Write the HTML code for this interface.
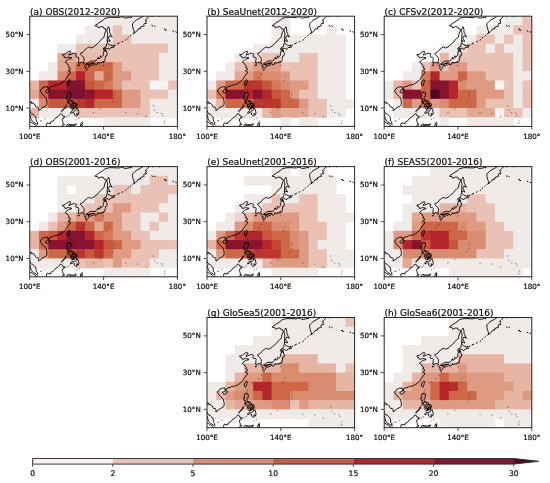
<!DOCTYPE html>
<html><head><meta charset="utf-8"><title>Figure</title>
<style>html,body{margin:0;padding:0;background:#fff}body{width:550px;height:483px;overflow:hidden}svg{display:block}</style>
</head><body>
<svg width="550" height="483" viewBox="0 0 550 483" font-family="'DejaVu Sans', 'Liberation Sans', sans-serif" fill="#111"><style>text{stroke:#111;stroke-width:0.22px}</style>
<rect width="550" height="483" fill="#fff"/>
<g transform="translate(29.8,16.2)">
<svg x="0" y="0" width="147.6" height="110.2" overflow="hidden">
<rect x="64.58" y="0.00" width="9.82" height="9.78" fill="#f0eae9"/>
<rect x="73.80" y="0.00" width="9.82" height="9.78" fill="#f0eae9"/>
<rect x="83.02" y="0.00" width="9.82" height="9.78" fill="#f0eae9"/>
<rect x="92.25" y="0.00" width="9.82" height="9.78" fill="#f0eae9"/>
<rect x="101.47" y="0.00" width="9.82" height="9.78" fill="#f0eae9"/>
<rect x="110.70" y="0.00" width="9.82" height="9.78" fill="#f0eae9"/>
<rect x="119.92" y="0.00" width="9.82" height="9.78" fill="#f0eae9"/>
<rect x="129.15" y="0.00" width="9.82" height="9.78" fill="#f0eae9"/>
<rect x="138.38" y="0.00" width="9.82" height="9.78" fill="#f0eae9"/>
<rect x="55.35" y="9.18" width="9.82" height="9.78" fill="#f0eae9"/>
<rect x="64.58" y="9.18" width="9.82" height="9.78" fill="#f0eae9"/>
<rect x="73.80" y="9.18" width="9.82" height="9.78" fill="#f0eae9"/>
<rect x="83.02" y="9.18" width="9.82" height="9.78" fill="#eac2b5"/>
<rect x="92.25" y="9.18" width="9.82" height="9.78" fill="#f0eae9"/>
<rect x="101.47" y="9.18" width="9.82" height="9.78" fill="#f0eae9"/>
<rect x="110.70" y="9.18" width="9.82" height="9.78" fill="#f0eae9"/>
<rect x="119.92" y="9.18" width="9.82" height="9.78" fill="#f0eae9"/>
<rect x="129.15" y="9.18" width="9.82" height="9.78" fill="#f0eae9"/>
<rect x="138.38" y="9.18" width="9.82" height="9.78" fill="#f0eae9"/>
<rect x="46.12" y="18.37" width="9.82" height="9.78" fill="#f0eae9"/>
<rect x="55.35" y="18.37" width="9.82" height="9.78" fill="#f0eae9"/>
<rect x="64.58" y="18.37" width="9.82" height="9.78" fill="#f0eae9"/>
<rect x="73.80" y="18.37" width="9.82" height="9.78" fill="#f0eae9"/>
<rect x="83.02" y="18.37" width="9.82" height="9.78" fill="#eac2b5"/>
<rect x="92.25" y="18.37" width="9.82" height="9.78" fill="#eac2b5"/>
<rect x="101.47" y="18.37" width="9.82" height="9.78" fill="#f0eae9"/>
<rect x="110.70" y="18.37" width="9.82" height="9.78" fill="#f0eae9"/>
<rect x="119.92" y="18.37" width="9.82" height="9.78" fill="#f0eae9"/>
<rect x="129.15" y="18.37" width="9.82" height="9.78" fill="#f0eae9"/>
<rect x="138.38" y="18.37" width="9.82" height="9.78" fill="#f0eae9"/>
<rect x="27.67" y="27.55" width="9.82" height="9.78" fill="#f0eae9"/>
<rect x="36.90" y="27.55" width="9.82" height="9.78" fill="#f0eae9"/>
<rect x="46.12" y="27.55" width="9.82" height="9.78" fill="#eac2b5"/>
<rect x="55.35" y="27.55" width="9.82" height="9.78" fill="#eac2b5"/>
<rect x="64.58" y="27.55" width="9.82" height="9.78" fill="#eac2b5"/>
<rect x="73.80" y="27.55" width="9.82" height="9.78" fill="#eac2b5"/>
<rect x="83.02" y="27.55" width="9.82" height="9.78" fill="#eac2b5"/>
<rect x="92.25" y="27.55" width="9.82" height="9.78" fill="#eac2b5"/>
<rect x="101.47" y="27.55" width="9.82" height="9.78" fill="#eac2b5"/>
<rect x="110.70" y="27.55" width="9.82" height="9.78" fill="#eac2b5"/>
<rect x="119.92" y="27.55" width="9.82" height="9.78" fill="#eac2b5"/>
<rect x="129.15" y="27.55" width="9.82" height="9.78" fill="#eac2b5"/>
<rect x="138.38" y="27.55" width="9.82" height="9.78" fill="#f0eae9"/>
<rect x="27.67" y="36.73" width="9.82" height="9.78" fill="#e3a893"/>
<rect x="36.90" y="36.73" width="9.82" height="9.78" fill="#e3a893"/>
<rect x="46.12" y="36.73" width="9.82" height="9.78" fill="#e9bdae"/>
<rect x="55.35" y="36.73" width="9.82" height="9.78" fill="#e9bdae"/>
<rect x="64.58" y="36.73" width="9.82" height="9.78" fill="#e9bdae"/>
<rect x="73.80" y="36.73" width="9.82" height="9.78" fill="#eac2b5"/>
<rect x="83.02" y="36.73" width="9.82" height="9.78" fill="#eac2b5"/>
<rect x="92.25" y="36.73" width="9.82" height="9.78" fill="#eac2b5"/>
<rect x="101.47" y="36.73" width="9.82" height="9.78" fill="#eac2b5"/>
<rect x="110.70" y="36.73" width="9.82" height="9.78" fill="#eac2b5"/>
<rect x="119.92" y="36.73" width="9.82" height="9.78" fill="#eac2b5"/>
<rect x="129.15" y="36.73" width="9.82" height="9.78" fill="#f0eae9"/>
<rect x="138.38" y="36.73" width="9.82" height="9.78" fill="#f0eae9"/>
<rect x="18.45" y="45.92" width="9.82" height="9.78" fill="#f0eae9"/>
<rect x="27.67" y="45.92" width="9.82" height="9.78" fill="#e3a893"/>
<rect x="36.90" y="45.92" width="9.82" height="9.78" fill="#de9a82"/>
<rect x="46.12" y="45.92" width="9.82" height="9.78" fill="#cd6745"/>
<rect x="55.35" y="45.92" width="9.82" height="9.78" fill="#cd6745"/>
<rect x="64.58" y="45.92" width="9.82" height="9.78" fill="#cd6745"/>
<rect x="73.80" y="45.92" width="9.82" height="9.78" fill="#cd6745"/>
<rect x="83.02" y="45.92" width="9.82" height="9.78" fill="#de9a82"/>
<rect x="92.25" y="45.92" width="9.82" height="9.78" fill="#eac2b5"/>
<rect x="101.47" y="45.92" width="9.82" height="9.78" fill="#eac2b5"/>
<rect x="110.70" y="45.92" width="9.82" height="9.78" fill="#eac2b5"/>
<rect x="119.92" y="45.92" width="9.82" height="9.78" fill="#eac2b5"/>
<rect x="129.15" y="45.92" width="9.82" height="9.78" fill="#f0eae9"/>
<rect x="138.38" y="45.92" width="9.82" height="9.78" fill="#f0eae9"/>
<rect x="9.22" y="55.10" width="9.82" height="9.78" fill="#f0eae9"/>
<rect x="18.45" y="55.10" width="9.82" height="9.78" fill="#f0eae9"/>
<rect x="27.67" y="55.10" width="9.82" height="9.78" fill="#da8c70"/>
<rect x="36.90" y="55.10" width="9.82" height="9.78" fill="#cd6745"/>
<rect x="46.12" y="55.10" width="9.82" height="9.78" fill="#b5252b"/>
<rect x="55.35" y="55.10" width="9.82" height="9.78" fill="#cd6745"/>
<rect x="64.58" y="55.10" width="9.82" height="9.78" fill="#e3a893"/>
<rect x="73.80" y="55.10" width="9.82" height="9.78" fill="#cd6745"/>
<rect x="83.02" y="55.10" width="9.82" height="9.78" fill="#de9a82"/>
<rect x="92.25" y="55.10" width="9.82" height="9.78" fill="#de9a82"/>
<rect x="101.47" y="55.10" width="9.82" height="9.78" fill="#eac2b5"/>
<rect x="110.70" y="55.10" width="9.82" height="9.78" fill="#eac2b5"/>
<rect x="119.92" y="55.10" width="9.82" height="9.78" fill="#eac2b5"/>
<rect x="129.15" y="55.10" width="9.82" height="9.78" fill="#f0eae9"/>
<rect x="138.38" y="55.10" width="9.82" height="9.78" fill="#f0eae9"/>
<rect x="0.00" y="64.28" width="9.82" height="9.78" fill="#e6b5a4"/>
<rect x="9.22" y="64.28" width="9.82" height="9.78" fill="#cd6745"/>
<rect x="18.45" y="64.28" width="9.82" height="9.78" fill="#b5252b"/>
<rect x="27.67" y="64.28" width="9.82" height="9.78" fill="#b5252b"/>
<rect x="36.90" y="64.28" width="9.82" height="9.78" fill="#881331"/>
<rect x="46.12" y="64.28" width="9.82" height="9.78" fill="#881331"/>
<rect x="55.35" y="64.28" width="9.82" height="9.78" fill="#c8563a"/>
<rect x="64.58" y="64.28" width="9.82" height="9.78" fill="#cd6745"/>
<rect x="73.80" y="64.28" width="9.82" height="9.78" fill="#d47a5a"/>
<rect x="83.02" y="64.28" width="9.82" height="9.78" fill="#de9a82"/>
<rect x="92.25" y="64.28" width="9.82" height="9.78" fill="#eac2b5"/>
<rect x="101.47" y="64.28" width="9.82" height="9.78" fill="#eac2b5"/>
<rect x="110.70" y="64.28" width="9.82" height="9.78" fill="#eac2b5"/>
<rect x="119.92" y="64.28" width="9.82" height="9.78" fill="#f8f4f4"/>
<rect x="129.15" y="64.28" width="9.82" height="9.78" fill="#f8f4f4"/>
<rect x="138.38" y="64.28" width="9.82" height="9.78" fill="#eac2b5"/>
<rect x="0.00" y="73.47" width="9.82" height="9.78" fill="#e3a893"/>
<rect x="9.22" y="73.47" width="9.82" height="9.78" fill="#cd6745"/>
<rect x="18.45" y="73.47" width="9.82" height="9.78" fill="#881331"/>
<rect x="27.67" y="73.47" width="9.82" height="9.78" fill="#881331"/>
<rect x="36.90" y="73.47" width="9.82" height="9.78" fill="#7a1230"/>
<rect x="46.12" y="73.47" width="9.82" height="9.78" fill="#7a1230"/>
<rect x="55.35" y="73.47" width="9.82" height="9.78" fill="#881331"/>
<rect x="64.58" y="73.47" width="9.82" height="9.78" fill="#b5252b"/>
<rect x="73.80" y="73.47" width="9.82" height="9.78" fill="#b5252b"/>
<rect x="83.02" y="73.47" width="9.82" height="9.78" fill="#cd6745"/>
<rect x="92.25" y="73.47" width="9.82" height="9.78" fill="#de9a82"/>
<rect x="101.47" y="73.47" width="9.82" height="9.78" fill="#de9a82"/>
<rect x="110.70" y="73.47" width="9.82" height="9.78" fill="#eac2b5"/>
<rect x="119.92" y="73.47" width="9.82" height="9.78" fill="#eac2b5"/>
<rect x="129.15" y="73.47" width="9.82" height="9.78" fill="#eac2b5"/>
<rect x="138.38" y="73.47" width="9.82" height="9.78" fill="#f0eae9"/>
<rect x="0.00" y="82.65" width="9.82" height="9.78" fill="#f0eae9"/>
<rect x="9.22" y="82.65" width="9.82" height="9.78" fill="#da8c70"/>
<rect x="18.45" y="82.65" width="9.82" height="9.78" fill="#c8563a"/>
<rect x="27.67" y="82.65" width="9.82" height="9.78" fill="#c8563a"/>
<rect x="36.90" y="82.65" width="9.82" height="9.78" fill="#c8563a"/>
<rect x="46.12" y="82.65" width="9.82" height="9.78" fill="#bc362e"/>
<rect x="55.35" y="82.65" width="9.82" height="9.78" fill="#b5252b"/>
<rect x="64.58" y="82.65" width="9.82" height="9.78" fill="#cd6745"/>
<rect x="73.80" y="82.65" width="9.82" height="9.78" fill="#cd6745"/>
<rect x="83.02" y="82.65" width="9.82" height="9.78" fill="#cd6745"/>
<rect x="92.25" y="82.65" width="9.82" height="9.78" fill="#de9a82"/>
<rect x="101.47" y="82.65" width="9.82" height="9.78" fill="#de9a82"/>
<rect x="110.70" y="82.65" width="9.82" height="9.78" fill="#eac2b5"/>
<rect x="119.92" y="82.65" width="9.82" height="9.78" fill="#f0eae9"/>
<rect x="129.15" y="82.65" width="9.82" height="9.78" fill="#f0eae9"/>
<rect x="138.38" y="82.65" width="9.82" height="9.78" fill="#f0eae9"/>
<rect x="0.00" y="91.83" width="9.82" height="9.78" fill="#e6b5a4"/>
<rect x="9.22" y="91.83" width="9.82" height="9.78" fill="#f0eae9"/>
<rect x="18.45" y="91.83" width="9.82" height="9.78" fill="#f0eae9"/>
<rect x="27.67" y="91.83" width="9.82" height="9.78" fill="#f0eae9"/>
<rect x="36.90" y="91.83" width="9.82" height="9.78" fill="#f0eae9"/>
<rect x="46.12" y="91.83" width="9.82" height="9.78" fill="#eac2b5"/>
<rect x="55.35" y="91.83" width="9.82" height="9.78" fill="#eac2b5"/>
<rect x="64.58" y="91.83" width="9.82" height="9.78" fill="#eac2b5"/>
<rect x="73.80" y="91.83" width="9.82" height="9.78" fill="#eac2b5"/>
<rect x="83.02" y="91.83" width="9.82" height="9.78" fill="#eac2b5"/>
<rect x="92.25" y="91.83" width="9.82" height="9.78" fill="#eac2b5"/>
<rect x="101.47" y="91.83" width="9.82" height="9.78" fill="#eac2b5"/>
<rect x="110.70" y="91.83" width="9.82" height="9.78" fill="#eac2b5"/>
<rect x="119.92" y="91.83" width="9.82" height="9.78" fill="#f0eae9"/>
<rect x="129.15" y="91.83" width="9.82" height="9.78" fill="#f0eae9"/>
<rect x="138.38" y="91.83" width="9.82" height="9.78" fill="#f0eae9"/>
<rect x="73.80" y="101.02" width="9.82" height="9.78" fill="#f0eae9"/>
<rect x="83.02" y="101.02" width="9.82" height="9.78" fill="#f0eae9"/>
<rect x="92.25" y="101.02" width="9.82" height="9.78" fill="#f0eae9"/>
<rect x="101.47" y="101.02" width="9.82" height="9.78" fill="#f0eae9"/>
<rect x="110.70" y="101.02" width="9.82" height="9.78" fill="#f0eae9"/>
<path d="M7.0 110.2 L6.3 109.3 L5.4 108.7 L4.1 107.6 L2.6 107.1 L1.8 106.2 L0.7 106.0 L0.0 105.1M0.0 98.4 L0.6 99.9 L0.7 101.2 L1.1 102.5 L1.7 103.6 L2.4 104.9 L3.5 105.8 L4.8 106.5 L6.3 107.4 L6.6 107.8 L7.6 107.6 L7.7 106.0 L6.5 104.9 L6.3 103.6 L6.3 102.3 L5.7 100.6 L4.6 99.4 L3.9 98.8 L3.0 97.7 L1.8 97.5 L0.9 96.8 L0.4 95.0 L0.0 94.0M0.0 87.8 L0.0 85.8 L0.9 85.4 L1.8 85.8 L1.7 87.1 L3.1 86.9 L4.2 87.8 L5.4 88.7 L5.7 90.2 L6.6 90.9 L8.1 91.1 L9.0 91.8 L8.9 94.4 L9.8 93.9 L11.4 92.9 L12.5 91.3 L13.5 90.9 L14.8 90.5 L16.4 89.4 L17.0 88.3 L17.2 86.5 L17.0 84.9 L16.4 82.1 L15.3 80.6 L14.0 79.5 L12.4 77.7 L11.8 76.6 L10.5 75.5 L10.9 73.7 L12.2 72.7 L12.5 71.8 L14.2 71.1 L15.5 70.5 L16.8 70.7 L17.7 70.3 L18.3 72.7 L19.0 72.9 L19.4 72.4 L19.2 71.3 L20.3 70.7 L22.1 70.2 L24.0 69.8 L25.1 68.5 L26.2 69.2 L27.7 68.5 L29.5 68.1 L31.2 67.0 L32.8 66.1 L33.6 65.0 L34.9 64.3 L36.0 63.2 L36.3 61.9 L37.3 60.6 L38.4 59.0 L39.7 57.9 L40.4 56.6 L40.4 55.3 L39.1 54.5 L38.4 54.7 L39.5 53.8 L40.4 53.4 L40.4 52.2 L38.7 51.4 L39.5 50.5 L38.4 49.0 L37.5 47.4 L35.4 46.1 L35.8 45.2 L37.3 44.1 L38.4 43.2 L39.9 42.6 L41.5 42.4 L41.7 41.5 L39.7 41.3 L38.4 40.8 L36.5 41.7 L35.1 41.7 L34.9 40.4 L32.8 39.3 L32.7 38.4 L33.9 38.4 L35.4 37.8 L36.7 36.7 L38.6 35.4 L40.2 35.1 L41.0 35.8 L39.7 37.5 L39.1 38.9 L40.2 38.6 L42.4 37.5 L44.6 36.9 L45.8 37.5 L46.7 37.8 L46.1 39.3 L45.8 40.2 L46.9 41.0 L48.2 41.0 L49.3 41.9 L48.9 43.0 L48.9 44.3 L48.7 45.9 L48.5 46.8 L49.8 47.0 L51.1 46.3 L52.8 46.1 L53.9 45.5 L54.4 44.1 L54.2 42.2 L53.3 40.8 L52.2 39.3 L50.7 38.0 L50.7 37.1 L52.2 36.5 L53.9 35.4 L54.8 34.2 L55.4 33.1 L56.6 32.5 L57.6 31.6 L58.9 31.0 L59.6 30.7 L61.1 31.8 L62.7 31.2 L64.8 30.1 L66.1 28.7 L67.9 27.2 L69.6 25.7 L70.8 23.9 L72.3 22.4 L74.2 21.1 L74.5 19.3 L74.9 17.4 L75.6 15.6 L76.4 14.3 L76.0 12.7 L74.4 12.5 L73.4 10.7 L71.4 10.5 L69.6 11.2 L68.6 11.8 L67.7 9.9 L65.1 9.6 L66.1 8.8 L68.6 7.0 L71.0 5.5 L73.8 3.7 L75.1 2.2 L77.9 1.5 L79.7 1.1 L83.9 1.1 L86.7 1.3 L89.5 1.3 L90.8 0.6 L93.2 0.7 L94.6 1.8 L96.5 1.8 L98.3 1.5 L100.2 0.9 L101.8 1.3 L101.3 0.0M113.1 0.0 L110.3 1.8 L107.0 3.5 L104.8 5.3 L102.8 7.3 L102.6 9.2 L103.0 11.0 L103.5 12.9 L104.2 14.7 L104.6 16.7 L106.1 15.6 L107.6 14.3 L108.1 12.9 L110.7 12.5 L110.5 11.0 L113.8 9.9 L114.6 9.6 L113.8 8.6 L114.6 7.2 L116.8 7.0 L115.9 6.1 L116.6 4.6 L115.3 4.0 L116.8 2.8 L117.7 1.8 L119.2 0.2 L119.6 0.0M121.8 0.0 L122.3 0.4 L123.2 0.0M128.8 0.0 L129.7 0.2 L130.1 0.0M77.5 25.7 L77.3 23.9 L77.7 22.0 L77.5 20.2 L77.9 18.4 L77.7 16.5 L76.9 14.7 L77.3 12.9 L78.0 11.9 L78.8 10.5 L79.3 11.9 L79.9 13.8 L79.7 15.6 L80.6 17.4 L81.4 19.5 L82.5 20.8 L80.8 19.8 L79.2 20.0 L78.6 22.0 L79.3 23.5 L80.3 24.2 L80.3 25.5 L79.0 24.6 L78.2 24.6ZM74.2 34.2 L73.4 32.7 L74.4 31.2 L76.2 30.7 L76.8 28.8 L77.1 27.0 L77.5 26.6 L79.2 28.1 L80.8 29.0 L82.7 29.6 L83.6 28.8 L83.2 29.9 L84.5 30.7 L83.0 31.2 L81.2 31.4 L79.9 32.5 L79.7 33.1 L78.4 32.5 L77.1 32.0 L75.6 32.5 L74.5 32.3 L74.7 33.1 L76.0 33.4 L75.1 34.0ZM76.4 34.2 L76.6 35.8 L77.5 37.5 L76.8 39.7 L75.6 40.0 L75.5 42.2 L74.9 43.5 L75.3 44.6 L74.4 45.5 L73.6 46.1 L73.6 45.0 L73.1 45.5 L72.1 45.7 L71.6 46.7 L71.0 45.9 L70.5 46.7 L68.8 46.7 L68.1 45.9 L68.1 47.2 L67.0 47.9 L66.1 48.9 L64.8 47.9 L64.9 47.2 L64.6 46.7 L62.7 46.7 L60.9 47.2 L59.4 47.9 L57.2 47.9 L57.0 47.2 L57.9 46.8 L59.6 45.5 L61.1 44.8 L63.1 44.8 L65.1 44.8 L66.2 44.6 L66.6 43.7 L67.7 42.6 L67.9 41.5 L68.8 41.3 L68.3 42.4 L69.0 42.6 L70.5 41.9 L71.6 40.8 L72.7 40.0 L73.4 38.8 L73.8 37.5 L73.4 36.9 L73.8 35.8 L74.4 34.7 L75.1 35.1 L75.8 34.7 L75.5 34.0ZM60.1 47.8 L60.9 47.8 L62.0 47.2 L63.5 47.2 L64.0 48.1 L63.1 49.0 L62.0 48.7 L60.9 50.0 L60.0 49.6 L59.8 48.7ZM57.0 47.9 L58.5 48.5 L58.9 49.2 L58.9 50.3 L57.9 52.2 L57.2 52.9 L56.6 53.3 L55.7 52.7 L55.7 51.4 L56.5 50.3 L55.7 50.1 L55.0 50.1 L54.8 49.2 L55.4 48.7 L56.1 48.3ZM39.7 63.7 L40.6 64.3 L40.2 65.2 L39.9 66.3 L39.5 67.8 L38.6 69.8 L37.5 68.7 L37.1 67.6 L37.3 66.5 L38.2 65.0 L38.9 64.1ZM16.1 74.8 L17.0 73.7 L18.4 73.3 L19.7 73.3 L20.3 74.0 L19.4 75.7 L18.4 76.4 L17.5 76.8 L16.1 76.2 L15.9 75.3ZM38.0 76.2 L38.7 76.0 L40.4 76.6 L41.0 76.2 L41.3 78.4 L41.0 80.3 L39.9 81.0 L39.9 82.7 L40.0 83.9 L41.1 84.1 L42.3 84.3 L43.0 84.9 L44.1 84.9 L44.5 86.3 L44.5 87.1 L43.2 86.5 L42.4 85.8 L41.7 85.8 L41.5 84.7 L40.2 84.7 L39.3 85.2 L38.2 84.7 L38.0 83.8 L38.6 83.4 L38.0 83.0 L37.1 83.0 L36.7 81.2 L36.5 80.3 L37.5 80.6 L37.5 79.7 L37.6 78.1ZM37.5 85.6 L38.9 85.6 L39.7 86.9 L39.1 87.8 L38.4 86.9ZM31.7 94.8 L33.2 93.3 L35.1 91.3 L36.0 89.4 L36.3 90.9 L34.7 92.8 L33.0 94.2ZM44.8 87.2 L46.7 87.2 L47.2 88.9 L47.4 89.8 L46.1 89.4 L45.8 88.5ZM45.0 89.3 L46.1 89.6 L46.5 91.3 L45.8 91.6 L45.0 90.2ZM40.6 88.3 L42.6 88.9 L42.1 90.2 L40.6 90.9 L40.4 89.3ZM41.3 91.8 L42.8 90.2 L43.4 90.7 L42.8 92.9 L42.3 93.5 L41.3 92.4ZM43.2 92.8 L43.7 91.3 L44.3 89.6 L44.1 91.3ZM43.9 92.4 L44.8 91.6 L45.4 92.2 L44.6 92.6ZM42.8 87.2 L44.1 87.8 L43.5 88.3ZM46.9 92.2 L48.3 93.1 L48.7 95.1 L49.1 96.8 L48.3 98.6 L47.4 97.5 L47.2 97.0 L46.9 97.9 L47.4 99.4 L46.7 99.9 L45.4 99.2 L44.3 98.3 L44.6 96.8 L43.7 96.1 L43.2 96.6 L42.1 96.4 L40.8 97.5 L40.8 96.2 L41.5 95.3 L43.0 94.4 L43.9 95.3 L44.8 94.6 L45.8 94.4 L46.3 93.7ZM16.8 110.2 L16.6 108.4 L17.3 106.7 L19.0 107.1 L20.7 107.4 L21.0 105.8 L23.1 104.7 L24.5 103.6 L25.6 101.9 L27.3 101.0 L28.8 99.9 L29.7 98.8 L30.8 97.3 L31.7 97.9 L32.7 98.6 L32.7 99.5 L34.3 100.1 L35.4 100.6 L33.8 101.2 L34.1 102.1 L32.7 102.5 L32.3 103.8 L32.8 105.1 L33.2 106.2 L33.0 107.1 L34.9 108.4 L33.0 108.7 L32.3 110.2M36.7 110.2 L37.1 108.7 L38.6 107.8 L40.6 108.4 L42.4 108.5 L44.8 108.4 L46.1 107.3 L46.5 107.6 L45.2 109.5 L43.4 109.6 L40.6 109.3 L38.7 109.5 L37.5 110.2M50.7 110.2 L50.7 108.4 L51.7 106.3 L53.0 107.4 L51.7 108.5 L53.0 109.5 L52.0 109.6 L51.5 110.2M48.3 49.0 L49.6 48.7 L49.6 49.0 L48.5 49.2ZM53.9 47.6 L54.4 46.5 L54.2 47.2ZM70.5 39.9 L71.0 40.2 L71.2 40.8 L70.7 40.6Z" fill="none" stroke="#000" stroke-width="0.9" stroke-linejoin="round" stroke-linecap="round"/><path d="M51.5 61.7l0.7 -0.9M54.2 58.2l0.7 -0.6M44.6 65.4l0.7 -0.2M46.7 64.7l0.5 -0.0M56.3 54.4l0.6 -0.0M57.2 54.0l0.0 -0.6M82.5 85.6l0.5 -0.4M84.3 82.5l0.5 -0.4M84.5 79.5l0.5 -0.4M84.3 77.0l0.5 -0.4M63.7 96.6l0.2 -0.6M70.3 92.8l0.5 -0.2M95.6 96.6l0.5 -0.0M107.4 97.5l0.5 -0.0M116.2 100.5l0.5 -0.0M124.5 93.7l0.6 0.4M127.3 96.4l0.5 -0.0M131.4 97.2l0.6 -0.0M132.7 99.2l0.5 -0.2M134.5 107.4l0.2 -0.7M134.7 104.7l0.5 -0.4M123.4 89.4l0.5 0.0M77.9 60.6l0.5 -0.4M76.2 64.7l0.5 -0.2M73.4 49.4l0.5 -0.2M72.7 46.5l0.5 -0.2M7.4 108.4l0.9 -0.0M8.3 109.8l0.6 0.4M14.9 103.0l0.5 -0.2M11.4 104.5l0.5 -0.0M10.5 104.9l0.5 -0.0M40.4 72.7l0.5 -0.4M39.7 74.8l0.5 0.0M48.0 92.2l0.2 -0.6M36.9 88.2l0.6 -0.4M36.7 88.3l0.4 0.6M38.7 99.2l0.6 0.0M36.9 100.6l0.6 0.2M46.9 103.6l0.5 -0.4M49.4 102.5l0.5 -0.4M52.4 106.0l0.2 -0.6M31.9 95.5l0.5 0.4M40.6 87.2l0.4 0.6M41.5 87.4l0.5 0.0" fill="none" stroke="#222" stroke-width="0.75" stroke-linecap="round" opacity="0.75"/><path d="M84.5 29.4l1.1 -0.7M87.8 27.6l1.7 -0.9M92.1 25.7l0.9 -0.6M95.9 23.9l0.6 -0.4M98.0 21.7l0.5 -0.4M100.6 19.7l0.5 -0.4M103.0 17.8l0.7 -0.7M104.1 16.9l0.5 -0.2M122.1 9.2l0.9 0.7M124.7 9.7l0.6 0.4M134.5 13.0l0.9 -0.0M135.8 14.0l0.6 -0.0M143.0 14.7l0.7 0.4M145.8 15.6l0.7 0.4" fill="none" stroke="#000" stroke-width="1" stroke-linecap="round"/>
</svg>
<rect x="0" y="0" width="147.6" height="110.2" fill="none" stroke="#262626" stroke-width="1"/>
<path d="M0 91.83h-3.4" stroke="#262626" stroke-width="0.8"/>
<text x="-6.3" y="94.33" font-size="7.1" text-anchor="end">10°N</text>
<path d="M0 55.10h-3.4" stroke="#262626" stroke-width="0.8"/>
<text x="-6.3" y="57.60" font-size="7.1" text-anchor="end">30°N</text>
<path d="M0 18.37h-3.4" stroke="#262626" stroke-width="0.8"/>
<text x="-6.3" y="20.87" font-size="7.1" text-anchor="end">50°N</text>
<path d="M0.00 110.2v3.4" stroke="#262626" stroke-width="0.8"/>
<text x="0.00" y="122.80" font-size="7.1" text-anchor="middle">100°E</text>
<path d="M73.80 110.2v3.4" stroke="#262626" stroke-width="0.8"/>
<text x="73.80" y="122.80" font-size="7.1" text-anchor="middle">140°E</text>
<path d="M147.60 110.2v3.4" stroke="#262626" stroke-width="0.8"/>
<text x="147.60" y="122.80" font-size="7.1" text-anchor="middle">180°</text>
<text x="0.2" y="-1.7" font-size="9.0">(a) OBS(2012-2020)</text>
</g>
<g transform="translate(207.0,16.2)">
<svg x="0" y="0" width="147.6" height="110.2" overflow="hidden">
<rect x="64.58" y="0.00" width="9.82" height="9.78" fill="#f0eae9"/>
<rect x="73.80" y="0.00" width="9.82" height="9.78" fill="#f0eae9"/>
<rect x="64.58" y="9.18" width="9.82" height="9.78" fill="#f0eae9"/>
<rect x="73.80" y="9.18" width="9.82" height="9.78" fill="#f0eae9"/>
<rect x="119.92" y="9.18" width="9.82" height="9.78" fill="#f0eae9"/>
<rect x="64.58" y="18.37" width="9.82" height="9.78" fill="#f0eae9"/>
<rect x="73.80" y="18.37" width="9.82" height="9.78" fill="#f0eae9"/>
<rect x="83.02" y="18.37" width="9.82" height="9.78" fill="#f0eae9"/>
<rect x="92.25" y="18.37" width="9.82" height="9.78" fill="#f0eae9"/>
<rect x="101.47" y="18.37" width="9.82" height="9.78" fill="#f0eae9"/>
<rect x="110.70" y="18.37" width="9.82" height="9.78" fill="#f0eae9"/>
<rect x="119.92" y="18.37" width="9.82" height="9.78" fill="#f0eae9"/>
<rect x="129.15" y="18.37" width="9.82" height="9.78" fill="#f0eae9"/>
<rect x="46.12" y="27.55" width="9.82" height="9.78" fill="#f0eae9"/>
<rect x="55.35" y="27.55" width="9.82" height="9.78" fill="#f0eae9"/>
<rect x="64.58" y="27.55" width="9.82" height="9.78" fill="#f0eae9"/>
<rect x="73.80" y="27.55" width="9.82" height="9.78" fill="#f0eae9"/>
<rect x="83.02" y="27.55" width="9.82" height="9.78" fill="#f0eae9"/>
<rect x="92.25" y="27.55" width="9.82" height="9.78" fill="#f0eae9"/>
<rect x="101.47" y="27.55" width="9.82" height="9.78" fill="#f0eae9"/>
<rect x="110.70" y="27.55" width="9.82" height="9.78" fill="#f0eae9"/>
<rect x="119.92" y="27.55" width="9.82" height="9.78" fill="#f0eae9"/>
<rect x="129.15" y="27.55" width="9.82" height="9.78" fill="#f0eae9"/>
<rect x="27.67" y="36.73" width="9.82" height="9.78" fill="#f0eae9"/>
<rect x="36.90" y="36.73" width="9.82" height="9.78" fill="#f0eae9"/>
<rect x="46.12" y="36.73" width="9.82" height="9.78" fill="#edd6cf"/>
<rect x="55.35" y="36.73" width="9.82" height="9.78" fill="#eac2b5"/>
<rect x="64.58" y="36.73" width="9.82" height="9.78" fill="#eac2b5"/>
<rect x="73.80" y="36.73" width="9.82" height="9.78" fill="#f0eae9"/>
<rect x="83.02" y="36.73" width="9.82" height="9.78" fill="#f0eae9"/>
<rect x="92.25" y="36.73" width="9.82" height="9.78" fill="#eac2b5"/>
<rect x="101.47" y="36.73" width="9.82" height="9.78" fill="#eac2b5"/>
<rect x="110.70" y="36.73" width="9.82" height="9.78" fill="#f0eae9"/>
<rect x="119.92" y="36.73" width="9.82" height="9.78" fill="#f0eae9"/>
<rect x="129.15" y="36.73" width="9.82" height="9.78" fill="#f0eae9"/>
<rect x="18.45" y="45.92" width="9.82" height="9.78" fill="#f0eae9"/>
<rect x="27.67" y="45.92" width="9.82" height="9.78" fill="#eac2b5"/>
<rect x="36.90" y="45.92" width="9.82" height="9.78" fill="#e6b5a4"/>
<rect x="46.12" y="45.92" width="9.82" height="9.78" fill="#de9a82"/>
<rect x="55.35" y="45.92" width="9.82" height="9.78" fill="#de9a82"/>
<rect x="64.58" y="45.92" width="9.82" height="9.78" fill="#de9a82"/>
<rect x="73.80" y="45.92" width="9.82" height="9.78" fill="#eac2b5"/>
<rect x="83.02" y="45.92" width="9.82" height="9.78" fill="#eac2b5"/>
<rect x="92.25" y="45.92" width="9.82" height="9.78" fill="#eac2b5"/>
<rect x="101.47" y="45.92" width="9.82" height="9.78" fill="#eac2b5"/>
<rect x="110.70" y="45.92" width="9.82" height="9.78" fill="#f0eae9"/>
<rect x="119.92" y="45.92" width="9.82" height="9.78" fill="#f0eae9"/>
<rect x="129.15" y="45.92" width="9.82" height="9.78" fill="#f0eae9"/>
<rect x="9.22" y="55.10" width="9.82" height="9.78" fill="#f0eae9"/>
<rect x="18.45" y="55.10" width="9.82" height="9.78" fill="#f0eae9"/>
<rect x="27.67" y="55.10" width="9.82" height="9.78" fill="#e3a893"/>
<rect x="36.90" y="55.10" width="9.82" height="9.78" fill="#de9a82"/>
<rect x="46.12" y="55.10" width="9.82" height="9.78" fill="#d47a5a"/>
<rect x="55.35" y="55.10" width="9.82" height="9.78" fill="#da8c70"/>
<rect x="64.58" y="55.10" width="9.82" height="9.78" fill="#da8c70"/>
<rect x="73.80" y="55.10" width="9.82" height="9.78" fill="#de9a82"/>
<rect x="83.02" y="55.10" width="9.82" height="9.78" fill="#eac2b5"/>
<rect x="92.25" y="55.10" width="9.82" height="9.78" fill="#eac2b5"/>
<rect x="101.47" y="55.10" width="9.82" height="9.78" fill="#eac2b5"/>
<rect x="110.70" y="55.10" width="9.82" height="9.78" fill="#f0eae9"/>
<rect x="119.92" y="55.10" width="9.82" height="9.78" fill="#f0eae9"/>
<rect x="129.15" y="55.10" width="9.82" height="9.78" fill="#f0eae9"/>
<rect x="0.00" y="64.28" width="9.82" height="9.78" fill="#f0eae9"/>
<rect x="9.22" y="64.28" width="9.82" height="9.78" fill="#de9a82"/>
<rect x="18.45" y="64.28" width="9.82" height="9.78" fill="#cd6745"/>
<rect x="27.67" y="64.28" width="9.82" height="9.78" fill="#cd6745"/>
<rect x="36.90" y="64.28" width="9.82" height="9.78" fill="#bc362e"/>
<rect x="46.12" y="64.28" width="9.82" height="9.78" fill="#bc362e"/>
<rect x="55.35" y="64.28" width="9.82" height="9.78" fill="#c8563a"/>
<rect x="64.58" y="64.28" width="9.82" height="9.78" fill="#d47a5a"/>
<rect x="73.80" y="64.28" width="9.82" height="9.78" fill="#da8c70"/>
<rect x="83.02" y="64.28" width="9.82" height="9.78" fill="#de9a82"/>
<rect x="92.25" y="64.28" width="9.82" height="9.78" fill="#de9a82"/>
<rect x="101.47" y="64.28" width="9.82" height="9.78" fill="#eac2b5"/>
<rect x="110.70" y="64.28" width="9.82" height="9.78" fill="#f0eae9"/>
<rect x="119.92" y="64.28" width="9.82" height="9.78" fill="#f0eae9"/>
<rect x="129.15" y="64.28" width="9.82" height="9.78" fill="#f0eae9"/>
<rect x="0.00" y="73.47" width="9.82" height="9.78" fill="#eac2b5"/>
<rect x="9.22" y="73.47" width="9.82" height="9.78" fill="#d47a5a"/>
<rect x="18.45" y="73.47" width="9.82" height="9.78" fill="#881331"/>
<rect x="27.67" y="73.47" width="9.82" height="9.78" fill="#881331"/>
<rect x="36.90" y="73.47" width="9.82" height="9.78" fill="#b5252b"/>
<rect x="46.12" y="73.47" width="9.82" height="9.78" fill="#881331"/>
<rect x="55.35" y="73.47" width="9.82" height="9.78" fill="#b5252b"/>
<rect x="64.58" y="73.47" width="9.82" height="9.78" fill="#c8563a"/>
<rect x="73.80" y="73.47" width="9.82" height="9.78" fill="#cd6745"/>
<rect x="83.02" y="73.47" width="9.82" height="9.78" fill="#de9a82"/>
<rect x="92.25" y="73.47" width="9.82" height="9.78" fill="#eac2b5"/>
<rect x="101.47" y="73.47" width="9.82" height="9.78" fill="#eac2b5"/>
<rect x="110.70" y="73.47" width="9.82" height="9.78" fill="#f0eae9"/>
<rect x="119.92" y="73.47" width="9.82" height="9.78" fill="#f0eae9"/>
<rect x="129.15" y="73.47" width="9.82" height="9.78" fill="#f0eae9"/>
<rect x="0.00" y="82.65" width="9.82" height="9.78" fill="#f0eae9"/>
<rect x="9.22" y="82.65" width="9.82" height="9.78" fill="#e6b5a4"/>
<rect x="18.45" y="82.65" width="9.82" height="9.78" fill="#cd6745"/>
<rect x="27.67" y="82.65" width="9.82" height="9.78" fill="#cd6745"/>
<rect x="36.90" y="82.65" width="9.82" height="9.78" fill="#cd6745"/>
<rect x="46.12" y="82.65" width="9.82" height="9.78" fill="#bc362e"/>
<rect x="55.35" y="82.65" width="9.82" height="9.78" fill="#bc362e"/>
<rect x="64.58" y="82.65" width="9.82" height="9.78" fill="#bc362e"/>
<rect x="73.80" y="82.65" width="9.82" height="9.78" fill="#cd6745"/>
<rect x="83.02" y="82.65" width="9.82" height="9.78" fill="#cd6745"/>
<rect x="92.25" y="82.65" width="9.82" height="9.78" fill="#de9a82"/>
<rect x="101.47" y="82.65" width="9.82" height="9.78" fill="#eac2b5"/>
<rect x="110.70" y="82.65" width="9.82" height="9.78" fill="#eac2b5"/>
<rect x="119.92" y="82.65" width="9.82" height="9.78" fill="#f0eae9"/>
<rect x="129.15" y="82.65" width="9.82" height="9.78" fill="#f0eae9"/>
<rect x="138.38" y="82.65" width="9.82" height="9.78" fill="#f0eae9"/>
<rect x="0.00" y="91.83" width="9.82" height="9.78" fill="#f0eae9"/>
<rect x="9.22" y="91.83" width="9.82" height="9.78" fill="#f0eae9"/>
<rect x="18.45" y="91.83" width="9.82" height="9.78" fill="#f0eae9"/>
<rect x="27.67" y="91.83" width="9.82" height="9.78" fill="#f0eae9"/>
<rect x="36.90" y="91.83" width="9.82" height="9.78" fill="#f0eae9"/>
<rect x="46.12" y="91.83" width="9.82" height="9.78" fill="#f0eae9"/>
<rect x="55.35" y="91.83" width="9.82" height="9.78" fill="#e6b5a4"/>
<rect x="64.58" y="91.83" width="9.82" height="9.78" fill="#de9a82"/>
<rect x="73.80" y="91.83" width="9.82" height="9.78" fill="#e3a893"/>
<rect x="83.02" y="91.83" width="9.82" height="9.78" fill="#e3a893"/>
<rect x="92.25" y="91.83" width="9.82" height="9.78" fill="#e3a893"/>
<rect x="101.47" y="91.83" width="9.82" height="9.78" fill="#eac2b5"/>
<rect x="110.70" y="91.83" width="9.82" height="9.78" fill="#eac2b5"/>
<rect x="119.92" y="91.83" width="9.82" height="9.78" fill="#f0eae9"/>
<rect x="129.15" y="91.83" width="9.82" height="9.78" fill="#f0eae9"/>
<rect x="73.80" y="101.02" width="9.82" height="9.78" fill="#f0eae9"/>
<rect x="92.25" y="101.02" width="9.82" height="9.78" fill="#f0eae9"/>
<rect x="101.47" y="101.02" width="9.82" height="9.78" fill="#f0eae9"/>
<path d="M7.0 110.2 L6.3 109.3 L5.4 108.7 L4.1 107.6 L2.6 107.1 L1.8 106.2 L0.7 106.0 L0.0 105.1M0.0 98.4 L0.6 99.9 L0.7 101.2 L1.1 102.5 L1.7 103.6 L2.4 104.9 L3.5 105.8 L4.8 106.5 L6.3 107.4 L6.6 107.8 L7.6 107.6 L7.7 106.0 L6.5 104.9 L6.3 103.6 L6.3 102.3 L5.7 100.6 L4.6 99.4 L3.9 98.8 L3.0 97.7 L1.8 97.5 L0.9 96.8 L0.4 95.0 L0.0 94.0M0.0 87.8 L0.0 85.8 L0.9 85.4 L1.8 85.8 L1.7 87.1 L3.1 86.9 L4.2 87.8 L5.4 88.7 L5.7 90.2 L6.6 90.9 L8.1 91.1 L9.0 91.8 L8.9 94.4 L9.8 93.9 L11.4 92.9 L12.5 91.3 L13.5 90.9 L14.8 90.5 L16.4 89.4 L17.0 88.3 L17.2 86.5 L17.0 84.9 L16.4 82.1 L15.3 80.6 L14.0 79.5 L12.4 77.7 L11.8 76.6 L10.5 75.5 L10.9 73.7 L12.2 72.7 L12.5 71.8 L14.2 71.1 L15.5 70.5 L16.8 70.7 L17.7 70.3 L18.3 72.7 L19.0 72.9 L19.4 72.4 L19.2 71.3 L20.3 70.7 L22.1 70.2 L24.0 69.8 L25.1 68.5 L26.2 69.2 L27.7 68.5 L29.5 68.1 L31.2 67.0 L32.8 66.1 L33.6 65.0 L34.9 64.3 L36.0 63.2 L36.3 61.9 L37.3 60.6 L38.4 59.0 L39.7 57.9 L40.4 56.6 L40.4 55.3 L39.1 54.5 L38.4 54.7 L39.5 53.8 L40.4 53.4 L40.4 52.2 L38.7 51.4 L39.5 50.5 L38.4 49.0 L37.5 47.4 L35.4 46.1 L35.8 45.2 L37.3 44.1 L38.4 43.2 L39.9 42.6 L41.5 42.4 L41.7 41.5 L39.7 41.3 L38.4 40.8 L36.5 41.7 L35.1 41.7 L34.9 40.4 L32.8 39.3 L32.7 38.4 L33.9 38.4 L35.4 37.8 L36.7 36.7 L38.6 35.4 L40.2 35.1 L41.0 35.8 L39.7 37.5 L39.1 38.9 L40.2 38.6 L42.4 37.5 L44.6 36.9 L45.8 37.5 L46.7 37.8 L46.1 39.3 L45.8 40.2 L46.9 41.0 L48.2 41.0 L49.3 41.9 L48.9 43.0 L48.9 44.3 L48.7 45.9 L48.5 46.8 L49.8 47.0 L51.1 46.3 L52.8 46.1 L53.9 45.5 L54.4 44.1 L54.2 42.2 L53.3 40.8 L52.2 39.3 L50.7 38.0 L50.7 37.1 L52.2 36.5 L53.9 35.4 L54.8 34.2 L55.4 33.1 L56.6 32.5 L57.6 31.6 L58.9 31.0 L59.6 30.7 L61.1 31.8 L62.7 31.2 L64.8 30.1 L66.1 28.7 L67.9 27.2 L69.6 25.7 L70.8 23.9 L72.3 22.4 L74.2 21.1 L74.5 19.3 L74.9 17.4 L75.6 15.6 L76.4 14.3 L76.0 12.7 L74.4 12.5 L73.4 10.7 L71.4 10.5 L69.6 11.2 L68.6 11.8 L67.7 9.9 L65.1 9.6 L66.1 8.8 L68.6 7.0 L71.0 5.5 L73.8 3.7 L75.1 2.2 L77.9 1.5 L79.7 1.1 L83.9 1.1 L86.7 1.3 L89.5 1.3 L90.8 0.6 L93.2 0.7 L94.6 1.8 L96.5 1.8 L98.3 1.5 L100.2 0.9 L101.8 1.3 L101.3 0.0M113.1 0.0 L110.3 1.8 L107.0 3.5 L104.8 5.3 L102.8 7.3 L102.6 9.2 L103.0 11.0 L103.5 12.9 L104.2 14.7 L104.6 16.7 L106.1 15.6 L107.6 14.3 L108.1 12.9 L110.7 12.5 L110.5 11.0 L113.8 9.9 L114.6 9.6 L113.8 8.6 L114.6 7.2 L116.8 7.0 L115.9 6.1 L116.6 4.6 L115.3 4.0 L116.8 2.8 L117.7 1.8 L119.2 0.2 L119.6 0.0M121.8 0.0 L122.3 0.4 L123.2 0.0M128.8 0.0 L129.7 0.2 L130.1 0.0M77.5 25.7 L77.3 23.9 L77.7 22.0 L77.5 20.2 L77.9 18.4 L77.7 16.5 L76.9 14.7 L77.3 12.9 L78.0 11.9 L78.8 10.5 L79.3 11.9 L79.9 13.8 L79.7 15.6 L80.6 17.4 L81.4 19.5 L82.5 20.8 L80.8 19.8 L79.2 20.0 L78.6 22.0 L79.3 23.5 L80.3 24.2 L80.3 25.5 L79.0 24.6 L78.2 24.6ZM74.2 34.2 L73.4 32.7 L74.4 31.2 L76.2 30.7 L76.8 28.8 L77.1 27.0 L77.5 26.6 L79.2 28.1 L80.8 29.0 L82.7 29.6 L83.6 28.8 L83.2 29.9 L84.5 30.7 L83.0 31.2 L81.2 31.4 L79.9 32.5 L79.7 33.1 L78.4 32.5 L77.1 32.0 L75.6 32.5 L74.5 32.3 L74.7 33.1 L76.0 33.4 L75.1 34.0ZM76.4 34.2 L76.6 35.8 L77.5 37.5 L76.8 39.7 L75.6 40.0 L75.5 42.2 L74.9 43.5 L75.3 44.6 L74.4 45.5 L73.6 46.1 L73.6 45.0 L73.1 45.5 L72.1 45.7 L71.6 46.7 L71.0 45.9 L70.5 46.7 L68.8 46.7 L68.1 45.9 L68.1 47.2 L67.0 47.9 L66.1 48.9 L64.8 47.9 L64.9 47.2 L64.6 46.7 L62.7 46.7 L60.9 47.2 L59.4 47.9 L57.2 47.9 L57.0 47.2 L57.9 46.8 L59.6 45.5 L61.1 44.8 L63.1 44.8 L65.1 44.8 L66.2 44.6 L66.6 43.7 L67.7 42.6 L67.9 41.5 L68.8 41.3 L68.3 42.4 L69.0 42.6 L70.5 41.9 L71.6 40.8 L72.7 40.0 L73.4 38.8 L73.8 37.5 L73.4 36.9 L73.8 35.8 L74.4 34.7 L75.1 35.1 L75.8 34.7 L75.5 34.0ZM60.1 47.8 L60.9 47.8 L62.0 47.2 L63.5 47.2 L64.0 48.1 L63.1 49.0 L62.0 48.7 L60.9 50.0 L60.0 49.6 L59.8 48.7ZM57.0 47.9 L58.5 48.5 L58.9 49.2 L58.9 50.3 L57.9 52.2 L57.2 52.9 L56.6 53.3 L55.7 52.7 L55.7 51.4 L56.5 50.3 L55.7 50.1 L55.0 50.1 L54.8 49.2 L55.4 48.7 L56.1 48.3ZM39.7 63.7 L40.6 64.3 L40.2 65.2 L39.9 66.3 L39.5 67.8 L38.6 69.8 L37.5 68.7 L37.1 67.6 L37.3 66.5 L38.2 65.0 L38.9 64.1ZM16.1 74.8 L17.0 73.7 L18.4 73.3 L19.7 73.3 L20.3 74.0 L19.4 75.7 L18.4 76.4 L17.5 76.8 L16.1 76.2 L15.9 75.3ZM38.0 76.2 L38.7 76.0 L40.4 76.6 L41.0 76.2 L41.3 78.4 L41.0 80.3 L39.9 81.0 L39.9 82.7 L40.0 83.9 L41.1 84.1 L42.3 84.3 L43.0 84.9 L44.1 84.9 L44.5 86.3 L44.5 87.1 L43.2 86.5 L42.4 85.8 L41.7 85.8 L41.5 84.7 L40.2 84.7 L39.3 85.2 L38.2 84.7 L38.0 83.8 L38.6 83.4 L38.0 83.0 L37.1 83.0 L36.7 81.2 L36.5 80.3 L37.5 80.6 L37.5 79.7 L37.6 78.1ZM37.5 85.6 L38.9 85.6 L39.7 86.9 L39.1 87.8 L38.4 86.9ZM31.7 94.8 L33.2 93.3 L35.1 91.3 L36.0 89.4 L36.3 90.9 L34.7 92.8 L33.0 94.2ZM44.8 87.2 L46.7 87.2 L47.2 88.9 L47.4 89.8 L46.1 89.4 L45.8 88.5ZM45.0 89.3 L46.1 89.6 L46.5 91.3 L45.8 91.6 L45.0 90.2ZM40.6 88.3 L42.6 88.9 L42.1 90.2 L40.6 90.9 L40.4 89.3ZM41.3 91.8 L42.8 90.2 L43.4 90.7 L42.8 92.9 L42.3 93.5 L41.3 92.4ZM43.2 92.8 L43.7 91.3 L44.3 89.6 L44.1 91.3ZM43.9 92.4 L44.8 91.6 L45.4 92.2 L44.6 92.6ZM42.8 87.2 L44.1 87.8 L43.5 88.3ZM46.9 92.2 L48.3 93.1 L48.7 95.1 L49.1 96.8 L48.3 98.6 L47.4 97.5 L47.2 97.0 L46.9 97.9 L47.4 99.4 L46.7 99.9 L45.4 99.2 L44.3 98.3 L44.6 96.8 L43.7 96.1 L43.2 96.6 L42.1 96.4 L40.8 97.5 L40.8 96.2 L41.5 95.3 L43.0 94.4 L43.9 95.3 L44.8 94.6 L45.8 94.4 L46.3 93.7ZM16.8 110.2 L16.6 108.4 L17.3 106.7 L19.0 107.1 L20.7 107.4 L21.0 105.8 L23.1 104.7 L24.5 103.6 L25.6 101.9 L27.3 101.0 L28.8 99.9 L29.7 98.8 L30.8 97.3 L31.7 97.9 L32.7 98.6 L32.7 99.5 L34.3 100.1 L35.4 100.6 L33.8 101.2 L34.1 102.1 L32.7 102.5 L32.3 103.8 L32.8 105.1 L33.2 106.2 L33.0 107.1 L34.9 108.4 L33.0 108.7 L32.3 110.2M36.7 110.2 L37.1 108.7 L38.6 107.8 L40.6 108.4 L42.4 108.5 L44.8 108.4 L46.1 107.3 L46.5 107.6 L45.2 109.5 L43.4 109.6 L40.6 109.3 L38.7 109.5 L37.5 110.2M50.7 110.2 L50.7 108.4 L51.7 106.3 L53.0 107.4 L51.7 108.5 L53.0 109.5 L52.0 109.6 L51.5 110.2M48.3 49.0 L49.6 48.7 L49.6 49.0 L48.5 49.2ZM53.9 47.6 L54.4 46.5 L54.2 47.2ZM70.5 39.9 L71.0 40.2 L71.2 40.8 L70.7 40.6Z" fill="none" stroke="#000" stroke-width="0.9" stroke-linejoin="round" stroke-linecap="round"/><path d="M51.5 61.7l0.7 -0.9M54.2 58.2l0.7 -0.6M44.6 65.4l0.7 -0.2M46.7 64.7l0.5 -0.0M56.3 54.4l0.6 -0.0M57.2 54.0l0.0 -0.6M82.5 85.6l0.5 -0.4M84.3 82.5l0.5 -0.4M84.5 79.5l0.5 -0.4M84.3 77.0l0.5 -0.4M63.7 96.6l0.2 -0.6M70.3 92.8l0.5 -0.2M95.6 96.6l0.5 -0.0M107.4 97.5l0.5 -0.0M116.2 100.5l0.5 -0.0M124.5 93.7l0.6 0.4M127.3 96.4l0.5 -0.0M131.4 97.2l0.6 -0.0M132.7 99.2l0.5 -0.2M134.5 107.4l0.2 -0.7M134.7 104.7l0.5 -0.4M123.4 89.4l0.5 0.0M77.9 60.6l0.5 -0.4M76.2 64.7l0.5 -0.2M73.4 49.4l0.5 -0.2M72.7 46.5l0.5 -0.2M7.4 108.4l0.9 -0.0M8.3 109.8l0.6 0.4M14.9 103.0l0.5 -0.2M11.4 104.5l0.5 -0.0M10.5 104.9l0.5 -0.0M40.4 72.7l0.5 -0.4M39.7 74.8l0.5 0.0M48.0 92.2l0.2 -0.6M36.9 88.2l0.6 -0.4M36.7 88.3l0.4 0.6M38.7 99.2l0.6 0.0M36.9 100.6l0.6 0.2M46.9 103.6l0.5 -0.4M49.4 102.5l0.5 -0.4M52.4 106.0l0.2 -0.6M31.9 95.5l0.5 0.4M40.6 87.2l0.4 0.6M41.5 87.4l0.5 0.0" fill="none" stroke="#222" stroke-width="0.75" stroke-linecap="round" opacity="0.75"/><path d="M84.5 29.4l1.1 -0.7M87.8 27.6l1.7 -0.9M92.1 25.7l0.9 -0.6M95.9 23.9l0.6 -0.4M98.0 21.7l0.5 -0.4M100.6 19.7l0.5 -0.4M103.0 17.8l0.7 -0.7M104.1 16.9l0.5 -0.2M122.1 9.2l0.9 0.7M124.7 9.7l0.6 0.4M134.5 13.0l0.9 -0.0M135.8 14.0l0.6 -0.0M143.0 14.7l0.7 0.4M145.8 15.6l0.7 0.4" fill="none" stroke="#000" stroke-width="1" stroke-linecap="round"/>
</svg>
<rect x="0" y="0" width="147.6" height="110.2" fill="none" stroke="#262626" stroke-width="1"/>
<path d="M0 91.83h-3.4" stroke="#262626" stroke-width="0.8"/>
<text x="-6.3" y="94.33" font-size="7.1" text-anchor="end">10°N</text>
<path d="M0 55.10h-3.4" stroke="#262626" stroke-width="0.8"/>
<text x="-6.3" y="57.60" font-size="7.1" text-anchor="end">30°N</text>
<path d="M0 18.37h-3.4" stroke="#262626" stroke-width="0.8"/>
<text x="-6.3" y="20.87" font-size="7.1" text-anchor="end">50°N</text>
<path d="M0.00 110.2v3.4" stroke="#262626" stroke-width="0.8"/>
<text x="0.00" y="122.80" font-size="7.1" text-anchor="middle">100°E</text>
<path d="M73.80 110.2v3.4" stroke="#262626" stroke-width="0.8"/>
<text x="73.80" y="122.80" font-size="7.1" text-anchor="middle">140°E</text>
<path d="M147.60 110.2v3.4" stroke="#262626" stroke-width="0.8"/>
<text x="147.60" y="122.80" font-size="7.1" text-anchor="middle">180°</text>
<text x="0.2" y="-1.7" font-size="9.0">(b) SeaUnet(2012-2020)</text>
</g>
<g transform="translate(384.2,16.2)">
<svg x="0" y="0" width="147.6" height="110.2" overflow="hidden">
<rect x="119.92" y="0.00" width="9.82" height="9.78" fill="#f0eae9"/>
<rect x="129.15" y="0.00" width="9.82" height="9.78" fill="#f0eae9"/>
<rect x="138.38" y="0.00" width="9.82" height="9.78" fill="#eac2b5"/>
<rect x="92.25" y="9.18" width="9.82" height="9.78" fill="#f0eae9"/>
<rect x="101.47" y="9.18" width="9.82" height="9.78" fill="#f0eae9"/>
<rect x="110.70" y="9.18" width="9.82" height="9.78" fill="#f0eae9"/>
<rect x="119.92" y="9.18" width="9.82" height="9.78" fill="#f0eae9"/>
<rect x="129.15" y="9.18" width="9.82" height="9.78" fill="#eac2b5"/>
<rect x="138.38" y="9.18" width="9.82" height="9.78" fill="#eac2b5"/>
<rect x="83.02" y="18.37" width="9.82" height="9.78" fill="#f0eae9"/>
<rect x="92.25" y="18.37" width="9.82" height="9.78" fill="#eac2b5"/>
<rect x="101.47" y="18.37" width="9.82" height="9.78" fill="#eac2b5"/>
<rect x="110.70" y="18.37" width="9.82" height="9.78" fill="#f0eae9"/>
<rect x="119.92" y="18.37" width="9.82" height="9.78" fill="#eac2b5"/>
<rect x="129.15" y="18.37" width="9.82" height="9.78" fill="#f0eae9"/>
<rect x="138.38" y="18.37" width="9.82" height="9.78" fill="#eac2b5"/>
<rect x="55.35" y="27.55" width="9.82" height="9.78" fill="#f0eae9"/>
<rect x="64.58" y="27.55" width="9.82" height="9.78" fill="#f0eae9"/>
<rect x="73.80" y="27.55" width="9.82" height="9.78" fill="#edd6cf"/>
<rect x="83.02" y="27.55" width="9.82" height="9.78" fill="#eac2b5"/>
<rect x="92.25" y="27.55" width="9.82" height="9.78" fill="#eac2b5"/>
<rect x="101.47" y="27.55" width="9.82" height="9.78" fill="#f0eae9"/>
<rect x="110.70" y="27.55" width="9.82" height="9.78" fill="#eac2b5"/>
<rect x="119.92" y="27.55" width="9.82" height="9.78" fill="#f0eae9"/>
<rect x="129.15" y="27.55" width="9.82" height="9.78" fill="#f0eae9"/>
<rect x="138.38" y="27.55" width="9.82" height="9.78" fill="#eac2b5"/>
<rect x="55.35" y="36.73" width="9.82" height="9.78" fill="#e6b5a4"/>
<rect x="64.58" y="36.73" width="9.82" height="9.78" fill="#f0eae9"/>
<rect x="73.80" y="36.73" width="9.82" height="9.78" fill="#eac2b5"/>
<rect x="83.02" y="36.73" width="9.82" height="9.78" fill="#eac2b5"/>
<rect x="92.25" y="36.73" width="9.82" height="9.78" fill="#eac2b5"/>
<rect x="101.47" y="36.73" width="9.82" height="9.78" fill="#eac2b5"/>
<rect x="110.70" y="36.73" width="9.82" height="9.78" fill="#eac2b5"/>
<rect x="119.92" y="36.73" width="9.82" height="9.78" fill="#eac2b5"/>
<rect x="129.15" y="36.73" width="9.82" height="9.78" fill="#f0eae9"/>
<rect x="138.38" y="36.73" width="9.82" height="9.78" fill="#eac2b5"/>
<rect x="27.67" y="45.92" width="9.82" height="9.78" fill="#f0eae9"/>
<rect x="36.90" y="45.92" width="9.82" height="9.78" fill="#eac2b5"/>
<rect x="46.12" y="45.92" width="9.82" height="9.78" fill="#de9a82"/>
<rect x="55.35" y="45.92" width="9.82" height="9.78" fill="#eac2b5"/>
<rect x="64.58" y="45.92" width="9.82" height="9.78" fill="#de9a82"/>
<rect x="73.80" y="45.92" width="9.82" height="9.78" fill="#de9a82"/>
<rect x="83.02" y="45.92" width="9.82" height="9.78" fill="#eac2b5"/>
<rect x="92.25" y="45.92" width="9.82" height="9.78" fill="#eac2b5"/>
<rect x="101.47" y="45.92" width="9.82" height="9.78" fill="#eac2b5"/>
<rect x="110.70" y="45.92" width="9.82" height="9.78" fill="#eac2b5"/>
<rect x="119.92" y="45.92" width="9.82" height="9.78" fill="#eac2b5"/>
<rect x="129.15" y="45.92" width="9.82" height="9.78" fill="#f0eae9"/>
<rect x="138.38" y="45.92" width="9.82" height="9.78" fill="#eac2b5"/>
<rect x="18.45" y="55.10" width="9.82" height="9.78" fill="#f0eae9"/>
<rect x="27.67" y="55.10" width="9.82" height="9.78" fill="#f0eae9"/>
<rect x="36.90" y="55.10" width="9.82" height="9.78" fill="#d47a5a"/>
<rect x="46.12" y="55.10" width="9.82" height="9.78" fill="#b5252b"/>
<rect x="55.35" y="55.10" width="9.82" height="9.78" fill="#de9a82"/>
<rect x="64.58" y="55.10" width="9.82" height="9.78" fill="#de9a82"/>
<rect x="73.80" y="55.10" width="9.82" height="9.78" fill="#cd6745"/>
<rect x="83.02" y="55.10" width="9.82" height="9.78" fill="#de9a82"/>
<rect x="92.25" y="55.10" width="9.82" height="9.78" fill="#de9a82"/>
<rect x="101.47" y="55.10" width="9.82" height="9.78" fill="#eac2b5"/>
<rect x="110.70" y="55.10" width="9.82" height="9.78" fill="#eac2b5"/>
<rect x="119.92" y="55.10" width="9.82" height="9.78" fill="#eac2b5"/>
<rect x="129.15" y="55.10" width="9.82" height="9.78" fill="#f0eae9"/>
<rect x="138.38" y="55.10" width="9.82" height="9.78" fill="#f0eae9"/>
<rect x="0.00" y="64.28" width="9.82" height="9.78" fill="#f0eae9"/>
<rect x="9.22" y="64.28" width="9.82" height="9.78" fill="#e6b5a4"/>
<rect x="18.45" y="64.28" width="9.82" height="9.78" fill="#de9a82"/>
<rect x="27.67" y="64.28" width="9.82" height="9.78" fill="#eac2b5"/>
<rect x="36.90" y="64.28" width="9.82" height="9.78" fill="#cd6745"/>
<rect x="46.12" y="64.28" width="9.82" height="9.78" fill="#881331"/>
<rect x="55.35" y="64.28" width="9.82" height="9.78" fill="#881331"/>
<rect x="64.58" y="64.28" width="9.82" height="9.78" fill="#b5252b"/>
<rect x="73.80" y="64.28" width="9.82" height="9.78" fill="#da8c70"/>
<rect x="83.02" y="64.28" width="9.82" height="9.78" fill="#de9a82"/>
<rect x="92.25" y="64.28" width="9.82" height="9.78" fill="#de9a82"/>
<rect x="101.47" y="64.28" width="9.82" height="9.78" fill="#de9a82"/>
<rect x="110.70" y="64.28" width="9.82" height="9.78" fill="#f8f4f4"/>
<rect x="119.92" y="64.28" width="9.82" height="9.78" fill="#eac2b5"/>
<rect x="129.15" y="64.28" width="9.82" height="9.78" fill="#f0eae9"/>
<rect x="138.38" y="64.28" width="9.82" height="9.78" fill="#eac2b5"/>
<rect x="0.00" y="73.47" width="9.82" height="9.78" fill="#f0eae9"/>
<rect x="9.22" y="73.47" width="9.82" height="9.78" fill="#e6b5a4"/>
<rect x="18.45" y="73.47" width="9.82" height="9.78" fill="#881331"/>
<rect x="27.67" y="73.47" width="9.82" height="9.78" fill="#881331"/>
<rect x="36.90" y="73.47" width="9.82" height="9.78" fill="#cd6745"/>
<rect x="46.12" y="73.47" width="9.82" height="9.78" fill="#4e0a24"/>
<rect x="55.35" y="73.47" width="9.82" height="9.78" fill="#881331"/>
<rect x="64.58" y="73.47" width="9.82" height="9.78" fill="#b5252b"/>
<rect x="73.80" y="73.47" width="9.82" height="9.78" fill="#cd6745"/>
<rect x="83.02" y="73.47" width="9.82" height="9.78" fill="#cd6745"/>
<rect x="92.25" y="73.47" width="9.82" height="9.78" fill="#de9a82"/>
<rect x="101.47" y="73.47" width="9.82" height="9.78" fill="#de9a82"/>
<rect x="110.70" y="73.47" width="9.82" height="9.78" fill="#de9a82"/>
<rect x="119.92" y="73.47" width="9.82" height="9.78" fill="#eac2b5"/>
<rect x="129.15" y="73.47" width="9.82" height="9.78" fill="#f0eae9"/>
<rect x="138.38" y="73.47" width="9.82" height="9.78" fill="#eac2b5"/>
<rect x="9.22" y="82.65" width="9.82" height="9.78" fill="#f0eae9"/>
<rect x="18.45" y="82.65" width="9.82" height="9.78" fill="#cd6745"/>
<rect x="27.67" y="82.65" width="9.82" height="9.78" fill="#de9a82"/>
<rect x="36.90" y="82.65" width="9.82" height="9.78" fill="#cd6745"/>
<rect x="46.12" y="82.65" width="9.82" height="9.78" fill="#de9a82"/>
<rect x="55.35" y="82.65" width="9.82" height="9.78" fill="#da8c70"/>
<rect x="64.58" y="82.65" width="9.82" height="9.78" fill="#cd6745"/>
<rect x="73.80" y="82.65" width="9.82" height="9.78" fill="#cd6745"/>
<rect x="83.02" y="82.65" width="9.82" height="9.78" fill="#cd6745"/>
<rect x="92.25" y="82.65" width="9.82" height="9.78" fill="#de9a82"/>
<rect x="101.47" y="82.65" width="9.82" height="9.78" fill="#eac2b5"/>
<rect x="110.70" y="82.65" width="9.82" height="9.78" fill="#eac2b5"/>
<rect x="119.92" y="82.65" width="9.82" height="9.78" fill="#eac2b5"/>
<rect x="129.15" y="82.65" width="9.82" height="9.78" fill="#f0eae9"/>
<rect x="138.38" y="82.65" width="9.82" height="9.78" fill="#eac2b5"/>
<rect x="9.22" y="91.83" width="9.82" height="9.78" fill="#f0eae9"/>
<rect x="18.45" y="91.83" width="9.82" height="9.78" fill="#f0eae9"/>
<rect x="27.67" y="91.83" width="9.82" height="9.78" fill="#f0eae9"/>
<rect x="36.90" y="91.83" width="9.82" height="9.78" fill="#f0eae9"/>
<rect x="46.12" y="91.83" width="9.82" height="9.78" fill="#f0eae9"/>
<rect x="55.35" y="91.83" width="9.82" height="9.78" fill="#eac2b5"/>
<rect x="64.58" y="91.83" width="9.82" height="9.78" fill="#eac2b5"/>
<rect x="73.80" y="91.83" width="9.82" height="9.78" fill="#eac2b5"/>
<rect x="83.02" y="91.83" width="9.82" height="9.78" fill="#e3a893"/>
<rect x="92.25" y="91.83" width="9.82" height="9.78" fill="#e3a893"/>
<rect x="101.47" y="91.83" width="9.82" height="9.78" fill="#e3a893"/>
<rect x="110.70" y="91.83" width="9.82" height="9.78" fill="#f8f4f4"/>
<rect x="119.92" y="91.83" width="9.82" height="9.78" fill="#eac2b5"/>
<rect x="129.15" y="91.83" width="9.82" height="9.78" fill="#eac2b5"/>
<rect x="138.38" y="91.83" width="9.82" height="9.78" fill="#f0eae9"/>
<rect x="55.35" y="101.02" width="9.82" height="9.78" fill="#f0eae9"/>
<rect x="83.02" y="101.02" width="9.82" height="9.78" fill="#f0eae9"/>
<rect x="92.25" y="101.02" width="9.82" height="9.78" fill="#f0eae9"/>
<rect x="101.47" y="101.02" width="9.82" height="9.78" fill="#f0eae9"/>
<rect x="110.70" y="101.02" width="9.82" height="9.78" fill="#f0eae9"/>
<rect x="119.92" y="101.02" width="9.82" height="9.78" fill="#f0eae9"/>
<path d="M7.0 110.2 L6.3 109.3 L5.4 108.7 L4.1 107.6 L2.6 107.1 L1.8 106.2 L0.7 106.0 L0.0 105.1M0.0 98.4 L0.6 99.9 L0.7 101.2 L1.1 102.5 L1.7 103.6 L2.4 104.9 L3.5 105.8 L4.8 106.5 L6.3 107.4 L6.6 107.8 L7.6 107.6 L7.7 106.0 L6.5 104.9 L6.3 103.6 L6.3 102.3 L5.7 100.6 L4.6 99.4 L3.9 98.8 L3.0 97.7 L1.8 97.5 L0.9 96.8 L0.4 95.0 L0.0 94.0M0.0 87.8 L0.0 85.8 L0.9 85.4 L1.8 85.8 L1.7 87.1 L3.1 86.9 L4.2 87.8 L5.4 88.7 L5.7 90.2 L6.6 90.9 L8.1 91.1 L9.0 91.8 L8.9 94.4 L9.8 93.9 L11.4 92.9 L12.5 91.3 L13.5 90.9 L14.8 90.5 L16.4 89.4 L17.0 88.3 L17.2 86.5 L17.0 84.9 L16.4 82.1 L15.3 80.6 L14.0 79.5 L12.4 77.7 L11.8 76.6 L10.5 75.5 L10.9 73.7 L12.2 72.7 L12.5 71.8 L14.2 71.1 L15.5 70.5 L16.8 70.7 L17.7 70.3 L18.3 72.7 L19.0 72.9 L19.4 72.4 L19.2 71.3 L20.3 70.7 L22.1 70.2 L24.0 69.8 L25.1 68.5 L26.2 69.2 L27.7 68.5 L29.5 68.1 L31.2 67.0 L32.8 66.1 L33.6 65.0 L34.9 64.3 L36.0 63.2 L36.3 61.9 L37.3 60.6 L38.4 59.0 L39.7 57.9 L40.4 56.6 L40.4 55.3 L39.1 54.5 L38.4 54.7 L39.5 53.8 L40.4 53.4 L40.4 52.2 L38.7 51.4 L39.5 50.5 L38.4 49.0 L37.5 47.4 L35.4 46.1 L35.8 45.2 L37.3 44.1 L38.4 43.2 L39.9 42.6 L41.5 42.4 L41.7 41.5 L39.7 41.3 L38.4 40.8 L36.5 41.7 L35.1 41.7 L34.9 40.4 L32.8 39.3 L32.7 38.4 L33.9 38.4 L35.4 37.8 L36.7 36.7 L38.6 35.4 L40.2 35.1 L41.0 35.8 L39.7 37.5 L39.1 38.9 L40.2 38.6 L42.4 37.5 L44.6 36.9 L45.8 37.5 L46.7 37.8 L46.1 39.3 L45.8 40.2 L46.9 41.0 L48.2 41.0 L49.3 41.9 L48.9 43.0 L48.9 44.3 L48.7 45.9 L48.5 46.8 L49.8 47.0 L51.1 46.3 L52.8 46.1 L53.9 45.5 L54.4 44.1 L54.2 42.2 L53.3 40.8 L52.2 39.3 L50.7 38.0 L50.7 37.1 L52.2 36.5 L53.9 35.4 L54.8 34.2 L55.4 33.1 L56.6 32.5 L57.6 31.6 L58.9 31.0 L59.6 30.7 L61.1 31.8 L62.7 31.2 L64.8 30.1 L66.1 28.7 L67.9 27.2 L69.6 25.7 L70.8 23.9 L72.3 22.4 L74.2 21.1 L74.5 19.3 L74.9 17.4 L75.6 15.6 L76.4 14.3 L76.0 12.7 L74.4 12.5 L73.4 10.7 L71.4 10.5 L69.6 11.2 L68.6 11.8 L67.7 9.9 L65.1 9.6 L66.1 8.8 L68.6 7.0 L71.0 5.5 L73.8 3.7 L75.1 2.2 L77.9 1.5 L79.7 1.1 L83.9 1.1 L86.7 1.3 L89.5 1.3 L90.8 0.6 L93.2 0.7 L94.6 1.8 L96.5 1.8 L98.3 1.5 L100.2 0.9 L101.8 1.3 L101.3 0.0M113.1 0.0 L110.3 1.8 L107.0 3.5 L104.8 5.3 L102.8 7.3 L102.6 9.2 L103.0 11.0 L103.5 12.9 L104.2 14.7 L104.6 16.7 L106.1 15.6 L107.6 14.3 L108.1 12.9 L110.7 12.5 L110.5 11.0 L113.8 9.9 L114.6 9.6 L113.8 8.6 L114.6 7.2 L116.8 7.0 L115.9 6.1 L116.6 4.6 L115.3 4.0 L116.8 2.8 L117.7 1.8 L119.2 0.2 L119.6 0.0M121.8 0.0 L122.3 0.4 L123.2 0.0M128.8 0.0 L129.7 0.2 L130.1 0.0M77.5 25.7 L77.3 23.9 L77.7 22.0 L77.5 20.2 L77.9 18.4 L77.7 16.5 L76.9 14.7 L77.3 12.9 L78.0 11.9 L78.8 10.5 L79.3 11.9 L79.9 13.8 L79.7 15.6 L80.6 17.4 L81.4 19.5 L82.5 20.8 L80.8 19.8 L79.2 20.0 L78.6 22.0 L79.3 23.5 L80.3 24.2 L80.3 25.5 L79.0 24.6 L78.2 24.6ZM74.2 34.2 L73.4 32.7 L74.4 31.2 L76.2 30.7 L76.8 28.8 L77.1 27.0 L77.5 26.6 L79.2 28.1 L80.8 29.0 L82.7 29.6 L83.6 28.8 L83.2 29.9 L84.5 30.7 L83.0 31.2 L81.2 31.4 L79.9 32.5 L79.7 33.1 L78.4 32.5 L77.1 32.0 L75.6 32.5 L74.5 32.3 L74.7 33.1 L76.0 33.4 L75.1 34.0ZM76.4 34.2 L76.6 35.8 L77.5 37.5 L76.8 39.7 L75.6 40.0 L75.5 42.2 L74.9 43.5 L75.3 44.6 L74.4 45.5 L73.6 46.1 L73.6 45.0 L73.1 45.5 L72.1 45.7 L71.6 46.7 L71.0 45.9 L70.5 46.7 L68.8 46.7 L68.1 45.9 L68.1 47.2 L67.0 47.9 L66.1 48.9 L64.8 47.9 L64.9 47.2 L64.6 46.7 L62.7 46.7 L60.9 47.2 L59.4 47.9 L57.2 47.9 L57.0 47.2 L57.9 46.8 L59.6 45.5 L61.1 44.8 L63.1 44.8 L65.1 44.8 L66.2 44.6 L66.6 43.7 L67.7 42.6 L67.9 41.5 L68.8 41.3 L68.3 42.4 L69.0 42.6 L70.5 41.9 L71.6 40.8 L72.7 40.0 L73.4 38.8 L73.8 37.5 L73.4 36.9 L73.8 35.8 L74.4 34.7 L75.1 35.1 L75.8 34.7 L75.5 34.0ZM60.1 47.8 L60.9 47.8 L62.0 47.2 L63.5 47.2 L64.0 48.1 L63.1 49.0 L62.0 48.7 L60.9 50.0 L60.0 49.6 L59.8 48.7ZM57.0 47.9 L58.5 48.5 L58.9 49.2 L58.9 50.3 L57.9 52.2 L57.2 52.9 L56.6 53.3 L55.7 52.7 L55.7 51.4 L56.5 50.3 L55.7 50.1 L55.0 50.1 L54.8 49.2 L55.4 48.7 L56.1 48.3ZM39.7 63.7 L40.6 64.3 L40.2 65.2 L39.9 66.3 L39.5 67.8 L38.6 69.8 L37.5 68.7 L37.1 67.6 L37.3 66.5 L38.2 65.0 L38.9 64.1ZM16.1 74.8 L17.0 73.7 L18.4 73.3 L19.7 73.3 L20.3 74.0 L19.4 75.7 L18.4 76.4 L17.5 76.8 L16.1 76.2 L15.9 75.3ZM38.0 76.2 L38.7 76.0 L40.4 76.6 L41.0 76.2 L41.3 78.4 L41.0 80.3 L39.9 81.0 L39.9 82.7 L40.0 83.9 L41.1 84.1 L42.3 84.3 L43.0 84.9 L44.1 84.9 L44.5 86.3 L44.5 87.1 L43.2 86.5 L42.4 85.8 L41.7 85.8 L41.5 84.7 L40.2 84.7 L39.3 85.2 L38.2 84.7 L38.0 83.8 L38.6 83.4 L38.0 83.0 L37.1 83.0 L36.7 81.2 L36.5 80.3 L37.5 80.6 L37.5 79.7 L37.6 78.1ZM37.5 85.6 L38.9 85.6 L39.7 86.9 L39.1 87.8 L38.4 86.9ZM31.7 94.8 L33.2 93.3 L35.1 91.3 L36.0 89.4 L36.3 90.9 L34.7 92.8 L33.0 94.2ZM44.8 87.2 L46.7 87.2 L47.2 88.9 L47.4 89.8 L46.1 89.4 L45.8 88.5ZM45.0 89.3 L46.1 89.6 L46.5 91.3 L45.8 91.6 L45.0 90.2ZM40.6 88.3 L42.6 88.9 L42.1 90.2 L40.6 90.9 L40.4 89.3ZM41.3 91.8 L42.8 90.2 L43.4 90.7 L42.8 92.9 L42.3 93.5 L41.3 92.4ZM43.2 92.8 L43.7 91.3 L44.3 89.6 L44.1 91.3ZM43.9 92.4 L44.8 91.6 L45.4 92.2 L44.6 92.6ZM42.8 87.2 L44.1 87.8 L43.5 88.3ZM46.9 92.2 L48.3 93.1 L48.7 95.1 L49.1 96.8 L48.3 98.6 L47.4 97.5 L47.2 97.0 L46.9 97.9 L47.4 99.4 L46.7 99.9 L45.4 99.2 L44.3 98.3 L44.6 96.8 L43.7 96.1 L43.2 96.6 L42.1 96.4 L40.8 97.5 L40.8 96.2 L41.5 95.3 L43.0 94.4 L43.9 95.3 L44.8 94.6 L45.8 94.4 L46.3 93.7ZM16.8 110.2 L16.6 108.4 L17.3 106.7 L19.0 107.1 L20.7 107.4 L21.0 105.8 L23.1 104.7 L24.5 103.6 L25.6 101.9 L27.3 101.0 L28.8 99.9 L29.7 98.8 L30.8 97.3 L31.7 97.9 L32.7 98.6 L32.7 99.5 L34.3 100.1 L35.4 100.6 L33.8 101.2 L34.1 102.1 L32.7 102.5 L32.3 103.8 L32.8 105.1 L33.2 106.2 L33.0 107.1 L34.9 108.4 L33.0 108.7 L32.3 110.2M36.7 110.2 L37.1 108.7 L38.6 107.8 L40.6 108.4 L42.4 108.5 L44.8 108.4 L46.1 107.3 L46.5 107.6 L45.2 109.5 L43.4 109.6 L40.6 109.3 L38.7 109.5 L37.5 110.2M50.7 110.2 L50.7 108.4 L51.7 106.3 L53.0 107.4 L51.7 108.5 L53.0 109.5 L52.0 109.6 L51.5 110.2M48.3 49.0 L49.6 48.7 L49.6 49.0 L48.5 49.2ZM53.9 47.6 L54.4 46.5 L54.2 47.2ZM70.5 39.9 L71.0 40.2 L71.2 40.8 L70.7 40.6Z" fill="none" stroke="#000" stroke-width="0.9" stroke-linejoin="round" stroke-linecap="round"/><path d="M51.5 61.7l0.7 -0.9M54.2 58.2l0.7 -0.6M44.6 65.4l0.7 -0.2M46.7 64.7l0.5 -0.0M56.3 54.4l0.6 -0.0M57.2 54.0l0.0 -0.6M82.5 85.6l0.5 -0.4M84.3 82.5l0.5 -0.4M84.5 79.5l0.5 -0.4M84.3 77.0l0.5 -0.4M63.7 96.6l0.2 -0.6M70.3 92.8l0.5 -0.2M95.6 96.6l0.5 -0.0M107.4 97.5l0.5 -0.0M116.2 100.5l0.5 -0.0M124.5 93.7l0.6 0.4M127.3 96.4l0.5 -0.0M131.4 97.2l0.6 -0.0M132.7 99.2l0.5 -0.2M134.5 107.4l0.2 -0.7M134.7 104.7l0.5 -0.4M123.4 89.4l0.5 0.0M77.9 60.6l0.5 -0.4M76.2 64.7l0.5 -0.2M73.4 49.4l0.5 -0.2M72.7 46.5l0.5 -0.2M7.4 108.4l0.9 -0.0M8.3 109.8l0.6 0.4M14.9 103.0l0.5 -0.2M11.4 104.5l0.5 -0.0M10.5 104.9l0.5 -0.0M40.4 72.7l0.5 -0.4M39.7 74.8l0.5 0.0M48.0 92.2l0.2 -0.6M36.9 88.2l0.6 -0.4M36.7 88.3l0.4 0.6M38.7 99.2l0.6 0.0M36.9 100.6l0.6 0.2M46.9 103.6l0.5 -0.4M49.4 102.5l0.5 -0.4M52.4 106.0l0.2 -0.6M31.9 95.5l0.5 0.4M40.6 87.2l0.4 0.6M41.5 87.4l0.5 0.0" fill="none" stroke="#222" stroke-width="0.75" stroke-linecap="round" opacity="0.75"/><path d="M84.5 29.4l1.1 -0.7M87.8 27.6l1.7 -0.9M92.1 25.7l0.9 -0.6M95.9 23.9l0.6 -0.4M98.0 21.7l0.5 -0.4M100.6 19.7l0.5 -0.4M103.0 17.8l0.7 -0.7M104.1 16.9l0.5 -0.2M122.1 9.2l0.9 0.7M124.7 9.7l0.6 0.4M134.5 13.0l0.9 -0.0M135.8 14.0l0.6 -0.0M143.0 14.7l0.7 0.4M145.8 15.6l0.7 0.4" fill="none" stroke="#000" stroke-width="1" stroke-linecap="round"/>
</svg>
<rect x="0" y="0" width="147.6" height="110.2" fill="none" stroke="#262626" stroke-width="1"/>
<path d="M0 91.83h-3.4" stroke="#262626" stroke-width="0.8"/>
<text x="-6.3" y="94.33" font-size="7.1" text-anchor="end">10°N</text>
<path d="M0 55.10h-3.4" stroke="#262626" stroke-width="0.8"/>
<text x="-6.3" y="57.60" font-size="7.1" text-anchor="end">30°N</text>
<path d="M0 18.37h-3.4" stroke="#262626" stroke-width="0.8"/>
<text x="-6.3" y="20.87" font-size="7.1" text-anchor="end">50°N</text>
<path d="M0.00 110.2v3.4" stroke="#262626" stroke-width="0.8"/>
<text x="0.00" y="122.80" font-size="7.1" text-anchor="middle">100°E</text>
<path d="M73.80 110.2v3.4" stroke="#262626" stroke-width="0.8"/>
<text x="73.80" y="122.80" font-size="7.1" text-anchor="middle">140°E</text>
<path d="M147.60 110.2v3.4" stroke="#262626" stroke-width="0.8"/>
<text x="147.60" y="122.80" font-size="7.1" text-anchor="middle">180°</text>
<text x="0.2" y="-1.7" font-size="9.0">(c) CFSv2(2012-2020)</text>
</g>
<g transform="translate(29.8,166.6)">
<svg x="0" y="0" width="147.6" height="110.2" overflow="hidden">
<rect x="73.80" y="0.00" width="9.82" height="9.78" fill="#f0eae9"/>
<rect x="83.02" y="0.00" width="9.82" height="9.78" fill="#f0eae9"/>
<rect x="92.25" y="0.00" width="9.82" height="9.78" fill="#f0eae9"/>
<rect x="101.47" y="0.00" width="9.82" height="9.78" fill="#f0eae9"/>
<rect x="110.70" y="0.00" width="9.82" height="9.78" fill="#f0eae9"/>
<rect x="119.92" y="0.00" width="9.82" height="9.78" fill="#f0eae9"/>
<rect x="129.15" y="0.00" width="9.82" height="9.78" fill="#f0eae9"/>
<rect x="138.38" y="0.00" width="9.82" height="9.78" fill="#f0eae9"/>
<rect x="27.67" y="9.18" width="9.82" height="9.78" fill="#f0eae9"/>
<rect x="36.90" y="9.18" width="9.82" height="9.78" fill="#f0eae9"/>
<rect x="46.12" y="9.18" width="9.82" height="9.78" fill="#f0eae9"/>
<rect x="55.35" y="9.18" width="9.82" height="9.78" fill="#f0eae9"/>
<rect x="64.58" y="9.18" width="9.82" height="9.78" fill="#f0eae9"/>
<rect x="73.80" y="9.18" width="9.82" height="9.78" fill="#f0eae9"/>
<rect x="83.02" y="9.18" width="9.82" height="9.78" fill="#f0eae9"/>
<rect x="92.25" y="9.18" width="9.82" height="9.78" fill="#f0eae9"/>
<rect x="101.47" y="9.18" width="9.82" height="9.78" fill="#f0eae9"/>
<rect x="110.70" y="9.18" width="9.82" height="9.78" fill="#f0eae9"/>
<rect x="119.92" y="9.18" width="9.82" height="9.78" fill="#eac2b5"/>
<rect x="129.15" y="9.18" width="9.82" height="9.78" fill="#eac2b5"/>
<rect x="138.38" y="9.18" width="9.82" height="9.78" fill="#f0eae9"/>
<rect x="27.67" y="18.37" width="9.82" height="9.78" fill="#f0eae9"/>
<rect x="46.12" y="18.37" width="9.82" height="9.78" fill="#f0eae9"/>
<rect x="55.35" y="18.37" width="9.82" height="9.78" fill="#f0eae9"/>
<rect x="64.58" y="18.37" width="9.82" height="9.78" fill="#f0eae9"/>
<rect x="73.80" y="18.37" width="9.82" height="9.78" fill="#f0eae9"/>
<rect x="83.02" y="18.37" width="9.82" height="9.78" fill="#eac2b5"/>
<rect x="92.25" y="18.37" width="9.82" height="9.78" fill="#eac2b5"/>
<rect x="101.47" y="18.37" width="9.82" height="9.78" fill="#f0eae9"/>
<rect x="110.70" y="18.37" width="9.82" height="9.78" fill="#eac2b5"/>
<rect x="119.92" y="18.37" width="9.82" height="9.78" fill="#eac2b5"/>
<rect x="129.15" y="18.37" width="9.82" height="9.78" fill="#eac2b5"/>
<rect x="138.38" y="18.37" width="9.82" height="9.78" fill="#eac2b5"/>
<rect x="27.67" y="27.55" width="9.82" height="9.78" fill="#f0eae9"/>
<rect x="36.90" y="27.55" width="9.82" height="9.78" fill="#f0eae9"/>
<rect x="46.12" y="27.55" width="9.82" height="9.78" fill="#f0eae9"/>
<rect x="55.35" y="27.55" width="9.82" height="9.78" fill="#f0eae9"/>
<rect x="64.58" y="27.55" width="9.82" height="9.78" fill="#eac2b5"/>
<rect x="73.80" y="27.55" width="9.82" height="9.78" fill="#eac2b5"/>
<rect x="83.02" y="27.55" width="9.82" height="9.78" fill="#eac2b5"/>
<rect x="92.25" y="27.55" width="9.82" height="9.78" fill="#eac2b5"/>
<rect x="101.47" y="27.55" width="9.82" height="9.78" fill="#eac2b5"/>
<rect x="110.70" y="27.55" width="9.82" height="9.78" fill="#eac2b5"/>
<rect x="119.92" y="27.55" width="9.82" height="9.78" fill="#eac2b5"/>
<rect x="129.15" y="27.55" width="9.82" height="9.78" fill="#eac2b5"/>
<rect x="138.38" y="27.55" width="9.82" height="9.78" fill="#f0eae9"/>
<rect x="27.67" y="36.73" width="9.82" height="9.78" fill="#f0eae9"/>
<rect x="36.90" y="36.73" width="9.82" height="9.78" fill="#f0eae9"/>
<rect x="46.12" y="36.73" width="9.82" height="9.78" fill="#edd6cf"/>
<rect x="55.35" y="36.73" width="9.82" height="9.78" fill="#eac2b5"/>
<rect x="64.58" y="36.73" width="9.82" height="9.78" fill="#eac2b5"/>
<rect x="73.80" y="36.73" width="9.82" height="9.78" fill="#eac2b5"/>
<rect x="83.02" y="36.73" width="9.82" height="9.78" fill="#de9a82"/>
<rect x="92.25" y="36.73" width="9.82" height="9.78" fill="#de9a82"/>
<rect x="101.47" y="36.73" width="9.82" height="9.78" fill="#eac2b5"/>
<rect x="110.70" y="36.73" width="9.82" height="9.78" fill="#eac2b5"/>
<rect x="119.92" y="36.73" width="9.82" height="9.78" fill="#eac2b5"/>
<rect x="129.15" y="36.73" width="9.82" height="9.78" fill="#f0eae9"/>
<rect x="138.38" y="36.73" width="9.82" height="9.78" fill="#f0eae9"/>
<rect x="18.45" y="45.92" width="9.82" height="9.78" fill="#f0eae9"/>
<rect x="27.67" y="45.92" width="9.82" height="9.78" fill="#e6b5a4"/>
<rect x="36.90" y="45.92" width="9.82" height="9.78" fill="#e6b5a4"/>
<rect x="46.12" y="45.92" width="9.82" height="9.78" fill="#de9a82"/>
<rect x="55.35" y="45.92" width="9.82" height="9.78" fill="#de9a82"/>
<rect x="64.58" y="45.92" width="9.82" height="9.78" fill="#d47a5a"/>
<rect x="73.80" y="45.92" width="9.82" height="9.78" fill="#de9a82"/>
<rect x="83.02" y="45.92" width="9.82" height="9.78" fill="#de9a82"/>
<rect x="92.25" y="45.92" width="9.82" height="9.78" fill="#eac2b5"/>
<rect x="101.47" y="45.92" width="9.82" height="9.78" fill="#eac2b5"/>
<rect x="110.70" y="45.92" width="9.82" height="9.78" fill="#f0eae9"/>
<rect x="119.92" y="45.92" width="9.82" height="9.78" fill="#f0eae9"/>
<rect x="129.15" y="45.92" width="9.82" height="9.78" fill="#eac2b5"/>
<rect x="138.38" y="45.92" width="9.82" height="9.78" fill="#f0eae9"/>
<rect x="9.22" y="55.10" width="9.82" height="9.78" fill="#f0eae9"/>
<rect x="18.45" y="55.10" width="9.82" height="9.78" fill="#eac2b5"/>
<rect x="27.67" y="55.10" width="9.82" height="9.78" fill="#de9a82"/>
<rect x="36.90" y="55.10" width="9.82" height="9.78" fill="#cd6745"/>
<rect x="46.12" y="55.10" width="9.82" height="9.78" fill="#bc362e"/>
<rect x="55.35" y="55.10" width="9.82" height="9.78" fill="#cd6745"/>
<rect x="64.58" y="55.10" width="9.82" height="9.78" fill="#e3a893"/>
<rect x="73.80" y="55.10" width="9.82" height="9.78" fill="#cd6745"/>
<rect x="83.02" y="55.10" width="9.82" height="9.78" fill="#de9a82"/>
<rect x="92.25" y="55.10" width="9.82" height="9.78" fill="#eac2b5"/>
<rect x="101.47" y="55.10" width="9.82" height="9.78" fill="#eac2b5"/>
<rect x="110.70" y="55.10" width="9.82" height="9.78" fill="#f0eae9"/>
<rect x="119.92" y="55.10" width="9.82" height="9.78" fill="#eac2b5"/>
<rect x="129.15" y="55.10" width="9.82" height="9.78" fill="#f0eae9"/>
<rect x="138.38" y="55.10" width="9.82" height="9.78" fill="#f0eae9"/>
<rect x="0.00" y="64.28" width="9.82" height="9.78" fill="#e6b5a4"/>
<rect x="9.22" y="64.28" width="9.82" height="9.78" fill="#cd6745"/>
<rect x="18.45" y="64.28" width="9.82" height="9.78" fill="#c8563a"/>
<rect x="27.67" y="64.28" width="9.82" height="9.78" fill="#b5252b"/>
<rect x="36.90" y="64.28" width="9.82" height="9.78" fill="#881331"/>
<rect x="46.12" y="64.28" width="9.82" height="9.78" fill="#881331"/>
<rect x="55.35" y="64.28" width="9.82" height="9.78" fill="#b5252b"/>
<rect x="64.58" y="64.28" width="9.82" height="9.78" fill="#cd6745"/>
<rect x="73.80" y="64.28" width="9.82" height="9.78" fill="#d47a5a"/>
<rect x="83.02" y="64.28" width="9.82" height="9.78" fill="#de9a82"/>
<rect x="92.25" y="64.28" width="9.82" height="9.78" fill="#de9a82"/>
<rect x="101.47" y="64.28" width="9.82" height="9.78" fill="#eac2b5"/>
<rect x="110.70" y="64.28" width="9.82" height="9.78" fill="#eac2b5"/>
<rect x="119.92" y="64.28" width="9.82" height="9.78" fill="#f0eae9"/>
<rect x="129.15" y="64.28" width="9.82" height="9.78" fill="#f0eae9"/>
<rect x="138.38" y="64.28" width="9.82" height="9.78" fill="#f0eae9"/>
<rect x="0.00" y="73.47" width="9.82" height="9.78" fill="#e6b5a4"/>
<rect x="9.22" y="73.47" width="9.82" height="9.78" fill="#cd6745"/>
<rect x="18.45" y="73.47" width="9.82" height="9.78" fill="#881331"/>
<rect x="27.67" y="73.47" width="9.82" height="9.78" fill="#881331"/>
<rect x="36.90" y="73.47" width="9.82" height="9.78" fill="#7a1230"/>
<rect x="46.12" y="73.47" width="9.82" height="9.78" fill="#881331"/>
<rect x="55.35" y="73.47" width="9.82" height="9.78" fill="#881331"/>
<rect x="64.58" y="73.47" width="9.82" height="9.78" fill="#b5252b"/>
<rect x="73.80" y="73.47" width="9.82" height="9.78" fill="#c8563a"/>
<rect x="83.02" y="73.47" width="9.82" height="9.78" fill="#cd6745"/>
<rect x="92.25" y="73.47" width="9.82" height="9.78" fill="#de9a82"/>
<rect x="101.47" y="73.47" width="9.82" height="9.78" fill="#de9a82"/>
<rect x="110.70" y="73.47" width="9.82" height="9.78" fill="#eac2b5"/>
<rect x="119.92" y="73.47" width="9.82" height="9.78" fill="#eac2b5"/>
<rect x="129.15" y="73.47" width="9.82" height="9.78" fill="#eac2b5"/>
<rect x="138.38" y="73.47" width="9.82" height="9.78" fill="#eac2b5"/>
<rect x="0.00" y="82.65" width="9.82" height="9.78" fill="#f0eae9"/>
<rect x="9.22" y="82.65" width="9.82" height="9.78" fill="#de9a82"/>
<rect x="18.45" y="82.65" width="9.82" height="9.78" fill="#cd6745"/>
<rect x="27.67" y="82.65" width="9.82" height="9.78" fill="#cd6745"/>
<rect x="36.90" y="82.65" width="9.82" height="9.78" fill="#c8563a"/>
<rect x="46.12" y="82.65" width="9.82" height="9.78" fill="#bc362e"/>
<rect x="55.35" y="82.65" width="9.82" height="9.78" fill="#c8563a"/>
<rect x="64.58" y="82.65" width="9.82" height="9.78" fill="#bc362e"/>
<rect x="73.80" y="82.65" width="9.82" height="9.78" fill="#cd6745"/>
<rect x="83.02" y="82.65" width="9.82" height="9.78" fill="#de9a82"/>
<rect x="92.25" y="82.65" width="9.82" height="9.78" fill="#de9a82"/>
<rect x="101.47" y="82.65" width="9.82" height="9.78" fill="#eac2b5"/>
<rect x="110.70" y="82.65" width="9.82" height="9.78" fill="#eac2b5"/>
<rect x="119.92" y="82.65" width="9.82" height="9.78" fill="#eac2b5"/>
<rect x="129.15" y="82.65" width="9.82" height="9.78" fill="#f0eae9"/>
<rect x="138.38" y="82.65" width="9.82" height="9.78" fill="#f0eae9"/>
<rect x="0.00" y="91.83" width="9.82" height="9.78" fill="#f0eae9"/>
<rect x="9.22" y="91.83" width="9.82" height="9.78" fill="#f0eae9"/>
<rect x="18.45" y="91.83" width="9.82" height="9.78" fill="#f0eae9"/>
<rect x="27.67" y="91.83" width="9.82" height="9.78" fill="#f0eae9"/>
<rect x="36.90" y="91.83" width="9.82" height="9.78" fill="#f0eae9"/>
<rect x="46.12" y="91.83" width="9.82" height="9.78" fill="#eac2b5"/>
<rect x="55.35" y="91.83" width="9.82" height="9.78" fill="#e6b5a4"/>
<rect x="64.58" y="91.83" width="9.82" height="9.78" fill="#e6b5a4"/>
<rect x="73.80" y="91.83" width="9.82" height="9.78" fill="#eac2b5"/>
<rect x="83.02" y="91.83" width="9.82" height="9.78" fill="#de9a82"/>
<rect x="92.25" y="91.83" width="9.82" height="9.78" fill="#eac2b5"/>
<rect x="101.47" y="91.83" width="9.82" height="9.78" fill="#eac2b5"/>
<rect x="110.70" y="91.83" width="9.82" height="9.78" fill="#eac2b5"/>
<rect x="119.92" y="91.83" width="9.82" height="9.78" fill="#f0eae9"/>
<rect x="129.15" y="91.83" width="9.82" height="9.78" fill="#f0eae9"/>
<rect x="138.38" y="91.83" width="9.82" height="9.78" fill="#f0eae9"/>
<rect x="73.80" y="101.02" width="9.82" height="9.78" fill="#f0eae9"/>
<rect x="83.02" y="101.02" width="9.82" height="9.78" fill="#f0eae9"/>
<rect x="92.25" y="101.02" width="9.82" height="9.78" fill="#f0eae9"/>
<rect x="101.47" y="101.02" width="9.82" height="9.78" fill="#f0eae9"/>
<rect x="110.70" y="101.02" width="9.82" height="9.78" fill="#f0eae9"/>
<path d="M7.0 110.2 L6.3 109.3 L5.4 108.7 L4.1 107.6 L2.6 107.1 L1.8 106.2 L0.7 106.0 L0.0 105.1M0.0 98.4 L0.6 99.9 L0.7 101.2 L1.1 102.5 L1.7 103.6 L2.4 104.9 L3.5 105.8 L4.8 106.5 L6.3 107.4 L6.6 107.8 L7.6 107.6 L7.7 106.0 L6.5 104.9 L6.3 103.6 L6.3 102.3 L5.7 100.6 L4.6 99.4 L3.9 98.8 L3.0 97.7 L1.8 97.5 L0.9 96.8 L0.4 95.0 L0.0 94.0M0.0 87.8 L0.0 85.8 L0.9 85.4 L1.8 85.8 L1.7 87.1 L3.1 86.9 L4.2 87.8 L5.4 88.7 L5.7 90.2 L6.6 90.9 L8.1 91.1 L9.0 91.8 L8.9 94.4 L9.8 93.9 L11.4 92.9 L12.5 91.3 L13.5 90.9 L14.8 90.5 L16.4 89.4 L17.0 88.3 L17.2 86.5 L17.0 84.9 L16.4 82.1 L15.3 80.6 L14.0 79.5 L12.4 77.7 L11.8 76.6 L10.5 75.5 L10.9 73.7 L12.2 72.7 L12.5 71.8 L14.2 71.1 L15.5 70.5 L16.8 70.7 L17.7 70.3 L18.3 72.7 L19.0 72.9 L19.4 72.4 L19.2 71.3 L20.3 70.7 L22.1 70.2 L24.0 69.8 L25.1 68.5 L26.2 69.2 L27.7 68.5 L29.5 68.1 L31.2 67.0 L32.8 66.1 L33.6 65.0 L34.9 64.3 L36.0 63.2 L36.3 61.9 L37.3 60.6 L38.4 59.0 L39.7 57.9 L40.4 56.6 L40.4 55.3 L39.1 54.5 L38.4 54.7 L39.5 53.8 L40.4 53.4 L40.4 52.2 L38.7 51.4 L39.5 50.5 L38.4 49.0 L37.5 47.4 L35.4 46.1 L35.8 45.2 L37.3 44.1 L38.4 43.2 L39.9 42.6 L41.5 42.4 L41.7 41.5 L39.7 41.3 L38.4 40.8 L36.5 41.7 L35.1 41.7 L34.9 40.4 L32.8 39.3 L32.7 38.4 L33.9 38.4 L35.4 37.8 L36.7 36.7 L38.6 35.4 L40.2 35.1 L41.0 35.8 L39.7 37.5 L39.1 38.9 L40.2 38.6 L42.4 37.5 L44.6 36.9 L45.8 37.5 L46.7 37.8 L46.1 39.3 L45.8 40.2 L46.9 41.0 L48.2 41.0 L49.3 41.9 L48.9 43.0 L48.9 44.3 L48.7 45.9 L48.5 46.8 L49.8 47.0 L51.1 46.3 L52.8 46.1 L53.9 45.5 L54.4 44.1 L54.2 42.2 L53.3 40.8 L52.2 39.3 L50.7 38.0 L50.7 37.1 L52.2 36.5 L53.9 35.4 L54.8 34.2 L55.4 33.1 L56.6 32.5 L57.6 31.6 L58.9 31.0 L59.6 30.7 L61.1 31.8 L62.7 31.2 L64.8 30.1 L66.1 28.7 L67.9 27.2 L69.6 25.7 L70.8 23.9 L72.3 22.4 L74.2 21.1 L74.5 19.3 L74.9 17.4 L75.6 15.6 L76.4 14.3 L76.0 12.7 L74.4 12.5 L73.4 10.7 L71.4 10.5 L69.6 11.2 L68.6 11.8 L67.7 9.9 L65.1 9.6 L66.1 8.8 L68.6 7.0 L71.0 5.5 L73.8 3.7 L75.1 2.2 L77.9 1.5 L79.7 1.1 L83.9 1.1 L86.7 1.3 L89.5 1.3 L90.8 0.6 L93.2 0.7 L94.6 1.8 L96.5 1.8 L98.3 1.5 L100.2 0.9 L101.8 1.3 L101.3 0.0M113.1 0.0 L110.3 1.8 L107.0 3.5 L104.8 5.3 L102.8 7.3 L102.6 9.2 L103.0 11.0 L103.5 12.9 L104.2 14.7 L104.6 16.7 L106.1 15.6 L107.6 14.3 L108.1 12.9 L110.7 12.5 L110.5 11.0 L113.8 9.9 L114.6 9.6 L113.8 8.6 L114.6 7.2 L116.8 7.0 L115.9 6.1 L116.6 4.6 L115.3 4.0 L116.8 2.8 L117.7 1.8 L119.2 0.2 L119.6 0.0M121.8 0.0 L122.3 0.4 L123.2 0.0M128.8 0.0 L129.7 0.2 L130.1 0.0M77.5 25.7 L77.3 23.9 L77.7 22.0 L77.5 20.2 L77.9 18.4 L77.7 16.5 L76.9 14.7 L77.3 12.9 L78.0 11.9 L78.8 10.5 L79.3 11.9 L79.9 13.8 L79.7 15.6 L80.6 17.4 L81.4 19.5 L82.5 20.8 L80.8 19.8 L79.2 20.0 L78.6 22.0 L79.3 23.5 L80.3 24.2 L80.3 25.5 L79.0 24.6 L78.2 24.6ZM74.2 34.2 L73.4 32.7 L74.4 31.2 L76.2 30.7 L76.8 28.8 L77.1 27.0 L77.5 26.6 L79.2 28.1 L80.8 29.0 L82.7 29.6 L83.6 28.8 L83.2 29.9 L84.5 30.7 L83.0 31.2 L81.2 31.4 L79.9 32.5 L79.7 33.1 L78.4 32.5 L77.1 32.0 L75.6 32.5 L74.5 32.3 L74.7 33.1 L76.0 33.4 L75.1 34.0ZM76.4 34.2 L76.6 35.8 L77.5 37.5 L76.8 39.7 L75.6 40.0 L75.5 42.2 L74.9 43.5 L75.3 44.6 L74.4 45.5 L73.6 46.1 L73.6 45.0 L73.1 45.5 L72.1 45.7 L71.6 46.7 L71.0 45.9 L70.5 46.7 L68.8 46.7 L68.1 45.9 L68.1 47.2 L67.0 47.9 L66.1 48.9 L64.8 47.9 L64.9 47.2 L64.6 46.7 L62.7 46.7 L60.9 47.2 L59.4 47.9 L57.2 47.9 L57.0 47.2 L57.9 46.8 L59.6 45.5 L61.1 44.8 L63.1 44.8 L65.1 44.8 L66.2 44.6 L66.6 43.7 L67.7 42.6 L67.9 41.5 L68.8 41.3 L68.3 42.4 L69.0 42.6 L70.5 41.9 L71.6 40.8 L72.7 40.0 L73.4 38.8 L73.8 37.5 L73.4 36.9 L73.8 35.8 L74.4 34.7 L75.1 35.1 L75.8 34.7 L75.5 34.0ZM60.1 47.8 L60.9 47.8 L62.0 47.2 L63.5 47.2 L64.0 48.1 L63.1 49.0 L62.0 48.7 L60.9 50.0 L60.0 49.6 L59.8 48.7ZM57.0 47.9 L58.5 48.5 L58.9 49.2 L58.9 50.3 L57.9 52.2 L57.2 52.9 L56.6 53.3 L55.7 52.7 L55.7 51.4 L56.5 50.3 L55.7 50.1 L55.0 50.1 L54.8 49.2 L55.4 48.7 L56.1 48.3ZM39.7 63.7 L40.6 64.3 L40.2 65.2 L39.9 66.3 L39.5 67.8 L38.6 69.8 L37.5 68.7 L37.1 67.6 L37.3 66.5 L38.2 65.0 L38.9 64.1ZM16.1 74.8 L17.0 73.7 L18.4 73.3 L19.7 73.3 L20.3 74.0 L19.4 75.7 L18.4 76.4 L17.5 76.8 L16.1 76.2 L15.9 75.3ZM38.0 76.2 L38.7 76.0 L40.4 76.6 L41.0 76.2 L41.3 78.4 L41.0 80.3 L39.9 81.0 L39.9 82.7 L40.0 83.9 L41.1 84.1 L42.3 84.3 L43.0 84.9 L44.1 84.9 L44.5 86.3 L44.5 87.1 L43.2 86.5 L42.4 85.8 L41.7 85.8 L41.5 84.7 L40.2 84.7 L39.3 85.2 L38.2 84.7 L38.0 83.8 L38.6 83.4 L38.0 83.0 L37.1 83.0 L36.7 81.2 L36.5 80.3 L37.5 80.6 L37.5 79.7 L37.6 78.1ZM37.5 85.6 L38.9 85.6 L39.7 86.9 L39.1 87.8 L38.4 86.9ZM31.7 94.8 L33.2 93.3 L35.1 91.3 L36.0 89.4 L36.3 90.9 L34.7 92.8 L33.0 94.2ZM44.8 87.2 L46.7 87.2 L47.2 88.9 L47.4 89.8 L46.1 89.4 L45.8 88.5ZM45.0 89.3 L46.1 89.6 L46.5 91.3 L45.8 91.6 L45.0 90.2ZM40.6 88.3 L42.6 88.9 L42.1 90.2 L40.6 90.9 L40.4 89.3ZM41.3 91.8 L42.8 90.2 L43.4 90.7 L42.8 92.9 L42.3 93.5 L41.3 92.4ZM43.2 92.8 L43.7 91.3 L44.3 89.6 L44.1 91.3ZM43.9 92.4 L44.8 91.6 L45.4 92.2 L44.6 92.6ZM42.8 87.2 L44.1 87.8 L43.5 88.3ZM46.9 92.2 L48.3 93.1 L48.7 95.1 L49.1 96.8 L48.3 98.6 L47.4 97.5 L47.2 97.0 L46.9 97.9 L47.4 99.4 L46.7 99.9 L45.4 99.2 L44.3 98.3 L44.6 96.8 L43.7 96.1 L43.2 96.6 L42.1 96.4 L40.8 97.5 L40.8 96.2 L41.5 95.3 L43.0 94.4 L43.9 95.3 L44.8 94.6 L45.8 94.4 L46.3 93.7ZM16.8 110.2 L16.6 108.4 L17.3 106.7 L19.0 107.1 L20.7 107.4 L21.0 105.8 L23.1 104.7 L24.5 103.6 L25.6 101.9 L27.3 101.0 L28.8 99.9 L29.7 98.8 L30.8 97.3 L31.7 97.9 L32.7 98.6 L32.7 99.5 L34.3 100.1 L35.4 100.6 L33.8 101.2 L34.1 102.1 L32.7 102.5 L32.3 103.8 L32.8 105.1 L33.2 106.2 L33.0 107.1 L34.9 108.4 L33.0 108.7 L32.3 110.2M36.7 110.2 L37.1 108.7 L38.6 107.8 L40.6 108.4 L42.4 108.5 L44.8 108.4 L46.1 107.3 L46.5 107.6 L45.2 109.5 L43.4 109.6 L40.6 109.3 L38.7 109.5 L37.5 110.2M50.7 110.2 L50.7 108.4 L51.7 106.3 L53.0 107.4 L51.7 108.5 L53.0 109.5 L52.0 109.6 L51.5 110.2M48.3 49.0 L49.6 48.7 L49.6 49.0 L48.5 49.2ZM53.9 47.6 L54.4 46.5 L54.2 47.2ZM70.5 39.9 L71.0 40.2 L71.2 40.8 L70.7 40.6Z" fill="none" stroke="#000" stroke-width="0.9" stroke-linejoin="round" stroke-linecap="round"/><path d="M51.5 61.7l0.7 -0.9M54.2 58.2l0.7 -0.6M44.6 65.4l0.7 -0.2M46.7 64.7l0.5 -0.0M56.3 54.4l0.6 -0.0M57.2 54.0l0.0 -0.6M82.5 85.6l0.5 -0.4M84.3 82.5l0.5 -0.4M84.5 79.5l0.5 -0.4M84.3 77.0l0.5 -0.4M63.7 96.6l0.2 -0.6M70.3 92.8l0.5 -0.2M95.6 96.6l0.5 -0.0M107.4 97.5l0.5 -0.0M116.2 100.5l0.5 -0.0M124.5 93.7l0.6 0.4M127.3 96.4l0.5 -0.0M131.4 97.2l0.6 -0.0M132.7 99.2l0.5 -0.2M134.5 107.4l0.2 -0.7M134.7 104.7l0.5 -0.4M123.4 89.4l0.5 0.0M77.9 60.6l0.5 -0.4M76.2 64.7l0.5 -0.2M73.4 49.4l0.5 -0.2M72.7 46.5l0.5 -0.2M7.4 108.4l0.9 -0.0M8.3 109.8l0.6 0.4M14.9 103.0l0.5 -0.2M11.4 104.5l0.5 -0.0M10.5 104.9l0.5 -0.0M40.4 72.7l0.5 -0.4M39.7 74.8l0.5 0.0M48.0 92.2l0.2 -0.6M36.9 88.2l0.6 -0.4M36.7 88.3l0.4 0.6M38.7 99.2l0.6 0.0M36.9 100.6l0.6 0.2M46.9 103.6l0.5 -0.4M49.4 102.5l0.5 -0.4M52.4 106.0l0.2 -0.6M31.9 95.5l0.5 0.4M40.6 87.2l0.4 0.6M41.5 87.4l0.5 0.0" fill="none" stroke="#222" stroke-width="0.75" stroke-linecap="round" opacity="0.75"/><path d="M84.5 29.4l1.1 -0.7M87.8 27.6l1.7 -0.9M92.1 25.7l0.9 -0.6M95.9 23.9l0.6 -0.4M98.0 21.7l0.5 -0.4M100.6 19.7l0.5 -0.4M103.0 17.8l0.7 -0.7M104.1 16.9l0.5 -0.2M122.1 9.2l0.9 0.7M124.7 9.7l0.6 0.4M134.5 13.0l0.9 -0.0M135.8 14.0l0.6 -0.0M143.0 14.7l0.7 0.4M145.8 15.6l0.7 0.4" fill="none" stroke="#000" stroke-width="1" stroke-linecap="round"/>
</svg>
<rect x="0" y="0" width="147.6" height="110.2" fill="none" stroke="#262626" stroke-width="1"/>
<path d="M0 91.83h-3.4" stroke="#262626" stroke-width="0.8"/>
<text x="-6.3" y="94.33" font-size="7.1" text-anchor="end">10°N</text>
<path d="M0 55.10h-3.4" stroke="#262626" stroke-width="0.8"/>
<text x="-6.3" y="57.60" font-size="7.1" text-anchor="end">30°N</text>
<path d="M0 18.37h-3.4" stroke="#262626" stroke-width="0.8"/>
<text x="-6.3" y="20.87" font-size="7.1" text-anchor="end">50°N</text>
<path d="M0.00 110.2v3.4" stroke="#262626" stroke-width="0.8"/>
<text x="0.00" y="122.80" font-size="7.1" text-anchor="middle">100°E</text>
<path d="M73.80 110.2v3.4" stroke="#262626" stroke-width="0.8"/>
<text x="73.80" y="122.80" font-size="7.1" text-anchor="middle">140°E</text>
<path d="M147.60 110.2v3.4" stroke="#262626" stroke-width="0.8"/>
<text x="147.60" y="122.80" font-size="7.1" text-anchor="middle">180°</text>
<text x="0.2" y="-1.7" font-size="9.0">(d) OBS(2001-2016)</text>
</g>
<g transform="translate(207.0,166.6)">
<svg x="0" y="0" width="147.6" height="110.2" overflow="hidden">
<rect x="64.58" y="0.00" width="9.82" height="9.78" fill="#f0eae9"/>
<rect x="73.80" y="0.00" width="9.82" height="9.78" fill="#f0eae9"/>
<rect x="92.25" y="0.00" width="9.82" height="9.78" fill="#f0eae9"/>
<rect x="101.47" y="0.00" width="9.82" height="9.78" fill="#f0eae9"/>
<rect x="110.70" y="0.00" width="9.82" height="9.78" fill="#f0eae9"/>
<rect x="36.90" y="9.18" width="9.82" height="9.78" fill="#f0eae9"/>
<rect x="46.12" y="9.18" width="9.82" height="9.78" fill="#f0eae9"/>
<rect x="55.35" y="9.18" width="9.82" height="9.78" fill="#f0eae9"/>
<rect x="64.58" y="9.18" width="9.82" height="9.78" fill="#f0eae9"/>
<rect x="73.80" y="9.18" width="9.82" height="9.78" fill="#f0eae9"/>
<rect x="83.02" y="9.18" width="9.82" height="9.78" fill="#f0eae9"/>
<rect x="92.25" y="9.18" width="9.82" height="9.78" fill="#f0eae9"/>
<rect x="101.47" y="9.18" width="9.82" height="9.78" fill="#f0eae9"/>
<rect x="110.70" y="9.18" width="9.82" height="9.78" fill="#f0eae9"/>
<rect x="119.92" y="9.18" width="9.82" height="9.78" fill="#f0eae9"/>
<rect x="64.58" y="18.37" width="9.82" height="9.78" fill="#f0eae9"/>
<rect x="73.80" y="18.37" width="9.82" height="9.78" fill="#f0eae9"/>
<rect x="83.02" y="18.37" width="9.82" height="9.78" fill="#f0eae9"/>
<rect x="92.25" y="18.37" width="9.82" height="9.78" fill="#f0eae9"/>
<rect x="101.47" y="18.37" width="9.82" height="9.78" fill="#f0eae9"/>
<rect x="110.70" y="18.37" width="9.82" height="9.78" fill="#f0eae9"/>
<rect x="119.92" y="18.37" width="9.82" height="9.78" fill="#f0eae9"/>
<rect x="36.90" y="27.55" width="9.82" height="9.78" fill="#f0eae9"/>
<rect x="46.12" y="27.55" width="9.82" height="9.78" fill="#f0eae9"/>
<rect x="55.35" y="27.55" width="9.82" height="9.78" fill="#f0eae9"/>
<rect x="64.58" y="27.55" width="9.82" height="9.78" fill="#eac2b5"/>
<rect x="73.80" y="27.55" width="9.82" height="9.78" fill="#f0eae9"/>
<rect x="83.02" y="27.55" width="9.82" height="9.78" fill="#f0eae9"/>
<rect x="92.25" y="27.55" width="9.82" height="9.78" fill="#eac2b5"/>
<rect x="101.47" y="27.55" width="9.82" height="9.78" fill="#eac2b5"/>
<rect x="110.70" y="27.55" width="9.82" height="9.78" fill="#f0eae9"/>
<rect x="119.92" y="27.55" width="9.82" height="9.78" fill="#f0eae9"/>
<rect x="129.15" y="27.55" width="9.82" height="9.78" fill="#f0eae9"/>
<rect x="27.67" y="36.73" width="9.82" height="9.78" fill="#f0eae9"/>
<rect x="36.90" y="36.73" width="9.82" height="9.78" fill="#f0eae9"/>
<rect x="46.12" y="36.73" width="9.82" height="9.78" fill="#f0eae9"/>
<rect x="55.35" y="36.73" width="9.82" height="9.78" fill="#eac2b5"/>
<rect x="64.58" y="36.73" width="9.82" height="9.78" fill="#eac2b5"/>
<rect x="73.80" y="36.73" width="9.82" height="9.78" fill="#eac2b5"/>
<rect x="83.02" y="36.73" width="9.82" height="9.78" fill="#eac2b5"/>
<rect x="92.25" y="36.73" width="9.82" height="9.78" fill="#eac2b5"/>
<rect x="101.47" y="36.73" width="9.82" height="9.78" fill="#eac2b5"/>
<rect x="110.70" y="36.73" width="9.82" height="9.78" fill="#f0eae9"/>
<rect x="119.92" y="36.73" width="9.82" height="9.78" fill="#f0eae9"/>
<rect x="129.15" y="36.73" width="9.82" height="9.78" fill="#f0eae9"/>
<rect x="18.45" y="45.92" width="9.82" height="9.78" fill="#f0eae9"/>
<rect x="27.67" y="45.92" width="9.82" height="9.78" fill="#edd6cf"/>
<rect x="36.90" y="45.92" width="9.82" height="9.78" fill="#e6b5a4"/>
<rect x="46.12" y="45.92" width="9.82" height="9.78" fill="#de9a82"/>
<rect x="55.35" y="45.92" width="9.82" height="9.78" fill="#de9a82"/>
<rect x="64.58" y="45.92" width="9.82" height="9.78" fill="#de9a82"/>
<rect x="73.80" y="45.92" width="9.82" height="9.78" fill="#de9a82"/>
<rect x="83.02" y="45.92" width="9.82" height="9.78" fill="#de9a82"/>
<rect x="92.25" y="45.92" width="9.82" height="9.78" fill="#eac2b5"/>
<rect x="101.47" y="45.92" width="9.82" height="9.78" fill="#eac2b5"/>
<rect x="110.70" y="45.92" width="9.82" height="9.78" fill="#f0eae9"/>
<rect x="119.92" y="45.92" width="9.82" height="9.78" fill="#f0eae9"/>
<rect x="129.15" y="45.92" width="9.82" height="9.78" fill="#f0eae9"/>
<rect x="138.38" y="45.92" width="9.82" height="9.78" fill="#f0eae9"/>
<rect x="9.22" y="55.10" width="9.82" height="9.78" fill="#f0eae9"/>
<rect x="18.45" y="55.10" width="9.82" height="9.78" fill="#f0eae9"/>
<rect x="27.67" y="55.10" width="9.82" height="9.78" fill="#de9a82"/>
<rect x="36.90" y="55.10" width="9.82" height="9.78" fill="#da8c70"/>
<rect x="46.12" y="55.10" width="9.82" height="9.78" fill="#cd6745"/>
<rect x="55.35" y="55.10" width="9.82" height="9.78" fill="#cd6745"/>
<rect x="64.58" y="55.10" width="9.82" height="9.78" fill="#da8c70"/>
<rect x="73.80" y="55.10" width="9.82" height="9.78" fill="#da8c70"/>
<rect x="83.02" y="55.10" width="9.82" height="9.78" fill="#de9a82"/>
<rect x="92.25" y="55.10" width="9.82" height="9.78" fill="#eac2b5"/>
<rect x="101.47" y="55.10" width="9.82" height="9.78" fill="#eac2b5"/>
<rect x="110.70" y="55.10" width="9.82" height="9.78" fill="#eac2b5"/>
<rect x="119.92" y="55.10" width="9.82" height="9.78" fill="#f0eae9"/>
<rect x="129.15" y="55.10" width="9.82" height="9.78" fill="#f0eae9"/>
<rect x="0.00" y="64.28" width="9.82" height="9.78" fill="#f0eae9"/>
<rect x="9.22" y="64.28" width="9.82" height="9.78" fill="#de9a82"/>
<rect x="18.45" y="64.28" width="9.82" height="9.78" fill="#cd6745"/>
<rect x="27.67" y="64.28" width="9.82" height="9.78" fill="#bc362e"/>
<rect x="36.90" y="64.28" width="9.82" height="9.78" fill="#b5252b"/>
<rect x="46.12" y="64.28" width="9.82" height="9.78" fill="#b5252b"/>
<rect x="55.35" y="64.28" width="9.82" height="9.78" fill="#c8563a"/>
<rect x="64.58" y="64.28" width="9.82" height="9.78" fill="#cd6745"/>
<rect x="73.80" y="64.28" width="9.82" height="9.78" fill="#cd6745"/>
<rect x="83.02" y="64.28" width="9.82" height="9.78" fill="#da8c70"/>
<rect x="92.25" y="64.28" width="9.82" height="9.78" fill="#de9a82"/>
<rect x="101.47" y="64.28" width="9.82" height="9.78" fill="#eac2b5"/>
<rect x="110.70" y="64.28" width="9.82" height="9.78" fill="#eac2b5"/>
<rect x="119.92" y="64.28" width="9.82" height="9.78" fill="#f0eae9"/>
<rect x="129.15" y="64.28" width="9.82" height="9.78" fill="#f0eae9"/>
<rect x="0.00" y="73.47" width="9.82" height="9.78" fill="#e6b5a4"/>
<rect x="9.22" y="73.47" width="9.82" height="9.78" fill="#cd6745"/>
<rect x="18.45" y="73.47" width="9.82" height="9.78" fill="#881331"/>
<rect x="27.67" y="73.47" width="9.82" height="9.78" fill="#881331"/>
<rect x="36.90" y="73.47" width="9.82" height="9.78" fill="#881331"/>
<rect x="46.12" y="73.47" width="9.82" height="9.78" fill="#881331"/>
<rect x="55.35" y="73.47" width="9.82" height="9.78" fill="#b5252b"/>
<rect x="64.58" y="73.47" width="9.82" height="9.78" fill="#c44630"/>
<rect x="73.80" y="73.47" width="9.82" height="9.78" fill="#cd6745"/>
<rect x="83.02" y="73.47" width="9.82" height="9.78" fill="#da8c70"/>
<rect x="92.25" y="73.47" width="9.82" height="9.78" fill="#de9a82"/>
<rect x="101.47" y="73.47" width="9.82" height="9.78" fill="#eac2b5"/>
<rect x="110.70" y="73.47" width="9.82" height="9.78" fill="#f0eae9"/>
<rect x="119.92" y="73.47" width="9.82" height="9.78" fill="#f0eae9"/>
<rect x="129.15" y="73.47" width="9.82" height="9.78" fill="#f0eae9"/>
<rect x="0.00" y="82.65" width="9.82" height="9.78" fill="#f0eae9"/>
<rect x="9.22" y="82.65" width="9.82" height="9.78" fill="#de9a82"/>
<rect x="18.45" y="82.65" width="9.82" height="9.78" fill="#cd6745"/>
<rect x="27.67" y="82.65" width="9.82" height="9.78" fill="#cd6745"/>
<rect x="36.90" y="82.65" width="9.82" height="9.78" fill="#c8563a"/>
<rect x="46.12" y="82.65" width="9.82" height="9.78" fill="#bc362e"/>
<rect x="55.35" y="82.65" width="9.82" height="9.78" fill="#bc362e"/>
<rect x="64.58" y="82.65" width="9.82" height="9.78" fill="#bc362e"/>
<rect x="73.80" y="82.65" width="9.82" height="9.78" fill="#cd6745"/>
<rect x="83.02" y="82.65" width="9.82" height="9.78" fill="#cd6745"/>
<rect x="92.25" y="82.65" width="9.82" height="9.78" fill="#de9a82"/>
<rect x="101.47" y="82.65" width="9.82" height="9.78" fill="#eac2b5"/>
<rect x="110.70" y="82.65" width="9.82" height="9.78" fill="#eac2b5"/>
<rect x="119.92" y="82.65" width="9.82" height="9.78" fill="#f0eae9"/>
<rect x="129.15" y="82.65" width="9.82" height="9.78" fill="#f0eae9"/>
<rect x="138.38" y="82.65" width="9.82" height="9.78" fill="#f0eae9"/>
<rect x="0.00" y="91.83" width="9.82" height="9.78" fill="#f0eae9"/>
<rect x="9.22" y="91.83" width="9.82" height="9.78" fill="#f0eae9"/>
<rect x="18.45" y="91.83" width="9.82" height="9.78" fill="#f0eae9"/>
<rect x="27.67" y="91.83" width="9.82" height="9.78" fill="#f0eae9"/>
<rect x="36.90" y="91.83" width="9.82" height="9.78" fill="#f0eae9"/>
<rect x="46.12" y="91.83" width="9.82" height="9.78" fill="#f0eae9"/>
<rect x="55.35" y="91.83" width="9.82" height="9.78" fill="#e6b5a4"/>
<rect x="64.58" y="91.83" width="9.82" height="9.78" fill="#de9a82"/>
<rect x="73.80" y="91.83" width="9.82" height="9.78" fill="#de9a82"/>
<rect x="83.02" y="91.83" width="9.82" height="9.78" fill="#de9a82"/>
<rect x="92.25" y="91.83" width="9.82" height="9.78" fill="#de9a82"/>
<rect x="101.47" y="91.83" width="9.82" height="9.78" fill="#eac2b5"/>
<rect x="110.70" y="91.83" width="9.82" height="9.78" fill="#eac2b5"/>
<rect x="119.92" y="91.83" width="9.82" height="9.78" fill="#f0eae9"/>
<rect x="129.15" y="91.83" width="9.82" height="9.78" fill="#f0eae9"/>
<rect x="138.38" y="91.83" width="9.82" height="9.78" fill="#f0eae9"/>
<rect x="64.58" y="101.02" width="9.82" height="9.78" fill="#f0eae9"/>
<rect x="73.80" y="101.02" width="9.82" height="9.78" fill="#f0eae9"/>
<rect x="83.02" y="101.02" width="9.82" height="9.78" fill="#f0eae9"/>
<rect x="92.25" y="101.02" width="9.82" height="9.78" fill="#f0eae9"/>
<rect x="101.47" y="101.02" width="9.82" height="9.78" fill="#f0eae9"/>
<path d="M7.0 110.2 L6.3 109.3 L5.4 108.7 L4.1 107.6 L2.6 107.1 L1.8 106.2 L0.7 106.0 L0.0 105.1M0.0 98.4 L0.6 99.9 L0.7 101.2 L1.1 102.5 L1.7 103.6 L2.4 104.9 L3.5 105.8 L4.8 106.5 L6.3 107.4 L6.6 107.8 L7.6 107.6 L7.7 106.0 L6.5 104.9 L6.3 103.6 L6.3 102.3 L5.7 100.6 L4.6 99.4 L3.9 98.8 L3.0 97.7 L1.8 97.5 L0.9 96.8 L0.4 95.0 L0.0 94.0M0.0 87.8 L0.0 85.8 L0.9 85.4 L1.8 85.8 L1.7 87.1 L3.1 86.9 L4.2 87.8 L5.4 88.7 L5.7 90.2 L6.6 90.9 L8.1 91.1 L9.0 91.8 L8.9 94.4 L9.8 93.9 L11.4 92.9 L12.5 91.3 L13.5 90.9 L14.8 90.5 L16.4 89.4 L17.0 88.3 L17.2 86.5 L17.0 84.9 L16.4 82.1 L15.3 80.6 L14.0 79.5 L12.4 77.7 L11.8 76.6 L10.5 75.5 L10.9 73.7 L12.2 72.7 L12.5 71.8 L14.2 71.1 L15.5 70.5 L16.8 70.7 L17.7 70.3 L18.3 72.7 L19.0 72.9 L19.4 72.4 L19.2 71.3 L20.3 70.7 L22.1 70.2 L24.0 69.8 L25.1 68.5 L26.2 69.2 L27.7 68.5 L29.5 68.1 L31.2 67.0 L32.8 66.1 L33.6 65.0 L34.9 64.3 L36.0 63.2 L36.3 61.9 L37.3 60.6 L38.4 59.0 L39.7 57.9 L40.4 56.6 L40.4 55.3 L39.1 54.5 L38.4 54.7 L39.5 53.8 L40.4 53.4 L40.4 52.2 L38.7 51.4 L39.5 50.5 L38.4 49.0 L37.5 47.4 L35.4 46.1 L35.8 45.2 L37.3 44.1 L38.4 43.2 L39.9 42.6 L41.5 42.4 L41.7 41.5 L39.7 41.3 L38.4 40.8 L36.5 41.7 L35.1 41.7 L34.9 40.4 L32.8 39.3 L32.7 38.4 L33.9 38.4 L35.4 37.8 L36.7 36.7 L38.6 35.4 L40.2 35.1 L41.0 35.8 L39.7 37.5 L39.1 38.9 L40.2 38.6 L42.4 37.5 L44.6 36.9 L45.8 37.5 L46.7 37.8 L46.1 39.3 L45.8 40.2 L46.9 41.0 L48.2 41.0 L49.3 41.9 L48.9 43.0 L48.9 44.3 L48.7 45.9 L48.5 46.8 L49.8 47.0 L51.1 46.3 L52.8 46.1 L53.9 45.5 L54.4 44.1 L54.2 42.2 L53.3 40.8 L52.2 39.3 L50.7 38.0 L50.7 37.1 L52.2 36.5 L53.9 35.4 L54.8 34.2 L55.4 33.1 L56.6 32.5 L57.6 31.6 L58.9 31.0 L59.6 30.7 L61.1 31.8 L62.7 31.2 L64.8 30.1 L66.1 28.7 L67.9 27.2 L69.6 25.7 L70.8 23.9 L72.3 22.4 L74.2 21.1 L74.5 19.3 L74.9 17.4 L75.6 15.6 L76.4 14.3 L76.0 12.7 L74.4 12.5 L73.4 10.7 L71.4 10.5 L69.6 11.2 L68.6 11.8 L67.7 9.9 L65.1 9.6 L66.1 8.8 L68.6 7.0 L71.0 5.5 L73.8 3.7 L75.1 2.2 L77.9 1.5 L79.7 1.1 L83.9 1.1 L86.7 1.3 L89.5 1.3 L90.8 0.6 L93.2 0.7 L94.6 1.8 L96.5 1.8 L98.3 1.5 L100.2 0.9 L101.8 1.3 L101.3 0.0M113.1 0.0 L110.3 1.8 L107.0 3.5 L104.8 5.3 L102.8 7.3 L102.6 9.2 L103.0 11.0 L103.5 12.9 L104.2 14.7 L104.6 16.7 L106.1 15.6 L107.6 14.3 L108.1 12.9 L110.7 12.5 L110.5 11.0 L113.8 9.9 L114.6 9.6 L113.8 8.6 L114.6 7.2 L116.8 7.0 L115.9 6.1 L116.6 4.6 L115.3 4.0 L116.8 2.8 L117.7 1.8 L119.2 0.2 L119.6 0.0M121.8 0.0 L122.3 0.4 L123.2 0.0M128.8 0.0 L129.7 0.2 L130.1 0.0M77.5 25.7 L77.3 23.9 L77.7 22.0 L77.5 20.2 L77.9 18.4 L77.7 16.5 L76.9 14.7 L77.3 12.9 L78.0 11.9 L78.8 10.5 L79.3 11.9 L79.9 13.8 L79.7 15.6 L80.6 17.4 L81.4 19.5 L82.5 20.8 L80.8 19.8 L79.2 20.0 L78.6 22.0 L79.3 23.5 L80.3 24.2 L80.3 25.5 L79.0 24.6 L78.2 24.6ZM74.2 34.2 L73.4 32.7 L74.4 31.2 L76.2 30.7 L76.8 28.8 L77.1 27.0 L77.5 26.6 L79.2 28.1 L80.8 29.0 L82.7 29.6 L83.6 28.8 L83.2 29.9 L84.5 30.7 L83.0 31.2 L81.2 31.4 L79.9 32.5 L79.7 33.1 L78.4 32.5 L77.1 32.0 L75.6 32.5 L74.5 32.3 L74.7 33.1 L76.0 33.4 L75.1 34.0ZM76.4 34.2 L76.6 35.8 L77.5 37.5 L76.8 39.7 L75.6 40.0 L75.5 42.2 L74.9 43.5 L75.3 44.6 L74.4 45.5 L73.6 46.1 L73.6 45.0 L73.1 45.5 L72.1 45.7 L71.6 46.7 L71.0 45.9 L70.5 46.7 L68.8 46.7 L68.1 45.9 L68.1 47.2 L67.0 47.9 L66.1 48.9 L64.8 47.9 L64.9 47.2 L64.6 46.7 L62.7 46.7 L60.9 47.2 L59.4 47.9 L57.2 47.9 L57.0 47.2 L57.9 46.8 L59.6 45.5 L61.1 44.8 L63.1 44.8 L65.1 44.8 L66.2 44.6 L66.6 43.7 L67.7 42.6 L67.9 41.5 L68.8 41.3 L68.3 42.4 L69.0 42.6 L70.5 41.9 L71.6 40.8 L72.7 40.0 L73.4 38.8 L73.8 37.5 L73.4 36.9 L73.8 35.8 L74.4 34.7 L75.1 35.1 L75.8 34.7 L75.5 34.0ZM60.1 47.8 L60.9 47.8 L62.0 47.2 L63.5 47.2 L64.0 48.1 L63.1 49.0 L62.0 48.7 L60.9 50.0 L60.0 49.6 L59.8 48.7ZM57.0 47.9 L58.5 48.5 L58.9 49.2 L58.9 50.3 L57.9 52.2 L57.2 52.9 L56.6 53.3 L55.7 52.7 L55.7 51.4 L56.5 50.3 L55.7 50.1 L55.0 50.1 L54.8 49.2 L55.4 48.7 L56.1 48.3ZM39.7 63.7 L40.6 64.3 L40.2 65.2 L39.9 66.3 L39.5 67.8 L38.6 69.8 L37.5 68.7 L37.1 67.6 L37.3 66.5 L38.2 65.0 L38.9 64.1ZM16.1 74.8 L17.0 73.7 L18.4 73.3 L19.7 73.3 L20.3 74.0 L19.4 75.7 L18.4 76.4 L17.5 76.8 L16.1 76.2 L15.9 75.3ZM38.0 76.2 L38.7 76.0 L40.4 76.6 L41.0 76.2 L41.3 78.4 L41.0 80.3 L39.9 81.0 L39.9 82.7 L40.0 83.9 L41.1 84.1 L42.3 84.3 L43.0 84.9 L44.1 84.9 L44.5 86.3 L44.5 87.1 L43.2 86.5 L42.4 85.8 L41.7 85.8 L41.5 84.7 L40.2 84.7 L39.3 85.2 L38.2 84.7 L38.0 83.8 L38.6 83.4 L38.0 83.0 L37.1 83.0 L36.7 81.2 L36.5 80.3 L37.5 80.6 L37.5 79.7 L37.6 78.1ZM37.5 85.6 L38.9 85.6 L39.7 86.9 L39.1 87.8 L38.4 86.9ZM31.7 94.8 L33.2 93.3 L35.1 91.3 L36.0 89.4 L36.3 90.9 L34.7 92.8 L33.0 94.2ZM44.8 87.2 L46.7 87.2 L47.2 88.9 L47.4 89.8 L46.1 89.4 L45.8 88.5ZM45.0 89.3 L46.1 89.6 L46.5 91.3 L45.8 91.6 L45.0 90.2ZM40.6 88.3 L42.6 88.9 L42.1 90.2 L40.6 90.9 L40.4 89.3ZM41.3 91.8 L42.8 90.2 L43.4 90.7 L42.8 92.9 L42.3 93.5 L41.3 92.4ZM43.2 92.8 L43.7 91.3 L44.3 89.6 L44.1 91.3ZM43.9 92.4 L44.8 91.6 L45.4 92.2 L44.6 92.6ZM42.8 87.2 L44.1 87.8 L43.5 88.3ZM46.9 92.2 L48.3 93.1 L48.7 95.1 L49.1 96.8 L48.3 98.6 L47.4 97.5 L47.2 97.0 L46.9 97.9 L47.4 99.4 L46.7 99.9 L45.4 99.2 L44.3 98.3 L44.6 96.8 L43.7 96.1 L43.2 96.6 L42.1 96.4 L40.8 97.5 L40.8 96.2 L41.5 95.3 L43.0 94.4 L43.9 95.3 L44.8 94.6 L45.8 94.4 L46.3 93.7ZM16.8 110.2 L16.6 108.4 L17.3 106.7 L19.0 107.1 L20.7 107.4 L21.0 105.8 L23.1 104.7 L24.5 103.6 L25.6 101.9 L27.3 101.0 L28.8 99.9 L29.7 98.8 L30.8 97.3 L31.7 97.9 L32.7 98.6 L32.7 99.5 L34.3 100.1 L35.4 100.6 L33.8 101.2 L34.1 102.1 L32.7 102.5 L32.3 103.8 L32.8 105.1 L33.2 106.2 L33.0 107.1 L34.9 108.4 L33.0 108.7 L32.3 110.2M36.7 110.2 L37.1 108.7 L38.6 107.8 L40.6 108.4 L42.4 108.5 L44.8 108.4 L46.1 107.3 L46.5 107.6 L45.2 109.5 L43.4 109.6 L40.6 109.3 L38.7 109.5 L37.5 110.2M50.7 110.2 L50.7 108.4 L51.7 106.3 L53.0 107.4 L51.7 108.5 L53.0 109.5 L52.0 109.6 L51.5 110.2M48.3 49.0 L49.6 48.7 L49.6 49.0 L48.5 49.2ZM53.9 47.6 L54.4 46.5 L54.2 47.2ZM70.5 39.9 L71.0 40.2 L71.2 40.8 L70.7 40.6Z" fill="none" stroke="#000" stroke-width="0.9" stroke-linejoin="round" stroke-linecap="round"/><path d="M51.5 61.7l0.7 -0.9M54.2 58.2l0.7 -0.6M44.6 65.4l0.7 -0.2M46.7 64.7l0.5 -0.0M56.3 54.4l0.6 -0.0M57.2 54.0l0.0 -0.6M82.5 85.6l0.5 -0.4M84.3 82.5l0.5 -0.4M84.5 79.5l0.5 -0.4M84.3 77.0l0.5 -0.4M63.7 96.6l0.2 -0.6M70.3 92.8l0.5 -0.2M95.6 96.6l0.5 -0.0M107.4 97.5l0.5 -0.0M116.2 100.5l0.5 -0.0M124.5 93.7l0.6 0.4M127.3 96.4l0.5 -0.0M131.4 97.2l0.6 -0.0M132.7 99.2l0.5 -0.2M134.5 107.4l0.2 -0.7M134.7 104.7l0.5 -0.4M123.4 89.4l0.5 0.0M77.9 60.6l0.5 -0.4M76.2 64.7l0.5 -0.2M73.4 49.4l0.5 -0.2M72.7 46.5l0.5 -0.2M7.4 108.4l0.9 -0.0M8.3 109.8l0.6 0.4M14.9 103.0l0.5 -0.2M11.4 104.5l0.5 -0.0M10.5 104.9l0.5 -0.0M40.4 72.7l0.5 -0.4M39.7 74.8l0.5 0.0M48.0 92.2l0.2 -0.6M36.9 88.2l0.6 -0.4M36.7 88.3l0.4 0.6M38.7 99.2l0.6 0.0M36.9 100.6l0.6 0.2M46.9 103.6l0.5 -0.4M49.4 102.5l0.5 -0.4M52.4 106.0l0.2 -0.6M31.9 95.5l0.5 0.4M40.6 87.2l0.4 0.6M41.5 87.4l0.5 0.0" fill="none" stroke="#222" stroke-width="0.75" stroke-linecap="round" opacity="0.75"/><path d="M84.5 29.4l1.1 -0.7M87.8 27.6l1.7 -0.9M92.1 25.7l0.9 -0.6M95.9 23.9l0.6 -0.4M98.0 21.7l0.5 -0.4M100.6 19.7l0.5 -0.4M103.0 17.8l0.7 -0.7M104.1 16.9l0.5 -0.2M122.1 9.2l0.9 0.7M124.7 9.7l0.6 0.4M134.5 13.0l0.9 -0.0M135.8 14.0l0.6 -0.0M143.0 14.7l0.7 0.4M145.8 15.6l0.7 0.4" fill="none" stroke="#000" stroke-width="1" stroke-linecap="round"/>
</svg>
<rect x="0" y="0" width="147.6" height="110.2" fill="none" stroke="#262626" stroke-width="1"/>
<path d="M0 91.83h-3.4" stroke="#262626" stroke-width="0.8"/>
<text x="-6.3" y="94.33" font-size="7.1" text-anchor="end">10°N</text>
<path d="M0 55.10h-3.4" stroke="#262626" stroke-width="0.8"/>
<text x="-6.3" y="57.60" font-size="7.1" text-anchor="end">30°N</text>
<path d="M0 18.37h-3.4" stroke="#262626" stroke-width="0.8"/>
<text x="-6.3" y="20.87" font-size="7.1" text-anchor="end">50°N</text>
<path d="M0.00 110.2v3.4" stroke="#262626" stroke-width="0.8"/>
<text x="0.00" y="122.80" font-size="7.1" text-anchor="middle">100°E</text>
<path d="M73.80 110.2v3.4" stroke="#262626" stroke-width="0.8"/>
<text x="73.80" y="122.80" font-size="7.1" text-anchor="middle">140°E</text>
<path d="M147.60 110.2v3.4" stroke="#262626" stroke-width="0.8"/>
<text x="147.60" y="122.80" font-size="7.1" text-anchor="middle">180°</text>
<text x="0.2" y="-1.7" font-size="9.0">(e) SeaUnet(2001-2016)</text>
</g>
<g transform="translate(384.2,166.6)">
<svg x="0" y="0" width="147.6" height="110.2" overflow="hidden">
<rect x="46.12" y="0.00" width="9.82" height="9.78" fill="#f0eae9"/>
<rect x="55.35" y="0.00" width="9.82" height="9.78" fill="#f0eae9"/>
<rect x="64.58" y="0.00" width="9.82" height="9.78" fill="#f0eae9"/>
<rect x="73.80" y="0.00" width="9.82" height="9.78" fill="#f0eae9"/>
<rect x="83.02" y="0.00" width="9.82" height="9.78" fill="#f0eae9"/>
<rect x="92.25" y="0.00" width="9.82" height="9.78" fill="#f0eae9"/>
<rect x="101.47" y="0.00" width="9.82" height="9.78" fill="#f0eae9"/>
<rect x="110.70" y="0.00" width="9.82" height="9.78" fill="#f0eae9"/>
<rect x="119.92" y="0.00" width="9.82" height="9.78" fill="#f0eae9"/>
<rect x="129.15" y="0.00" width="9.82" height="9.78" fill="#f0eae9"/>
<rect x="138.38" y="0.00" width="9.82" height="9.78" fill="#f0eae9"/>
<rect x="27.67" y="9.18" width="9.82" height="9.78" fill="#f0eae9"/>
<rect x="36.90" y="9.18" width="9.82" height="9.78" fill="#f0eae9"/>
<rect x="46.12" y="9.18" width="9.82" height="9.78" fill="#f0eae9"/>
<rect x="55.35" y="9.18" width="9.82" height="9.78" fill="#f0eae9"/>
<rect x="64.58" y="9.18" width="9.82" height="9.78" fill="#f0eae9"/>
<rect x="73.80" y="9.18" width="9.82" height="9.78" fill="#f0eae9"/>
<rect x="83.02" y="9.18" width="9.82" height="9.78" fill="#f0eae9"/>
<rect x="92.25" y="9.18" width="9.82" height="9.78" fill="#f0eae9"/>
<rect x="101.47" y="9.18" width="9.82" height="9.78" fill="#f0eae9"/>
<rect x="110.70" y="9.18" width="9.82" height="9.78" fill="#f0eae9"/>
<rect x="119.92" y="9.18" width="9.82" height="9.78" fill="#f0eae9"/>
<rect x="129.15" y="9.18" width="9.82" height="9.78" fill="#f0eae9"/>
<rect x="138.38" y="9.18" width="9.82" height="9.78" fill="#f0eae9"/>
<rect x="18.45" y="18.37" width="9.82" height="9.78" fill="#f0eae9"/>
<rect x="27.67" y="18.37" width="9.82" height="9.78" fill="#f0eae9"/>
<rect x="36.90" y="18.37" width="9.82" height="9.78" fill="#f0eae9"/>
<rect x="46.12" y="18.37" width="9.82" height="9.78" fill="#f0eae9"/>
<rect x="55.35" y="18.37" width="9.82" height="9.78" fill="#f0eae9"/>
<rect x="64.58" y="18.37" width="9.82" height="9.78" fill="#f0eae9"/>
<rect x="73.80" y="18.37" width="9.82" height="9.78" fill="#f0eae9"/>
<rect x="83.02" y="18.37" width="9.82" height="9.78" fill="#f0eae9"/>
<rect x="92.25" y="18.37" width="9.82" height="9.78" fill="#f0eae9"/>
<rect x="101.47" y="18.37" width="9.82" height="9.78" fill="#f0eae9"/>
<rect x="110.70" y="18.37" width="9.82" height="9.78" fill="#f0eae9"/>
<rect x="119.92" y="18.37" width="9.82" height="9.78" fill="#f0eae9"/>
<rect x="129.15" y="18.37" width="9.82" height="9.78" fill="#f0eae9"/>
<rect x="138.38" y="18.37" width="9.82" height="9.78" fill="#f0eae9"/>
<rect x="27.67" y="27.55" width="9.82" height="9.78" fill="#f0eae9"/>
<rect x="36.90" y="27.55" width="9.82" height="9.78" fill="#f0eae9"/>
<rect x="46.12" y="27.55" width="9.82" height="9.78" fill="#f0eae9"/>
<rect x="55.35" y="27.55" width="9.82" height="9.78" fill="#f0eae9"/>
<rect x="64.58" y="27.55" width="9.82" height="9.78" fill="#f0eae9"/>
<rect x="73.80" y="27.55" width="9.82" height="9.78" fill="#f0eae9"/>
<rect x="83.02" y="27.55" width="9.82" height="9.78" fill="#eac2b5"/>
<rect x="92.25" y="27.55" width="9.82" height="9.78" fill="#eac2b5"/>
<rect x="101.47" y="27.55" width="9.82" height="9.78" fill="#f0eae9"/>
<rect x="110.70" y="27.55" width="9.82" height="9.78" fill="#f0eae9"/>
<rect x="119.92" y="27.55" width="9.82" height="9.78" fill="#f0eae9"/>
<rect x="129.15" y="27.55" width="9.82" height="9.78" fill="#f0eae9"/>
<rect x="138.38" y="27.55" width="9.82" height="9.78" fill="#f0eae9"/>
<rect x="18.45" y="36.73" width="9.82" height="9.78" fill="#f0eae9"/>
<rect x="27.67" y="36.73" width="9.82" height="9.78" fill="#f0eae9"/>
<rect x="36.90" y="36.73" width="9.82" height="9.78" fill="#f0eae9"/>
<rect x="46.12" y="36.73" width="9.82" height="9.78" fill="#f0eae9"/>
<rect x="55.35" y="36.73" width="9.82" height="9.78" fill="#e6b5a4"/>
<rect x="64.58" y="36.73" width="9.82" height="9.78" fill="#e6b5a4"/>
<rect x="73.80" y="36.73" width="9.82" height="9.78" fill="#e6b5a4"/>
<rect x="83.02" y="36.73" width="9.82" height="9.78" fill="#eac2b5"/>
<rect x="92.25" y="36.73" width="9.82" height="9.78" fill="#eac2b5"/>
<rect x="101.47" y="36.73" width="9.82" height="9.78" fill="#eac2b5"/>
<rect x="110.70" y="36.73" width="9.82" height="9.78" fill="#f0eae9"/>
<rect x="119.92" y="36.73" width="9.82" height="9.78" fill="#f0eae9"/>
<rect x="129.15" y="36.73" width="9.82" height="9.78" fill="#f0eae9"/>
<rect x="138.38" y="36.73" width="9.82" height="9.78" fill="#f0eae9"/>
<rect x="18.45" y="45.92" width="9.82" height="9.78" fill="#f0eae9"/>
<rect x="27.67" y="45.92" width="9.82" height="9.78" fill="#e3a893"/>
<rect x="36.90" y="45.92" width="9.82" height="9.78" fill="#de9a82"/>
<rect x="46.12" y="45.92" width="9.82" height="9.78" fill="#de9a82"/>
<rect x="55.35" y="45.92" width="9.82" height="9.78" fill="#de9a82"/>
<rect x="64.58" y="45.92" width="9.82" height="9.78" fill="#de9a82"/>
<rect x="73.80" y="45.92" width="9.82" height="9.78" fill="#de9a82"/>
<rect x="83.02" y="45.92" width="9.82" height="9.78" fill="#de9a82"/>
<rect x="92.25" y="45.92" width="9.82" height="9.78" fill="#eac2b5"/>
<rect x="101.47" y="45.92" width="9.82" height="9.78" fill="#eac2b5"/>
<rect x="110.70" y="45.92" width="9.82" height="9.78" fill="#f0eae9"/>
<rect x="119.92" y="45.92" width="9.82" height="9.78" fill="#f0eae9"/>
<rect x="129.15" y="45.92" width="9.82" height="9.78" fill="#f0eae9"/>
<rect x="138.38" y="45.92" width="9.82" height="9.78" fill="#f0eae9"/>
<rect x="9.22" y="55.10" width="9.82" height="9.78" fill="#f0eae9"/>
<rect x="18.45" y="55.10" width="9.82" height="9.78" fill="#f0eae9"/>
<rect x="27.67" y="55.10" width="9.82" height="9.78" fill="#de9a82"/>
<rect x="36.90" y="55.10" width="9.82" height="9.78" fill="#cd6745"/>
<rect x="46.12" y="55.10" width="9.82" height="9.78" fill="#cd6745"/>
<rect x="55.35" y="55.10" width="9.82" height="9.78" fill="#cd6745"/>
<rect x="64.58" y="55.10" width="9.82" height="9.78" fill="#cd6745"/>
<rect x="73.80" y="55.10" width="9.82" height="9.78" fill="#da8c70"/>
<rect x="83.02" y="55.10" width="9.82" height="9.78" fill="#de9a82"/>
<rect x="92.25" y="55.10" width="9.82" height="9.78" fill="#de9a82"/>
<rect x="101.47" y="55.10" width="9.82" height="9.78" fill="#eac2b5"/>
<rect x="110.70" y="55.10" width="9.82" height="9.78" fill="#eac2b5"/>
<rect x="119.92" y="55.10" width="9.82" height="9.78" fill="#f0eae9"/>
<rect x="129.15" y="55.10" width="9.82" height="9.78" fill="#f0eae9"/>
<rect x="138.38" y="55.10" width="9.82" height="9.78" fill="#f0eae9"/>
<rect x="0.00" y="64.28" width="9.82" height="9.78" fill="#f0eae9"/>
<rect x="9.22" y="64.28" width="9.82" height="9.78" fill="#de9a82"/>
<rect x="18.45" y="64.28" width="9.82" height="9.78" fill="#de9a82"/>
<rect x="27.67" y="64.28" width="9.82" height="9.78" fill="#cd6745"/>
<rect x="36.90" y="64.28" width="9.82" height="9.78" fill="#bc362e"/>
<rect x="46.12" y="64.28" width="9.82" height="9.78" fill="#b5252b"/>
<rect x="55.35" y="64.28" width="9.82" height="9.78" fill="#b5252b"/>
<rect x="64.58" y="64.28" width="9.82" height="9.78" fill="#cd6745"/>
<rect x="73.80" y="64.28" width="9.82" height="9.78" fill="#cd6745"/>
<rect x="83.02" y="64.28" width="9.82" height="9.78" fill="#da8c70"/>
<rect x="92.25" y="64.28" width="9.82" height="9.78" fill="#da8c70"/>
<rect x="101.47" y="64.28" width="9.82" height="9.78" fill="#eac2b5"/>
<rect x="110.70" y="64.28" width="9.82" height="9.78" fill="#eac2b5"/>
<rect x="119.92" y="64.28" width="9.82" height="9.78" fill="#eac2b5"/>
<rect x="129.15" y="64.28" width="9.82" height="9.78" fill="#f0eae9"/>
<rect x="138.38" y="64.28" width="9.82" height="9.78" fill="#f0eae9"/>
<rect x="0.00" y="73.47" width="9.82" height="9.78" fill="#f0eae9"/>
<rect x="9.22" y="73.47" width="9.82" height="9.78" fill="#da8c70"/>
<rect x="18.45" y="73.47" width="9.82" height="9.78" fill="#b5252b"/>
<rect x="27.67" y="73.47" width="9.82" height="9.78" fill="#881331"/>
<rect x="36.90" y="73.47" width="9.82" height="9.78" fill="#c8563a"/>
<rect x="46.12" y="73.47" width="9.82" height="9.78" fill="#b5252b"/>
<rect x="55.35" y="73.47" width="9.82" height="9.78" fill="#b5252b"/>
<rect x="64.58" y="73.47" width="9.82" height="9.78" fill="#c8563a"/>
<rect x="73.80" y="73.47" width="9.82" height="9.78" fill="#da8c70"/>
<rect x="83.02" y="73.47" width="9.82" height="9.78" fill="#da8c70"/>
<rect x="92.25" y="73.47" width="9.82" height="9.78" fill="#da8c70"/>
<rect x="101.47" y="73.47" width="9.82" height="9.78" fill="#eac2b5"/>
<rect x="110.70" y="73.47" width="9.82" height="9.78" fill="#eac2b5"/>
<rect x="119.92" y="73.47" width="9.82" height="9.78" fill="#eac2b5"/>
<rect x="129.15" y="73.47" width="9.82" height="9.78" fill="#f0eae9"/>
<rect x="138.38" y="73.47" width="9.82" height="9.78" fill="#f0eae9"/>
<rect x="0.00" y="82.65" width="9.82" height="9.78" fill="#f0eae9"/>
<rect x="9.22" y="82.65" width="9.82" height="9.78" fill="#f0eae9"/>
<rect x="18.45" y="82.65" width="9.82" height="9.78" fill="#da8c70"/>
<rect x="27.67" y="82.65" width="9.82" height="9.78" fill="#da8c70"/>
<rect x="36.90" y="82.65" width="9.82" height="9.78" fill="#da8c70"/>
<rect x="46.12" y="82.65" width="9.82" height="9.78" fill="#da8c70"/>
<rect x="55.35" y="82.65" width="9.82" height="9.78" fill="#da8c70"/>
<rect x="64.58" y="82.65" width="9.82" height="9.78" fill="#da8c70"/>
<rect x="73.80" y="82.65" width="9.82" height="9.78" fill="#da8c70"/>
<rect x="83.02" y="82.65" width="9.82" height="9.78" fill="#da8c70"/>
<rect x="92.25" y="82.65" width="9.82" height="9.78" fill="#eac2b5"/>
<rect x="101.47" y="82.65" width="9.82" height="9.78" fill="#eac2b5"/>
<rect x="110.70" y="82.65" width="9.82" height="9.78" fill="#eac2b5"/>
<rect x="119.92" y="82.65" width="9.82" height="9.78" fill="#f0eae9"/>
<rect x="129.15" y="82.65" width="9.82" height="9.78" fill="#f0eae9"/>
<rect x="138.38" y="82.65" width="9.82" height="9.78" fill="#f0eae9"/>
<rect x="0.00" y="91.83" width="9.82" height="9.78" fill="#f0eae9"/>
<rect x="9.22" y="91.83" width="9.82" height="9.78" fill="#f0eae9"/>
<rect x="18.45" y="91.83" width="9.82" height="9.78" fill="#e3a893"/>
<rect x="27.67" y="91.83" width="9.82" height="9.78" fill="#f0eae9"/>
<rect x="36.90" y="91.83" width="9.82" height="9.78" fill="#f0eae9"/>
<rect x="46.12" y="91.83" width="9.82" height="9.78" fill="#f0eae9"/>
<rect x="55.35" y="91.83" width="9.82" height="9.78" fill="#f0eae9"/>
<rect x="64.58" y="91.83" width="9.82" height="9.78" fill="#f0eae9"/>
<rect x="73.80" y="91.83" width="9.82" height="9.78" fill="#f0eae9"/>
<rect x="83.02" y="91.83" width="9.82" height="9.78" fill="#f0eae9"/>
<rect x="92.25" y="91.83" width="9.82" height="9.78" fill="#f0eae9"/>
<rect x="101.47" y="91.83" width="9.82" height="9.78" fill="#f0eae9"/>
<rect x="110.70" y="91.83" width="9.82" height="9.78" fill="#f0eae9"/>
<rect x="119.92" y="91.83" width="9.82" height="9.78" fill="#f0eae9"/>
<rect x="129.15" y="91.83" width="9.82" height="9.78" fill="#f0eae9"/>
<rect x="138.38" y="91.83" width="9.82" height="9.78" fill="#f0eae9"/>
<rect x="64.58" y="101.02" width="9.82" height="9.78" fill="#f0eae9"/>
<rect x="73.80" y="101.02" width="9.82" height="9.78" fill="#f0eae9"/>
<rect x="83.02" y="101.02" width="9.82" height="9.78" fill="#f0eae9"/>
<rect x="92.25" y="101.02" width="9.82" height="9.78" fill="#f0eae9"/>
<rect x="101.47" y="101.02" width="9.82" height="9.78" fill="#f0eae9"/>
<rect x="110.70" y="101.02" width="9.82" height="9.78" fill="#f0eae9"/>
<rect x="119.92" y="101.02" width="9.82" height="9.78" fill="#f0eae9"/>
<rect x="129.15" y="101.02" width="9.82" height="9.78" fill="#f0eae9"/>
<path d="M7.0 110.2 L6.3 109.3 L5.4 108.7 L4.1 107.6 L2.6 107.1 L1.8 106.2 L0.7 106.0 L0.0 105.1M0.0 98.4 L0.6 99.9 L0.7 101.2 L1.1 102.5 L1.7 103.6 L2.4 104.9 L3.5 105.8 L4.8 106.5 L6.3 107.4 L6.6 107.8 L7.6 107.6 L7.7 106.0 L6.5 104.9 L6.3 103.6 L6.3 102.3 L5.7 100.6 L4.6 99.4 L3.9 98.8 L3.0 97.7 L1.8 97.5 L0.9 96.8 L0.4 95.0 L0.0 94.0M0.0 87.8 L0.0 85.8 L0.9 85.4 L1.8 85.8 L1.7 87.1 L3.1 86.9 L4.2 87.8 L5.4 88.7 L5.7 90.2 L6.6 90.9 L8.1 91.1 L9.0 91.8 L8.9 94.4 L9.8 93.9 L11.4 92.9 L12.5 91.3 L13.5 90.9 L14.8 90.5 L16.4 89.4 L17.0 88.3 L17.2 86.5 L17.0 84.9 L16.4 82.1 L15.3 80.6 L14.0 79.5 L12.4 77.7 L11.8 76.6 L10.5 75.5 L10.9 73.7 L12.2 72.7 L12.5 71.8 L14.2 71.1 L15.5 70.5 L16.8 70.7 L17.7 70.3 L18.3 72.7 L19.0 72.9 L19.4 72.4 L19.2 71.3 L20.3 70.7 L22.1 70.2 L24.0 69.8 L25.1 68.5 L26.2 69.2 L27.7 68.5 L29.5 68.1 L31.2 67.0 L32.8 66.1 L33.6 65.0 L34.9 64.3 L36.0 63.2 L36.3 61.9 L37.3 60.6 L38.4 59.0 L39.7 57.9 L40.4 56.6 L40.4 55.3 L39.1 54.5 L38.4 54.7 L39.5 53.8 L40.4 53.4 L40.4 52.2 L38.7 51.4 L39.5 50.5 L38.4 49.0 L37.5 47.4 L35.4 46.1 L35.8 45.2 L37.3 44.1 L38.4 43.2 L39.9 42.6 L41.5 42.4 L41.7 41.5 L39.7 41.3 L38.4 40.8 L36.5 41.7 L35.1 41.7 L34.9 40.4 L32.8 39.3 L32.7 38.4 L33.9 38.4 L35.4 37.8 L36.7 36.7 L38.6 35.4 L40.2 35.1 L41.0 35.8 L39.7 37.5 L39.1 38.9 L40.2 38.6 L42.4 37.5 L44.6 36.9 L45.8 37.5 L46.7 37.8 L46.1 39.3 L45.8 40.2 L46.9 41.0 L48.2 41.0 L49.3 41.9 L48.9 43.0 L48.9 44.3 L48.7 45.9 L48.5 46.8 L49.8 47.0 L51.1 46.3 L52.8 46.1 L53.9 45.5 L54.4 44.1 L54.2 42.2 L53.3 40.8 L52.2 39.3 L50.7 38.0 L50.7 37.1 L52.2 36.5 L53.9 35.4 L54.8 34.2 L55.4 33.1 L56.6 32.5 L57.6 31.6 L58.9 31.0 L59.6 30.7 L61.1 31.8 L62.7 31.2 L64.8 30.1 L66.1 28.7 L67.9 27.2 L69.6 25.7 L70.8 23.9 L72.3 22.4 L74.2 21.1 L74.5 19.3 L74.9 17.4 L75.6 15.6 L76.4 14.3 L76.0 12.7 L74.4 12.5 L73.4 10.7 L71.4 10.5 L69.6 11.2 L68.6 11.8 L67.7 9.9 L65.1 9.6 L66.1 8.8 L68.6 7.0 L71.0 5.5 L73.8 3.7 L75.1 2.2 L77.9 1.5 L79.7 1.1 L83.9 1.1 L86.7 1.3 L89.5 1.3 L90.8 0.6 L93.2 0.7 L94.6 1.8 L96.5 1.8 L98.3 1.5 L100.2 0.9 L101.8 1.3 L101.3 0.0M113.1 0.0 L110.3 1.8 L107.0 3.5 L104.8 5.3 L102.8 7.3 L102.6 9.2 L103.0 11.0 L103.5 12.9 L104.2 14.7 L104.6 16.7 L106.1 15.6 L107.6 14.3 L108.1 12.9 L110.7 12.5 L110.5 11.0 L113.8 9.9 L114.6 9.6 L113.8 8.6 L114.6 7.2 L116.8 7.0 L115.9 6.1 L116.6 4.6 L115.3 4.0 L116.8 2.8 L117.7 1.8 L119.2 0.2 L119.6 0.0M121.8 0.0 L122.3 0.4 L123.2 0.0M128.8 0.0 L129.7 0.2 L130.1 0.0M77.5 25.7 L77.3 23.9 L77.7 22.0 L77.5 20.2 L77.9 18.4 L77.7 16.5 L76.9 14.7 L77.3 12.9 L78.0 11.9 L78.8 10.5 L79.3 11.9 L79.9 13.8 L79.7 15.6 L80.6 17.4 L81.4 19.5 L82.5 20.8 L80.8 19.8 L79.2 20.0 L78.6 22.0 L79.3 23.5 L80.3 24.2 L80.3 25.5 L79.0 24.6 L78.2 24.6ZM74.2 34.2 L73.4 32.7 L74.4 31.2 L76.2 30.7 L76.8 28.8 L77.1 27.0 L77.5 26.6 L79.2 28.1 L80.8 29.0 L82.7 29.6 L83.6 28.8 L83.2 29.9 L84.5 30.7 L83.0 31.2 L81.2 31.4 L79.9 32.5 L79.7 33.1 L78.4 32.5 L77.1 32.0 L75.6 32.5 L74.5 32.3 L74.7 33.1 L76.0 33.4 L75.1 34.0ZM76.4 34.2 L76.6 35.8 L77.5 37.5 L76.8 39.7 L75.6 40.0 L75.5 42.2 L74.9 43.5 L75.3 44.6 L74.4 45.5 L73.6 46.1 L73.6 45.0 L73.1 45.5 L72.1 45.7 L71.6 46.7 L71.0 45.9 L70.5 46.7 L68.8 46.7 L68.1 45.9 L68.1 47.2 L67.0 47.9 L66.1 48.9 L64.8 47.9 L64.9 47.2 L64.6 46.7 L62.7 46.7 L60.9 47.2 L59.4 47.9 L57.2 47.9 L57.0 47.2 L57.9 46.8 L59.6 45.5 L61.1 44.8 L63.1 44.8 L65.1 44.8 L66.2 44.6 L66.6 43.7 L67.7 42.6 L67.9 41.5 L68.8 41.3 L68.3 42.4 L69.0 42.6 L70.5 41.9 L71.6 40.8 L72.7 40.0 L73.4 38.8 L73.8 37.5 L73.4 36.9 L73.8 35.8 L74.4 34.7 L75.1 35.1 L75.8 34.7 L75.5 34.0ZM60.1 47.8 L60.9 47.8 L62.0 47.2 L63.5 47.2 L64.0 48.1 L63.1 49.0 L62.0 48.7 L60.9 50.0 L60.0 49.6 L59.8 48.7ZM57.0 47.9 L58.5 48.5 L58.9 49.2 L58.9 50.3 L57.9 52.2 L57.2 52.9 L56.6 53.3 L55.7 52.7 L55.7 51.4 L56.5 50.3 L55.7 50.1 L55.0 50.1 L54.8 49.2 L55.4 48.7 L56.1 48.3ZM39.7 63.7 L40.6 64.3 L40.2 65.2 L39.9 66.3 L39.5 67.8 L38.6 69.8 L37.5 68.7 L37.1 67.6 L37.3 66.5 L38.2 65.0 L38.9 64.1ZM16.1 74.8 L17.0 73.7 L18.4 73.3 L19.7 73.3 L20.3 74.0 L19.4 75.7 L18.4 76.4 L17.5 76.8 L16.1 76.2 L15.9 75.3ZM38.0 76.2 L38.7 76.0 L40.4 76.6 L41.0 76.2 L41.3 78.4 L41.0 80.3 L39.9 81.0 L39.9 82.7 L40.0 83.9 L41.1 84.1 L42.3 84.3 L43.0 84.9 L44.1 84.9 L44.5 86.3 L44.5 87.1 L43.2 86.5 L42.4 85.8 L41.7 85.8 L41.5 84.7 L40.2 84.7 L39.3 85.2 L38.2 84.7 L38.0 83.8 L38.6 83.4 L38.0 83.0 L37.1 83.0 L36.7 81.2 L36.5 80.3 L37.5 80.6 L37.5 79.7 L37.6 78.1ZM37.5 85.6 L38.9 85.6 L39.7 86.9 L39.1 87.8 L38.4 86.9ZM31.7 94.8 L33.2 93.3 L35.1 91.3 L36.0 89.4 L36.3 90.9 L34.7 92.8 L33.0 94.2ZM44.8 87.2 L46.7 87.2 L47.2 88.9 L47.4 89.8 L46.1 89.4 L45.8 88.5ZM45.0 89.3 L46.1 89.6 L46.5 91.3 L45.8 91.6 L45.0 90.2ZM40.6 88.3 L42.6 88.9 L42.1 90.2 L40.6 90.9 L40.4 89.3ZM41.3 91.8 L42.8 90.2 L43.4 90.7 L42.8 92.9 L42.3 93.5 L41.3 92.4ZM43.2 92.8 L43.7 91.3 L44.3 89.6 L44.1 91.3ZM43.9 92.4 L44.8 91.6 L45.4 92.2 L44.6 92.6ZM42.8 87.2 L44.1 87.8 L43.5 88.3ZM46.9 92.2 L48.3 93.1 L48.7 95.1 L49.1 96.8 L48.3 98.6 L47.4 97.5 L47.2 97.0 L46.9 97.9 L47.4 99.4 L46.7 99.9 L45.4 99.2 L44.3 98.3 L44.6 96.8 L43.7 96.1 L43.2 96.6 L42.1 96.4 L40.8 97.5 L40.8 96.2 L41.5 95.3 L43.0 94.4 L43.9 95.3 L44.8 94.6 L45.8 94.4 L46.3 93.7ZM16.8 110.2 L16.6 108.4 L17.3 106.7 L19.0 107.1 L20.7 107.4 L21.0 105.8 L23.1 104.7 L24.5 103.6 L25.6 101.9 L27.3 101.0 L28.8 99.9 L29.7 98.8 L30.8 97.3 L31.7 97.9 L32.7 98.6 L32.7 99.5 L34.3 100.1 L35.4 100.6 L33.8 101.2 L34.1 102.1 L32.7 102.5 L32.3 103.8 L32.8 105.1 L33.2 106.2 L33.0 107.1 L34.9 108.4 L33.0 108.7 L32.3 110.2M36.7 110.2 L37.1 108.7 L38.6 107.8 L40.6 108.4 L42.4 108.5 L44.8 108.4 L46.1 107.3 L46.5 107.6 L45.2 109.5 L43.4 109.6 L40.6 109.3 L38.7 109.5 L37.5 110.2M50.7 110.2 L50.7 108.4 L51.7 106.3 L53.0 107.4 L51.7 108.5 L53.0 109.5 L52.0 109.6 L51.5 110.2M48.3 49.0 L49.6 48.7 L49.6 49.0 L48.5 49.2ZM53.9 47.6 L54.4 46.5 L54.2 47.2ZM70.5 39.9 L71.0 40.2 L71.2 40.8 L70.7 40.6Z" fill="none" stroke="#000" stroke-width="0.9" stroke-linejoin="round" stroke-linecap="round"/><path d="M51.5 61.7l0.7 -0.9M54.2 58.2l0.7 -0.6M44.6 65.4l0.7 -0.2M46.7 64.7l0.5 -0.0M56.3 54.4l0.6 -0.0M57.2 54.0l0.0 -0.6M82.5 85.6l0.5 -0.4M84.3 82.5l0.5 -0.4M84.5 79.5l0.5 -0.4M84.3 77.0l0.5 -0.4M63.7 96.6l0.2 -0.6M70.3 92.8l0.5 -0.2M95.6 96.6l0.5 -0.0M107.4 97.5l0.5 -0.0M116.2 100.5l0.5 -0.0M124.5 93.7l0.6 0.4M127.3 96.4l0.5 -0.0M131.4 97.2l0.6 -0.0M132.7 99.2l0.5 -0.2M134.5 107.4l0.2 -0.7M134.7 104.7l0.5 -0.4M123.4 89.4l0.5 0.0M77.9 60.6l0.5 -0.4M76.2 64.7l0.5 -0.2M73.4 49.4l0.5 -0.2M72.7 46.5l0.5 -0.2M7.4 108.4l0.9 -0.0M8.3 109.8l0.6 0.4M14.9 103.0l0.5 -0.2M11.4 104.5l0.5 -0.0M10.5 104.9l0.5 -0.0M40.4 72.7l0.5 -0.4M39.7 74.8l0.5 0.0M48.0 92.2l0.2 -0.6M36.9 88.2l0.6 -0.4M36.7 88.3l0.4 0.6M38.7 99.2l0.6 0.0M36.9 100.6l0.6 0.2M46.9 103.6l0.5 -0.4M49.4 102.5l0.5 -0.4M52.4 106.0l0.2 -0.6M31.9 95.5l0.5 0.4M40.6 87.2l0.4 0.6M41.5 87.4l0.5 0.0" fill="none" stroke="#222" stroke-width="0.75" stroke-linecap="round" opacity="0.75"/><path d="M84.5 29.4l1.1 -0.7M87.8 27.6l1.7 -0.9M92.1 25.7l0.9 -0.6M95.9 23.9l0.6 -0.4M98.0 21.7l0.5 -0.4M100.6 19.7l0.5 -0.4M103.0 17.8l0.7 -0.7M104.1 16.9l0.5 -0.2M122.1 9.2l0.9 0.7M124.7 9.7l0.6 0.4M134.5 13.0l0.9 -0.0M135.8 14.0l0.6 -0.0M143.0 14.7l0.7 0.4M145.8 15.6l0.7 0.4" fill="none" stroke="#000" stroke-width="1" stroke-linecap="round"/>
</svg>
<rect x="0" y="0" width="147.6" height="110.2" fill="none" stroke="#262626" stroke-width="1"/>
<path d="M0 91.83h-3.4" stroke="#262626" stroke-width="0.8"/>
<text x="-6.3" y="94.33" font-size="7.1" text-anchor="end">10°N</text>
<path d="M0 55.10h-3.4" stroke="#262626" stroke-width="0.8"/>
<text x="-6.3" y="57.60" font-size="7.1" text-anchor="end">30°N</text>
<path d="M0 18.37h-3.4" stroke="#262626" stroke-width="0.8"/>
<text x="-6.3" y="20.87" font-size="7.1" text-anchor="end">50°N</text>
<path d="M0.00 110.2v3.4" stroke="#262626" stroke-width="0.8"/>
<text x="0.00" y="122.80" font-size="7.1" text-anchor="middle">100°E</text>
<path d="M73.80 110.2v3.4" stroke="#262626" stroke-width="0.8"/>
<text x="73.80" y="122.80" font-size="7.1" text-anchor="middle">140°E</text>
<path d="M147.60 110.2v3.4" stroke="#262626" stroke-width="0.8"/>
<text x="147.60" y="122.80" font-size="7.1" text-anchor="middle">180°</text>
<text x="0.2" y="-1.7" font-size="9.0">(f) SEAS5(2001-2016)</text>
</g>
<g transform="translate(207.0,317.5)">
<svg x="0" y="0" width="147.6" height="110.2" overflow="hidden">
<rect x="64.58" y="0.00" width="9.82" height="9.78" fill="#f0eae9"/>
<rect x="73.80" y="0.00" width="9.82" height="9.78" fill="#f0eae9"/>
<rect x="83.02" y="0.00" width="9.82" height="9.78" fill="#f0eae9"/>
<rect x="92.25" y="0.00" width="9.82" height="9.78" fill="#f0eae9"/>
<rect x="101.47" y="0.00" width="9.82" height="9.78" fill="#f0eae9"/>
<rect x="110.70" y="0.00" width="9.82" height="9.78" fill="#f0eae9"/>
<rect x="119.92" y="0.00" width="9.82" height="9.78" fill="#f0eae9"/>
<rect x="129.15" y="0.00" width="9.82" height="9.78" fill="#f0eae9"/>
<rect x="138.38" y="0.00" width="9.82" height="9.78" fill="#eac2b5"/>
<rect x="64.58" y="9.18" width="9.82" height="9.78" fill="#f0eae9"/>
<rect x="73.80" y="9.18" width="9.82" height="9.78" fill="#f0eae9"/>
<rect x="83.02" y="9.18" width="9.82" height="9.78" fill="#f0eae9"/>
<rect x="92.25" y="9.18" width="9.82" height="9.78" fill="#f0eae9"/>
<rect x="101.47" y="9.18" width="9.82" height="9.78" fill="#f0eae9"/>
<rect x="110.70" y="9.18" width="9.82" height="9.78" fill="#f0eae9"/>
<rect x="119.92" y="9.18" width="9.82" height="9.78" fill="#f0eae9"/>
<rect x="129.15" y="9.18" width="9.82" height="9.78" fill="#f0eae9"/>
<rect x="138.38" y="9.18" width="9.82" height="9.78" fill="#f0eae9"/>
<rect x="46.12" y="18.37" width="9.82" height="9.78" fill="#f0eae9"/>
<rect x="55.35" y="18.37" width="9.82" height="9.78" fill="#f0eae9"/>
<rect x="64.58" y="18.37" width="9.82" height="9.78" fill="#f0eae9"/>
<rect x="73.80" y="18.37" width="9.82" height="9.78" fill="#f0eae9"/>
<rect x="83.02" y="18.37" width="9.82" height="9.78" fill="#f0eae9"/>
<rect x="92.25" y="18.37" width="9.82" height="9.78" fill="#f0eae9"/>
<rect x="101.47" y="18.37" width="9.82" height="9.78" fill="#f0eae9"/>
<rect x="110.70" y="18.37" width="9.82" height="9.78" fill="#f0eae9"/>
<rect x="119.92" y="18.37" width="9.82" height="9.78" fill="#f0eae9"/>
<rect x="129.15" y="18.37" width="9.82" height="9.78" fill="#f0eae9"/>
<rect x="138.38" y="18.37" width="9.82" height="9.78" fill="#f0eae9"/>
<rect x="27.67" y="27.55" width="9.82" height="9.78" fill="#f0eae9"/>
<rect x="36.90" y="27.55" width="9.82" height="9.78" fill="#f0eae9"/>
<rect x="46.12" y="27.55" width="9.82" height="9.78" fill="#f0eae9"/>
<rect x="55.35" y="27.55" width="9.82" height="9.78" fill="#f0eae9"/>
<rect x="64.58" y="27.55" width="9.82" height="9.78" fill="#f0eae9"/>
<rect x="73.80" y="27.55" width="9.82" height="9.78" fill="#f0eae9"/>
<rect x="83.02" y="27.55" width="9.82" height="9.78" fill="#f0eae9"/>
<rect x="92.25" y="27.55" width="9.82" height="9.78" fill="#f0eae9"/>
<rect x="101.47" y="27.55" width="9.82" height="9.78" fill="#f0eae9"/>
<rect x="110.70" y="27.55" width="9.82" height="9.78" fill="#f0eae9"/>
<rect x="119.92" y="27.55" width="9.82" height="9.78" fill="#f0eae9"/>
<rect x="129.15" y="27.55" width="9.82" height="9.78" fill="#f0eae9"/>
<rect x="138.38" y="27.55" width="9.82" height="9.78" fill="#f0eae9"/>
<rect x="18.45" y="36.73" width="9.82" height="9.78" fill="#f0eae9"/>
<rect x="27.67" y="36.73" width="9.82" height="9.78" fill="#f0eae9"/>
<rect x="36.90" y="36.73" width="9.82" height="9.78" fill="#f0eae9"/>
<rect x="46.12" y="36.73" width="9.82" height="9.78" fill="#f0eae9"/>
<rect x="55.35" y="36.73" width="9.82" height="9.78" fill="#f0eae9"/>
<rect x="64.58" y="36.73" width="9.82" height="9.78" fill="#f0eae9"/>
<rect x="73.80" y="36.73" width="9.82" height="9.78" fill="#e6b5a4"/>
<rect x="83.02" y="36.73" width="9.82" height="9.78" fill="#e6b5a4"/>
<rect x="92.25" y="36.73" width="9.82" height="9.78" fill="#e6b5a4"/>
<rect x="101.47" y="36.73" width="9.82" height="9.78" fill="#e6b5a4"/>
<rect x="110.70" y="36.73" width="9.82" height="9.78" fill="#f0eae9"/>
<rect x="119.92" y="36.73" width="9.82" height="9.78" fill="#f0eae9"/>
<rect x="129.15" y="36.73" width="9.82" height="9.78" fill="#f0eae9"/>
<rect x="138.38" y="36.73" width="9.82" height="9.78" fill="#f0eae9"/>
<rect x="18.45" y="45.92" width="9.82" height="9.78" fill="#f0eae9"/>
<rect x="27.67" y="45.92" width="9.82" height="9.78" fill="#f0eae9"/>
<rect x="36.90" y="45.92" width="9.82" height="9.78" fill="#e6b5a4"/>
<rect x="46.12" y="45.92" width="9.82" height="9.78" fill="#e6b5a4"/>
<rect x="55.35" y="45.92" width="9.82" height="9.78" fill="#e6b5a4"/>
<rect x="64.58" y="45.92" width="9.82" height="9.78" fill="#e6b5a4"/>
<rect x="73.80" y="45.92" width="9.82" height="9.78" fill="#da8c70"/>
<rect x="83.02" y="45.92" width="9.82" height="9.78" fill="#da8c70"/>
<rect x="92.25" y="45.92" width="9.82" height="9.78" fill="#e6b5a4"/>
<rect x="101.47" y="45.92" width="9.82" height="9.78" fill="#e6b5a4"/>
<rect x="110.70" y="45.92" width="9.82" height="9.78" fill="#e6b5a4"/>
<rect x="119.92" y="45.92" width="9.82" height="9.78" fill="#e6b5a4"/>
<rect x="129.15" y="45.92" width="9.82" height="9.78" fill="#f0eae9"/>
<rect x="138.38" y="45.92" width="9.82" height="9.78" fill="#eac2b5"/>
<rect x="18.45" y="55.10" width="9.82" height="9.78" fill="#f0eae9"/>
<rect x="27.67" y="55.10" width="9.82" height="9.78" fill="#e6b5a4"/>
<rect x="36.90" y="55.10" width="9.82" height="9.78" fill="#de9a82"/>
<rect x="46.12" y="55.10" width="9.82" height="9.78" fill="#de9a82"/>
<rect x="55.35" y="55.10" width="9.82" height="9.78" fill="#cd6745"/>
<rect x="64.58" y="55.10" width="9.82" height="9.78" fill="#da8c70"/>
<rect x="73.80" y="55.10" width="9.82" height="9.78" fill="#da8c70"/>
<rect x="83.02" y="55.10" width="9.82" height="9.78" fill="#da8c70"/>
<rect x="92.25" y="55.10" width="9.82" height="9.78" fill="#da8c70"/>
<rect x="101.47" y="55.10" width="9.82" height="9.78" fill="#da8c70"/>
<rect x="110.70" y="55.10" width="9.82" height="9.78" fill="#da8c70"/>
<rect x="119.92" y="55.10" width="9.82" height="9.78" fill="#da8c70"/>
<rect x="129.15" y="55.10" width="9.82" height="9.78" fill="#e6b5a4"/>
<rect x="138.38" y="55.10" width="9.82" height="9.78" fill="#e6b5a4"/>
<rect x="0.00" y="64.28" width="9.82" height="9.78" fill="#f0eae9"/>
<rect x="9.22" y="64.28" width="9.82" height="9.78" fill="#f0eae9"/>
<rect x="18.45" y="64.28" width="9.82" height="9.78" fill="#e6b5a4"/>
<rect x="27.67" y="64.28" width="9.82" height="9.78" fill="#de9a82"/>
<rect x="36.90" y="64.28" width="9.82" height="9.78" fill="#da8c70"/>
<rect x="46.12" y="64.28" width="9.82" height="9.78" fill="#b5252b"/>
<rect x="55.35" y="64.28" width="9.82" height="9.78" fill="#b5252b"/>
<rect x="64.58" y="64.28" width="9.82" height="9.78" fill="#cd6745"/>
<rect x="73.80" y="64.28" width="9.82" height="9.78" fill="#cd6745"/>
<rect x="83.02" y="64.28" width="9.82" height="9.78" fill="#cd6745"/>
<rect x="92.25" y="64.28" width="9.82" height="9.78" fill="#cd6745"/>
<rect x="101.47" y="64.28" width="9.82" height="9.78" fill="#da8c70"/>
<rect x="110.70" y="64.28" width="9.82" height="9.78" fill="#da8c70"/>
<rect x="119.92" y="64.28" width="9.82" height="9.78" fill="#da8c70"/>
<rect x="129.15" y="64.28" width="9.82" height="9.78" fill="#e6b5a4"/>
<rect x="138.38" y="64.28" width="9.82" height="9.78" fill="#e6b5a4"/>
<rect x="0.00" y="73.47" width="9.82" height="9.78" fill="#f0eae9"/>
<rect x="9.22" y="73.47" width="9.82" height="9.78" fill="#e6b5a4"/>
<rect x="18.45" y="73.47" width="9.82" height="9.78" fill="#de9a82"/>
<rect x="27.67" y="73.47" width="9.82" height="9.78" fill="#da8c70"/>
<rect x="36.90" y="73.47" width="9.82" height="9.78" fill="#da8c70"/>
<rect x="46.12" y="73.47" width="9.82" height="9.78" fill="#cd6745"/>
<rect x="55.35" y="73.47" width="9.82" height="9.78" fill="#b5252b"/>
<rect x="64.58" y="73.47" width="9.82" height="9.78" fill="#cd6745"/>
<rect x="73.80" y="73.47" width="9.82" height="9.78" fill="#cd6745"/>
<rect x="83.02" y="73.47" width="9.82" height="9.78" fill="#da8c70"/>
<rect x="92.25" y="73.47" width="9.82" height="9.78" fill="#da8c70"/>
<rect x="101.47" y="73.47" width="9.82" height="9.78" fill="#da8c70"/>
<rect x="110.70" y="73.47" width="9.82" height="9.78" fill="#da8c70"/>
<rect x="119.92" y="73.47" width="9.82" height="9.78" fill="#da8c70"/>
<rect x="129.15" y="73.47" width="9.82" height="9.78" fill="#da8c70"/>
<rect x="138.38" y="73.47" width="9.82" height="9.78" fill="#da8c70"/>
<rect x="0.00" y="82.65" width="9.82" height="9.78" fill="#f0eae9"/>
<rect x="9.22" y="82.65" width="9.82" height="9.78" fill="#f0eae9"/>
<rect x="18.45" y="82.65" width="9.82" height="9.78" fill="#e6b5a4"/>
<rect x="27.67" y="82.65" width="9.82" height="9.78" fill="#e3a893"/>
<rect x="36.90" y="82.65" width="9.82" height="9.78" fill="#e3a893"/>
<rect x="46.12" y="82.65" width="9.82" height="9.78" fill="#de9a82"/>
<rect x="55.35" y="82.65" width="9.82" height="9.78" fill="#de9a82"/>
<rect x="64.58" y="82.65" width="9.82" height="9.78" fill="#da8c70"/>
<rect x="73.80" y="82.65" width="9.82" height="9.78" fill="#da8c70"/>
<rect x="83.02" y="82.65" width="9.82" height="9.78" fill="#eac2b5"/>
<rect x="92.25" y="82.65" width="9.82" height="9.78" fill="#de9a82"/>
<rect x="101.47" y="82.65" width="9.82" height="9.78" fill="#e6b5a4"/>
<rect x="110.70" y="82.65" width="9.82" height="9.78" fill="#e6b5a4"/>
<rect x="119.92" y="82.65" width="9.82" height="9.78" fill="#e6b5a4"/>
<rect x="129.15" y="82.65" width="9.82" height="9.78" fill="#e6b5a4"/>
<rect x="138.38" y="82.65" width="9.82" height="9.78" fill="#e6b5a4"/>
<rect x="0.00" y="91.83" width="9.82" height="9.78" fill="#f0eae9"/>
<rect x="9.22" y="91.83" width="9.82" height="9.78" fill="#f0eae9"/>
<rect x="18.45" y="91.83" width="9.82" height="9.78" fill="#f0eae9"/>
<rect x="27.67" y="91.83" width="9.82" height="9.78" fill="#f0eae9"/>
<rect x="36.90" y="91.83" width="9.82" height="9.78" fill="#f0eae9"/>
<rect x="46.12" y="91.83" width="9.82" height="9.78" fill="#f0eae9"/>
<rect x="55.35" y="91.83" width="9.82" height="9.78" fill="#f0eae9"/>
<rect x="64.58" y="91.83" width="9.82" height="9.78" fill="#f0eae9"/>
<rect x="73.80" y="91.83" width="9.82" height="9.78" fill="#f0eae9"/>
<rect x="83.02" y="91.83" width="9.82" height="9.78" fill="#f0eae9"/>
<rect x="92.25" y="91.83" width="9.82" height="9.78" fill="#f0eae9"/>
<rect x="101.47" y="91.83" width="9.82" height="9.78" fill="#f0eae9"/>
<rect x="110.70" y="91.83" width="9.82" height="9.78" fill="#f0eae9"/>
<rect x="119.92" y="91.83" width="9.82" height="9.78" fill="#f0eae9"/>
<rect x="129.15" y="91.83" width="9.82" height="9.78" fill="#f0eae9"/>
<rect x="138.38" y="91.83" width="9.82" height="9.78" fill="#f0eae9"/>
<rect x="101.47" y="101.02" width="9.82" height="9.78" fill="#f0eae9"/>
<rect x="110.70" y="101.02" width="9.82" height="9.78" fill="#f0eae9"/>
<rect x="119.92" y="101.02" width="9.82" height="9.78" fill="#f0eae9"/>
<rect x="129.15" y="101.02" width="9.82" height="9.78" fill="#f0eae9"/>
<rect x="138.38" y="101.02" width="9.82" height="9.78" fill="#f0eae9"/>
<path d="M7.0 110.2 L6.3 109.3 L5.4 108.7 L4.1 107.6 L2.6 107.1 L1.8 106.2 L0.7 106.0 L0.0 105.1M0.0 98.4 L0.6 99.9 L0.7 101.2 L1.1 102.5 L1.7 103.6 L2.4 104.9 L3.5 105.8 L4.8 106.5 L6.3 107.4 L6.6 107.8 L7.6 107.6 L7.7 106.0 L6.5 104.9 L6.3 103.6 L6.3 102.3 L5.7 100.6 L4.6 99.4 L3.9 98.8 L3.0 97.7 L1.8 97.5 L0.9 96.8 L0.4 95.0 L0.0 94.0M0.0 87.8 L0.0 85.8 L0.9 85.4 L1.8 85.8 L1.7 87.1 L3.1 86.9 L4.2 87.8 L5.4 88.7 L5.7 90.2 L6.6 90.9 L8.1 91.1 L9.0 91.8 L8.9 94.4 L9.8 93.9 L11.4 92.9 L12.5 91.3 L13.5 90.9 L14.8 90.5 L16.4 89.4 L17.0 88.3 L17.2 86.5 L17.0 84.9 L16.4 82.1 L15.3 80.6 L14.0 79.5 L12.4 77.7 L11.8 76.6 L10.5 75.5 L10.9 73.7 L12.2 72.7 L12.5 71.8 L14.2 71.1 L15.5 70.5 L16.8 70.7 L17.7 70.3 L18.3 72.7 L19.0 72.9 L19.4 72.4 L19.2 71.3 L20.3 70.7 L22.1 70.2 L24.0 69.8 L25.1 68.5 L26.2 69.2 L27.7 68.5 L29.5 68.1 L31.2 67.0 L32.8 66.1 L33.6 65.0 L34.9 64.3 L36.0 63.2 L36.3 61.9 L37.3 60.6 L38.4 59.0 L39.7 57.9 L40.4 56.6 L40.4 55.3 L39.1 54.5 L38.4 54.7 L39.5 53.8 L40.4 53.4 L40.4 52.2 L38.7 51.4 L39.5 50.5 L38.4 49.0 L37.5 47.4 L35.4 46.1 L35.8 45.2 L37.3 44.1 L38.4 43.2 L39.9 42.6 L41.5 42.4 L41.7 41.5 L39.7 41.3 L38.4 40.8 L36.5 41.7 L35.1 41.7 L34.9 40.4 L32.8 39.3 L32.7 38.4 L33.9 38.4 L35.4 37.8 L36.7 36.7 L38.6 35.4 L40.2 35.1 L41.0 35.8 L39.7 37.5 L39.1 38.9 L40.2 38.6 L42.4 37.5 L44.6 36.9 L45.8 37.5 L46.7 37.8 L46.1 39.3 L45.8 40.2 L46.9 41.0 L48.2 41.0 L49.3 41.9 L48.9 43.0 L48.9 44.3 L48.7 45.9 L48.5 46.8 L49.8 47.0 L51.1 46.3 L52.8 46.1 L53.9 45.5 L54.4 44.1 L54.2 42.2 L53.3 40.8 L52.2 39.3 L50.7 38.0 L50.7 37.1 L52.2 36.5 L53.9 35.4 L54.8 34.2 L55.4 33.1 L56.6 32.5 L57.6 31.6 L58.9 31.0 L59.6 30.7 L61.1 31.8 L62.7 31.2 L64.8 30.1 L66.1 28.7 L67.9 27.2 L69.6 25.7 L70.8 23.9 L72.3 22.4 L74.2 21.1 L74.5 19.3 L74.9 17.4 L75.6 15.6 L76.4 14.3 L76.0 12.7 L74.4 12.5 L73.4 10.7 L71.4 10.5 L69.6 11.2 L68.6 11.8 L67.7 9.9 L65.1 9.6 L66.1 8.8 L68.6 7.0 L71.0 5.5 L73.8 3.7 L75.1 2.2 L77.9 1.5 L79.7 1.1 L83.9 1.1 L86.7 1.3 L89.5 1.3 L90.8 0.6 L93.2 0.7 L94.6 1.8 L96.5 1.8 L98.3 1.5 L100.2 0.9 L101.8 1.3 L101.3 0.0M113.1 0.0 L110.3 1.8 L107.0 3.5 L104.8 5.3 L102.8 7.3 L102.6 9.2 L103.0 11.0 L103.5 12.9 L104.2 14.7 L104.6 16.7 L106.1 15.6 L107.6 14.3 L108.1 12.9 L110.7 12.5 L110.5 11.0 L113.8 9.9 L114.6 9.6 L113.8 8.6 L114.6 7.2 L116.8 7.0 L115.9 6.1 L116.6 4.6 L115.3 4.0 L116.8 2.8 L117.7 1.8 L119.2 0.2 L119.6 0.0M121.8 0.0 L122.3 0.4 L123.2 0.0M128.8 0.0 L129.7 0.2 L130.1 0.0M77.5 25.7 L77.3 23.9 L77.7 22.0 L77.5 20.2 L77.9 18.4 L77.7 16.5 L76.9 14.7 L77.3 12.9 L78.0 11.9 L78.8 10.5 L79.3 11.9 L79.9 13.8 L79.7 15.6 L80.6 17.4 L81.4 19.5 L82.5 20.8 L80.8 19.8 L79.2 20.0 L78.6 22.0 L79.3 23.5 L80.3 24.2 L80.3 25.5 L79.0 24.6 L78.2 24.6ZM74.2 34.2 L73.4 32.7 L74.4 31.2 L76.2 30.7 L76.8 28.8 L77.1 27.0 L77.5 26.6 L79.2 28.1 L80.8 29.0 L82.7 29.6 L83.6 28.8 L83.2 29.9 L84.5 30.7 L83.0 31.2 L81.2 31.4 L79.9 32.5 L79.7 33.1 L78.4 32.5 L77.1 32.0 L75.6 32.5 L74.5 32.3 L74.7 33.1 L76.0 33.4 L75.1 34.0ZM76.4 34.2 L76.6 35.8 L77.5 37.5 L76.8 39.7 L75.6 40.0 L75.5 42.2 L74.9 43.5 L75.3 44.6 L74.4 45.5 L73.6 46.1 L73.6 45.0 L73.1 45.5 L72.1 45.7 L71.6 46.7 L71.0 45.9 L70.5 46.7 L68.8 46.7 L68.1 45.9 L68.1 47.2 L67.0 47.9 L66.1 48.9 L64.8 47.9 L64.9 47.2 L64.6 46.7 L62.7 46.7 L60.9 47.2 L59.4 47.9 L57.2 47.9 L57.0 47.2 L57.9 46.8 L59.6 45.5 L61.1 44.8 L63.1 44.8 L65.1 44.8 L66.2 44.6 L66.6 43.7 L67.7 42.6 L67.9 41.5 L68.8 41.3 L68.3 42.4 L69.0 42.6 L70.5 41.9 L71.6 40.8 L72.7 40.0 L73.4 38.8 L73.8 37.5 L73.4 36.9 L73.8 35.8 L74.4 34.7 L75.1 35.1 L75.8 34.7 L75.5 34.0ZM60.1 47.8 L60.9 47.8 L62.0 47.2 L63.5 47.2 L64.0 48.1 L63.1 49.0 L62.0 48.7 L60.9 50.0 L60.0 49.6 L59.8 48.7ZM57.0 47.9 L58.5 48.5 L58.9 49.2 L58.9 50.3 L57.9 52.2 L57.2 52.9 L56.6 53.3 L55.7 52.7 L55.7 51.4 L56.5 50.3 L55.7 50.1 L55.0 50.1 L54.8 49.2 L55.4 48.7 L56.1 48.3ZM39.7 63.7 L40.6 64.3 L40.2 65.2 L39.9 66.3 L39.5 67.8 L38.6 69.8 L37.5 68.7 L37.1 67.6 L37.3 66.5 L38.2 65.0 L38.9 64.1ZM16.1 74.8 L17.0 73.7 L18.4 73.3 L19.7 73.3 L20.3 74.0 L19.4 75.7 L18.4 76.4 L17.5 76.8 L16.1 76.2 L15.9 75.3ZM38.0 76.2 L38.7 76.0 L40.4 76.6 L41.0 76.2 L41.3 78.4 L41.0 80.3 L39.9 81.0 L39.9 82.7 L40.0 83.9 L41.1 84.1 L42.3 84.3 L43.0 84.9 L44.1 84.9 L44.5 86.3 L44.5 87.1 L43.2 86.5 L42.4 85.8 L41.7 85.8 L41.5 84.7 L40.2 84.7 L39.3 85.2 L38.2 84.7 L38.0 83.8 L38.6 83.4 L38.0 83.0 L37.1 83.0 L36.7 81.2 L36.5 80.3 L37.5 80.6 L37.5 79.7 L37.6 78.1ZM37.5 85.6 L38.9 85.6 L39.7 86.9 L39.1 87.8 L38.4 86.9ZM31.7 94.8 L33.2 93.3 L35.1 91.3 L36.0 89.4 L36.3 90.9 L34.7 92.8 L33.0 94.2ZM44.8 87.2 L46.7 87.2 L47.2 88.9 L47.4 89.8 L46.1 89.4 L45.8 88.5ZM45.0 89.3 L46.1 89.6 L46.5 91.3 L45.8 91.6 L45.0 90.2ZM40.6 88.3 L42.6 88.9 L42.1 90.2 L40.6 90.9 L40.4 89.3ZM41.3 91.8 L42.8 90.2 L43.4 90.7 L42.8 92.9 L42.3 93.5 L41.3 92.4ZM43.2 92.8 L43.7 91.3 L44.3 89.6 L44.1 91.3ZM43.9 92.4 L44.8 91.6 L45.4 92.2 L44.6 92.6ZM42.8 87.2 L44.1 87.8 L43.5 88.3ZM46.9 92.2 L48.3 93.1 L48.7 95.1 L49.1 96.8 L48.3 98.6 L47.4 97.5 L47.2 97.0 L46.9 97.9 L47.4 99.4 L46.7 99.9 L45.4 99.2 L44.3 98.3 L44.6 96.8 L43.7 96.1 L43.2 96.6 L42.1 96.4 L40.8 97.5 L40.8 96.2 L41.5 95.3 L43.0 94.4 L43.9 95.3 L44.8 94.6 L45.8 94.4 L46.3 93.7ZM16.8 110.2 L16.6 108.4 L17.3 106.7 L19.0 107.1 L20.7 107.4 L21.0 105.8 L23.1 104.7 L24.5 103.6 L25.6 101.9 L27.3 101.0 L28.8 99.9 L29.7 98.8 L30.8 97.3 L31.7 97.9 L32.7 98.6 L32.7 99.5 L34.3 100.1 L35.4 100.6 L33.8 101.2 L34.1 102.1 L32.7 102.5 L32.3 103.8 L32.8 105.1 L33.2 106.2 L33.0 107.1 L34.9 108.4 L33.0 108.7 L32.3 110.2M36.7 110.2 L37.1 108.7 L38.6 107.8 L40.6 108.4 L42.4 108.5 L44.8 108.4 L46.1 107.3 L46.5 107.6 L45.2 109.5 L43.4 109.6 L40.6 109.3 L38.7 109.5 L37.5 110.2M50.7 110.2 L50.7 108.4 L51.7 106.3 L53.0 107.4 L51.7 108.5 L53.0 109.5 L52.0 109.6 L51.5 110.2M48.3 49.0 L49.6 48.7 L49.6 49.0 L48.5 49.2ZM53.9 47.6 L54.4 46.5 L54.2 47.2ZM70.5 39.9 L71.0 40.2 L71.2 40.8 L70.7 40.6Z" fill="none" stroke="#000" stroke-width="0.9" stroke-linejoin="round" stroke-linecap="round"/><path d="M51.5 61.7l0.7 -0.9M54.2 58.2l0.7 -0.6M44.6 65.4l0.7 -0.2M46.7 64.7l0.5 -0.0M56.3 54.4l0.6 -0.0M57.2 54.0l0.0 -0.6M82.5 85.6l0.5 -0.4M84.3 82.5l0.5 -0.4M84.5 79.5l0.5 -0.4M84.3 77.0l0.5 -0.4M63.7 96.6l0.2 -0.6M70.3 92.8l0.5 -0.2M95.6 96.6l0.5 -0.0M107.4 97.5l0.5 -0.0M116.2 100.5l0.5 -0.0M124.5 93.7l0.6 0.4M127.3 96.4l0.5 -0.0M131.4 97.2l0.6 -0.0M132.7 99.2l0.5 -0.2M134.5 107.4l0.2 -0.7M134.7 104.7l0.5 -0.4M123.4 89.4l0.5 0.0M77.9 60.6l0.5 -0.4M76.2 64.7l0.5 -0.2M73.4 49.4l0.5 -0.2M72.7 46.5l0.5 -0.2M7.4 108.4l0.9 -0.0M8.3 109.8l0.6 0.4M14.9 103.0l0.5 -0.2M11.4 104.5l0.5 -0.0M10.5 104.9l0.5 -0.0M40.4 72.7l0.5 -0.4M39.7 74.8l0.5 0.0M48.0 92.2l0.2 -0.6M36.9 88.2l0.6 -0.4M36.7 88.3l0.4 0.6M38.7 99.2l0.6 0.0M36.9 100.6l0.6 0.2M46.9 103.6l0.5 -0.4M49.4 102.5l0.5 -0.4M52.4 106.0l0.2 -0.6M31.9 95.5l0.5 0.4M40.6 87.2l0.4 0.6M41.5 87.4l0.5 0.0" fill="none" stroke="#222" stroke-width="0.75" stroke-linecap="round" opacity="0.75"/><path d="M84.5 29.4l1.1 -0.7M87.8 27.6l1.7 -0.9M92.1 25.7l0.9 -0.6M95.9 23.9l0.6 -0.4M98.0 21.7l0.5 -0.4M100.6 19.7l0.5 -0.4M103.0 17.8l0.7 -0.7M104.1 16.9l0.5 -0.2M122.1 9.2l0.9 0.7M124.7 9.7l0.6 0.4M134.5 13.0l0.9 -0.0M135.8 14.0l0.6 -0.0M143.0 14.7l0.7 0.4M145.8 15.6l0.7 0.4" fill="none" stroke="#000" stroke-width="1" stroke-linecap="round"/>
</svg>
<rect x="0" y="0" width="147.6" height="110.2" fill="none" stroke="#262626" stroke-width="1"/>
<path d="M0 91.83h-3.4" stroke="#262626" stroke-width="0.8"/>
<text x="-6.3" y="94.33" font-size="7.1" text-anchor="end">10°N</text>
<path d="M0 55.10h-3.4" stroke="#262626" stroke-width="0.8"/>
<text x="-6.3" y="57.60" font-size="7.1" text-anchor="end">30°N</text>
<path d="M0 18.37h-3.4" stroke="#262626" stroke-width="0.8"/>
<text x="-6.3" y="20.87" font-size="7.1" text-anchor="end">50°N</text>
<path d="M0.00 110.2v3.4" stroke="#262626" stroke-width="0.8"/>
<text x="0.00" y="122.80" font-size="7.1" text-anchor="middle">100°E</text>
<path d="M73.80 110.2v3.4" stroke="#262626" stroke-width="0.8"/>
<text x="73.80" y="122.80" font-size="7.1" text-anchor="middle">140°E</text>
<path d="M147.60 110.2v3.4" stroke="#262626" stroke-width="0.8"/>
<text x="147.60" y="122.80" font-size="7.1" text-anchor="middle">180°</text>
<text x="0.2" y="-1.7" font-size="9.0">(g) GloSea5(2001-2016)</text>
</g>
<g transform="translate(384.2,317.5)">
<svg x="0" y="0" width="147.6" height="110.2" overflow="hidden">
<rect x="64.58" y="0.00" width="9.82" height="9.78" fill="#f0eae9"/>
<rect x="73.80" y="0.00" width="9.82" height="9.78" fill="#f0eae9"/>
<rect x="83.02" y="0.00" width="9.82" height="9.78" fill="#f0eae9"/>
<rect x="92.25" y="0.00" width="9.82" height="9.78" fill="#f0eae9"/>
<rect x="101.47" y="0.00" width="9.82" height="9.78" fill="#f0eae9"/>
<rect x="110.70" y="0.00" width="9.82" height="9.78" fill="#f0eae9"/>
<rect x="119.92" y="0.00" width="9.82" height="9.78" fill="#f0eae9"/>
<rect x="129.15" y="0.00" width="9.82" height="9.78" fill="#f0eae9"/>
<rect x="138.38" y="0.00" width="9.82" height="9.78" fill="#f0eae9"/>
<rect x="64.58" y="9.18" width="9.82" height="9.78" fill="#f0eae9"/>
<rect x="73.80" y="9.18" width="9.82" height="9.78" fill="#f0eae9"/>
<rect x="83.02" y="9.18" width="9.82" height="9.78" fill="#f0eae9"/>
<rect x="92.25" y="9.18" width="9.82" height="9.78" fill="#f0eae9"/>
<rect x="101.47" y="9.18" width="9.82" height="9.78" fill="#f0eae9"/>
<rect x="110.70" y="9.18" width="9.82" height="9.78" fill="#f0eae9"/>
<rect x="119.92" y="9.18" width="9.82" height="9.78" fill="#f0eae9"/>
<rect x="129.15" y="9.18" width="9.82" height="9.78" fill="#f0eae9"/>
<rect x="138.38" y="9.18" width="9.82" height="9.78" fill="#f0eae9"/>
<rect x="36.90" y="18.37" width="9.82" height="9.78" fill="#f0eae9"/>
<rect x="46.12" y="18.37" width="9.82" height="9.78" fill="#f0eae9"/>
<rect x="55.35" y="18.37" width="9.82" height="9.78" fill="#f0eae9"/>
<rect x="64.58" y="18.37" width="9.82" height="9.78" fill="#f0eae9"/>
<rect x="73.80" y="18.37" width="9.82" height="9.78" fill="#f0eae9"/>
<rect x="83.02" y="18.37" width="9.82" height="9.78" fill="#f0eae9"/>
<rect x="92.25" y="18.37" width="9.82" height="9.78" fill="#f0eae9"/>
<rect x="101.47" y="18.37" width="9.82" height="9.78" fill="#f0eae9"/>
<rect x="110.70" y="18.37" width="9.82" height="9.78" fill="#f0eae9"/>
<rect x="119.92" y="18.37" width="9.82" height="9.78" fill="#f0eae9"/>
<rect x="129.15" y="18.37" width="9.82" height="9.78" fill="#f0eae9"/>
<rect x="138.38" y="18.37" width="9.82" height="9.78" fill="#f0eae9"/>
<rect x="18.45" y="27.55" width="9.82" height="9.78" fill="#f0eae9"/>
<rect x="27.67" y="27.55" width="9.82" height="9.78" fill="#f0eae9"/>
<rect x="36.90" y="27.55" width="9.82" height="9.78" fill="#f0eae9"/>
<rect x="46.12" y="27.55" width="9.82" height="9.78" fill="#f0eae9"/>
<rect x="55.35" y="27.55" width="9.82" height="9.78" fill="#f0eae9"/>
<rect x="64.58" y="27.55" width="9.82" height="9.78" fill="#f0eae9"/>
<rect x="73.80" y="27.55" width="9.82" height="9.78" fill="#f0eae9"/>
<rect x="83.02" y="27.55" width="9.82" height="9.78" fill="#f0eae9"/>
<rect x="92.25" y="27.55" width="9.82" height="9.78" fill="#f0eae9"/>
<rect x="101.47" y="27.55" width="9.82" height="9.78" fill="#f0eae9"/>
<rect x="110.70" y="27.55" width="9.82" height="9.78" fill="#f0eae9"/>
<rect x="119.92" y="27.55" width="9.82" height="9.78" fill="#f0eae9"/>
<rect x="129.15" y="27.55" width="9.82" height="9.78" fill="#f0eae9"/>
<rect x="138.38" y="27.55" width="9.82" height="9.78" fill="#f0eae9"/>
<rect x="18.45" y="36.73" width="9.82" height="9.78" fill="#f0eae9"/>
<rect x="27.67" y="36.73" width="9.82" height="9.78" fill="#f0eae9"/>
<rect x="36.90" y="36.73" width="9.82" height="9.78" fill="#f0eae9"/>
<rect x="46.12" y="36.73" width="9.82" height="9.78" fill="#f0eae9"/>
<rect x="55.35" y="36.73" width="9.82" height="9.78" fill="#f0eae9"/>
<rect x="64.58" y="36.73" width="9.82" height="9.78" fill="#f0eae9"/>
<rect x="73.80" y="36.73" width="9.82" height="9.78" fill="#e6b5a4"/>
<rect x="83.02" y="36.73" width="9.82" height="9.78" fill="#e6b5a4"/>
<rect x="92.25" y="36.73" width="9.82" height="9.78" fill="#e6b5a4"/>
<rect x="101.47" y="36.73" width="9.82" height="9.78" fill="#e6b5a4"/>
<rect x="110.70" y="36.73" width="9.82" height="9.78" fill="#e6b5a4"/>
<rect x="119.92" y="36.73" width="9.82" height="9.78" fill="#f0eae9"/>
<rect x="129.15" y="36.73" width="9.82" height="9.78" fill="#f0eae9"/>
<rect x="138.38" y="36.73" width="9.82" height="9.78" fill="#f0eae9"/>
<rect x="18.45" y="45.92" width="9.82" height="9.78" fill="#f0eae9"/>
<rect x="27.67" y="45.92" width="9.82" height="9.78" fill="#f0eae9"/>
<rect x="36.90" y="45.92" width="9.82" height="9.78" fill="#e6b5a4"/>
<rect x="46.12" y="45.92" width="9.82" height="9.78" fill="#e6b5a4"/>
<rect x="55.35" y="45.92" width="9.82" height="9.78" fill="#e6b5a4"/>
<rect x="64.58" y="45.92" width="9.82" height="9.78" fill="#e6b5a4"/>
<rect x="73.80" y="45.92" width="9.82" height="9.78" fill="#de9a82"/>
<rect x="83.02" y="45.92" width="9.82" height="9.78" fill="#e6b5a4"/>
<rect x="92.25" y="45.92" width="9.82" height="9.78" fill="#e6b5a4"/>
<rect x="101.47" y="45.92" width="9.82" height="9.78" fill="#e6b5a4"/>
<rect x="110.70" y="45.92" width="9.82" height="9.78" fill="#e6b5a4"/>
<rect x="119.92" y="45.92" width="9.82" height="9.78" fill="#e6b5a4"/>
<rect x="129.15" y="45.92" width="9.82" height="9.78" fill="#e6b5a4"/>
<rect x="138.38" y="45.92" width="9.82" height="9.78" fill="#e6b5a4"/>
<rect x="9.22" y="55.10" width="9.82" height="9.78" fill="#f0eae9"/>
<rect x="18.45" y="55.10" width="9.82" height="9.78" fill="#f0eae9"/>
<rect x="27.67" y="55.10" width="9.82" height="9.78" fill="#e6b5a4"/>
<rect x="36.90" y="55.10" width="9.82" height="9.78" fill="#de9a82"/>
<rect x="46.12" y="55.10" width="9.82" height="9.78" fill="#de9a82"/>
<rect x="55.35" y="55.10" width="9.82" height="9.78" fill="#cd6745"/>
<rect x="64.58" y="55.10" width="9.82" height="9.78" fill="#da8c70"/>
<rect x="73.80" y="55.10" width="9.82" height="9.78" fill="#da8c70"/>
<rect x="83.02" y="55.10" width="9.82" height="9.78" fill="#de9a82"/>
<rect x="92.25" y="55.10" width="9.82" height="9.78" fill="#de9a82"/>
<rect x="101.47" y="55.10" width="9.82" height="9.78" fill="#de9a82"/>
<rect x="110.70" y="55.10" width="9.82" height="9.78" fill="#de9a82"/>
<rect x="119.92" y="55.10" width="9.82" height="9.78" fill="#e6b5a4"/>
<rect x="129.15" y="55.10" width="9.82" height="9.78" fill="#e6b5a4"/>
<rect x="138.38" y="55.10" width="9.82" height="9.78" fill="#e6b5a4"/>
<rect x="0.00" y="64.28" width="9.82" height="9.78" fill="#f0eae9"/>
<rect x="9.22" y="64.28" width="9.82" height="9.78" fill="#f0eae9"/>
<rect x="18.45" y="64.28" width="9.82" height="9.78" fill="#e6b5a4"/>
<rect x="27.67" y="64.28" width="9.82" height="9.78" fill="#de9a82"/>
<rect x="36.90" y="64.28" width="9.82" height="9.78" fill="#de9a82"/>
<rect x="46.12" y="64.28" width="9.82" height="9.78" fill="#cd6745"/>
<rect x="55.35" y="64.28" width="9.82" height="9.78" fill="#b5252b"/>
<rect x="64.58" y="64.28" width="9.82" height="9.78" fill="#b82c2c"/>
<rect x="73.80" y="64.28" width="9.82" height="9.78" fill="#cd6745"/>
<rect x="83.02" y="64.28" width="9.82" height="9.78" fill="#de9a82"/>
<rect x="92.25" y="64.28" width="9.82" height="9.78" fill="#de9a82"/>
<rect x="101.47" y="64.28" width="9.82" height="9.78" fill="#de9a82"/>
<rect x="110.70" y="64.28" width="9.82" height="9.78" fill="#de9a82"/>
<rect x="119.92" y="64.28" width="9.82" height="9.78" fill="#de9a82"/>
<rect x="129.15" y="64.28" width="9.82" height="9.78" fill="#e6b5a4"/>
<rect x="138.38" y="64.28" width="9.82" height="9.78" fill="#e6b5a4"/>
<rect x="0.00" y="73.47" width="9.82" height="9.78" fill="#f0eae9"/>
<rect x="9.22" y="73.47" width="9.82" height="9.78" fill="#e6b5a4"/>
<rect x="18.45" y="73.47" width="9.82" height="9.78" fill="#de9a82"/>
<rect x="27.67" y="73.47" width="9.82" height="9.78" fill="#de9a82"/>
<rect x="36.90" y="73.47" width="9.82" height="9.78" fill="#de9a82"/>
<rect x="46.12" y="73.47" width="9.82" height="9.78" fill="#cd6745"/>
<rect x="55.35" y="73.47" width="9.82" height="9.78" fill="#b5252b"/>
<rect x="64.58" y="73.47" width="9.82" height="9.78" fill="#cd6745"/>
<rect x="73.80" y="73.47" width="9.82" height="9.78" fill="#cd6745"/>
<rect x="83.02" y="73.47" width="9.82" height="9.78" fill="#cd6745"/>
<rect x="92.25" y="73.47" width="9.82" height="9.78" fill="#de9a82"/>
<rect x="101.47" y="73.47" width="9.82" height="9.78" fill="#de9a82"/>
<rect x="110.70" y="73.47" width="9.82" height="9.78" fill="#de9a82"/>
<rect x="119.92" y="73.47" width="9.82" height="9.78" fill="#e6b5a4"/>
<rect x="129.15" y="73.47" width="9.82" height="9.78" fill="#e6b5a4"/>
<rect x="138.38" y="73.47" width="9.82" height="9.78" fill="#de9a82"/>
<rect x="0.00" y="82.65" width="9.82" height="9.78" fill="#f0eae9"/>
<rect x="9.22" y="82.65" width="9.82" height="9.78" fill="#f0eae9"/>
<rect x="18.45" y="82.65" width="9.82" height="9.78" fill="#e6b5a4"/>
<rect x="27.67" y="82.65" width="9.82" height="9.78" fill="#e6b5a4"/>
<rect x="36.90" y="82.65" width="9.82" height="9.78" fill="#e6b5a4"/>
<rect x="46.12" y="82.65" width="9.82" height="9.78" fill="#de9a82"/>
<rect x="55.35" y="82.65" width="9.82" height="9.78" fill="#de9a82"/>
<rect x="64.58" y="82.65" width="9.82" height="9.78" fill="#de9a82"/>
<rect x="73.80" y="82.65" width="9.82" height="9.78" fill="#de9a82"/>
<rect x="83.02" y="82.65" width="9.82" height="9.78" fill="#de9a82"/>
<rect x="92.25" y="82.65" width="9.82" height="9.78" fill="#de9a82"/>
<rect x="101.47" y="82.65" width="9.82" height="9.78" fill="#de9a82"/>
<rect x="110.70" y="82.65" width="9.82" height="9.78" fill="#e6b5a4"/>
<rect x="119.92" y="82.65" width="9.82" height="9.78" fill="#e6b5a4"/>
<rect x="129.15" y="82.65" width="9.82" height="9.78" fill="#e6b5a4"/>
<rect x="138.38" y="82.65" width="9.82" height="9.78" fill="#e6b5a4"/>
<rect x="0.00" y="91.83" width="9.82" height="9.78" fill="#f0eae9"/>
<rect x="9.22" y="91.83" width="9.82" height="9.78" fill="#f0eae9"/>
<rect x="18.45" y="91.83" width="9.82" height="9.78" fill="#f0eae9"/>
<rect x="27.67" y="91.83" width="9.82" height="9.78" fill="#f0eae9"/>
<rect x="36.90" y="91.83" width="9.82" height="9.78" fill="#f0eae9"/>
<rect x="46.12" y="91.83" width="9.82" height="9.78" fill="#f0eae9"/>
<rect x="55.35" y="91.83" width="9.82" height="9.78" fill="#f0eae9"/>
<rect x="64.58" y="91.83" width="9.82" height="9.78" fill="#f0eae9"/>
<rect x="73.80" y="91.83" width="9.82" height="9.78" fill="#f0eae9"/>
<rect x="83.02" y="91.83" width="9.82" height="9.78" fill="#f0eae9"/>
<rect x="92.25" y="91.83" width="9.82" height="9.78" fill="#f0eae9"/>
<rect x="101.47" y="91.83" width="9.82" height="9.78" fill="#f0eae9"/>
<rect x="110.70" y="91.83" width="9.82" height="9.78" fill="#f0eae9"/>
<rect x="119.92" y="91.83" width="9.82" height="9.78" fill="#f0eae9"/>
<rect x="129.15" y="91.83" width="9.82" height="9.78" fill="#f0eae9"/>
<rect x="138.38" y="91.83" width="9.82" height="9.78" fill="#f0eae9"/>
<rect x="0.00" y="101.02" width="9.82" height="9.78" fill="#f0eae9"/>
<rect x="55.35" y="101.02" width="9.82" height="9.78" fill="#f0eae9"/>
<rect x="64.58" y="101.02" width="9.82" height="9.78" fill="#f0eae9"/>
<rect x="73.80" y="101.02" width="9.82" height="9.78" fill="#f0eae9"/>
<rect x="83.02" y="101.02" width="9.82" height="9.78" fill="#f0eae9"/>
<rect x="92.25" y="101.02" width="9.82" height="9.78" fill="#f0eae9"/>
<rect x="101.47" y="101.02" width="9.82" height="9.78" fill="#f0eae9"/>
<rect x="119.92" y="101.02" width="9.82" height="9.78" fill="#f0eae9"/>
<rect x="129.15" y="101.02" width="9.82" height="9.78" fill="#f0eae9"/>
<rect x="138.38" y="101.02" width="9.82" height="9.78" fill="#f0eae9"/>
<path d="M7.0 110.2 L6.3 109.3 L5.4 108.7 L4.1 107.6 L2.6 107.1 L1.8 106.2 L0.7 106.0 L0.0 105.1M0.0 98.4 L0.6 99.9 L0.7 101.2 L1.1 102.5 L1.7 103.6 L2.4 104.9 L3.5 105.8 L4.8 106.5 L6.3 107.4 L6.6 107.8 L7.6 107.6 L7.7 106.0 L6.5 104.9 L6.3 103.6 L6.3 102.3 L5.7 100.6 L4.6 99.4 L3.9 98.8 L3.0 97.7 L1.8 97.5 L0.9 96.8 L0.4 95.0 L0.0 94.0M0.0 87.8 L0.0 85.8 L0.9 85.4 L1.8 85.8 L1.7 87.1 L3.1 86.9 L4.2 87.8 L5.4 88.7 L5.7 90.2 L6.6 90.9 L8.1 91.1 L9.0 91.8 L8.9 94.4 L9.8 93.9 L11.4 92.9 L12.5 91.3 L13.5 90.9 L14.8 90.5 L16.4 89.4 L17.0 88.3 L17.2 86.5 L17.0 84.9 L16.4 82.1 L15.3 80.6 L14.0 79.5 L12.4 77.7 L11.8 76.6 L10.5 75.5 L10.9 73.7 L12.2 72.7 L12.5 71.8 L14.2 71.1 L15.5 70.5 L16.8 70.7 L17.7 70.3 L18.3 72.7 L19.0 72.9 L19.4 72.4 L19.2 71.3 L20.3 70.7 L22.1 70.2 L24.0 69.8 L25.1 68.5 L26.2 69.2 L27.7 68.5 L29.5 68.1 L31.2 67.0 L32.8 66.1 L33.6 65.0 L34.9 64.3 L36.0 63.2 L36.3 61.9 L37.3 60.6 L38.4 59.0 L39.7 57.9 L40.4 56.6 L40.4 55.3 L39.1 54.5 L38.4 54.7 L39.5 53.8 L40.4 53.4 L40.4 52.2 L38.7 51.4 L39.5 50.5 L38.4 49.0 L37.5 47.4 L35.4 46.1 L35.8 45.2 L37.3 44.1 L38.4 43.2 L39.9 42.6 L41.5 42.4 L41.7 41.5 L39.7 41.3 L38.4 40.8 L36.5 41.7 L35.1 41.7 L34.9 40.4 L32.8 39.3 L32.7 38.4 L33.9 38.4 L35.4 37.8 L36.7 36.7 L38.6 35.4 L40.2 35.1 L41.0 35.8 L39.7 37.5 L39.1 38.9 L40.2 38.6 L42.4 37.5 L44.6 36.9 L45.8 37.5 L46.7 37.8 L46.1 39.3 L45.8 40.2 L46.9 41.0 L48.2 41.0 L49.3 41.9 L48.9 43.0 L48.9 44.3 L48.7 45.9 L48.5 46.8 L49.8 47.0 L51.1 46.3 L52.8 46.1 L53.9 45.5 L54.4 44.1 L54.2 42.2 L53.3 40.8 L52.2 39.3 L50.7 38.0 L50.7 37.1 L52.2 36.5 L53.9 35.4 L54.8 34.2 L55.4 33.1 L56.6 32.5 L57.6 31.6 L58.9 31.0 L59.6 30.7 L61.1 31.8 L62.7 31.2 L64.8 30.1 L66.1 28.7 L67.9 27.2 L69.6 25.7 L70.8 23.9 L72.3 22.4 L74.2 21.1 L74.5 19.3 L74.9 17.4 L75.6 15.6 L76.4 14.3 L76.0 12.7 L74.4 12.5 L73.4 10.7 L71.4 10.5 L69.6 11.2 L68.6 11.8 L67.7 9.9 L65.1 9.6 L66.1 8.8 L68.6 7.0 L71.0 5.5 L73.8 3.7 L75.1 2.2 L77.9 1.5 L79.7 1.1 L83.9 1.1 L86.7 1.3 L89.5 1.3 L90.8 0.6 L93.2 0.7 L94.6 1.8 L96.5 1.8 L98.3 1.5 L100.2 0.9 L101.8 1.3 L101.3 0.0M113.1 0.0 L110.3 1.8 L107.0 3.5 L104.8 5.3 L102.8 7.3 L102.6 9.2 L103.0 11.0 L103.5 12.9 L104.2 14.7 L104.6 16.7 L106.1 15.6 L107.6 14.3 L108.1 12.9 L110.7 12.5 L110.5 11.0 L113.8 9.9 L114.6 9.6 L113.8 8.6 L114.6 7.2 L116.8 7.0 L115.9 6.1 L116.6 4.6 L115.3 4.0 L116.8 2.8 L117.7 1.8 L119.2 0.2 L119.6 0.0M121.8 0.0 L122.3 0.4 L123.2 0.0M128.8 0.0 L129.7 0.2 L130.1 0.0M77.5 25.7 L77.3 23.9 L77.7 22.0 L77.5 20.2 L77.9 18.4 L77.7 16.5 L76.9 14.7 L77.3 12.9 L78.0 11.9 L78.8 10.5 L79.3 11.9 L79.9 13.8 L79.7 15.6 L80.6 17.4 L81.4 19.5 L82.5 20.8 L80.8 19.8 L79.2 20.0 L78.6 22.0 L79.3 23.5 L80.3 24.2 L80.3 25.5 L79.0 24.6 L78.2 24.6ZM74.2 34.2 L73.4 32.7 L74.4 31.2 L76.2 30.7 L76.8 28.8 L77.1 27.0 L77.5 26.6 L79.2 28.1 L80.8 29.0 L82.7 29.6 L83.6 28.8 L83.2 29.9 L84.5 30.7 L83.0 31.2 L81.2 31.4 L79.9 32.5 L79.7 33.1 L78.4 32.5 L77.1 32.0 L75.6 32.5 L74.5 32.3 L74.7 33.1 L76.0 33.4 L75.1 34.0ZM76.4 34.2 L76.6 35.8 L77.5 37.5 L76.8 39.7 L75.6 40.0 L75.5 42.2 L74.9 43.5 L75.3 44.6 L74.4 45.5 L73.6 46.1 L73.6 45.0 L73.1 45.5 L72.1 45.7 L71.6 46.7 L71.0 45.9 L70.5 46.7 L68.8 46.7 L68.1 45.9 L68.1 47.2 L67.0 47.9 L66.1 48.9 L64.8 47.9 L64.9 47.2 L64.6 46.7 L62.7 46.7 L60.9 47.2 L59.4 47.9 L57.2 47.9 L57.0 47.2 L57.9 46.8 L59.6 45.5 L61.1 44.8 L63.1 44.8 L65.1 44.8 L66.2 44.6 L66.6 43.7 L67.7 42.6 L67.9 41.5 L68.8 41.3 L68.3 42.4 L69.0 42.6 L70.5 41.9 L71.6 40.8 L72.7 40.0 L73.4 38.8 L73.8 37.5 L73.4 36.9 L73.8 35.8 L74.4 34.7 L75.1 35.1 L75.8 34.7 L75.5 34.0ZM60.1 47.8 L60.9 47.8 L62.0 47.2 L63.5 47.2 L64.0 48.1 L63.1 49.0 L62.0 48.7 L60.9 50.0 L60.0 49.6 L59.8 48.7ZM57.0 47.9 L58.5 48.5 L58.9 49.2 L58.9 50.3 L57.9 52.2 L57.2 52.9 L56.6 53.3 L55.7 52.7 L55.7 51.4 L56.5 50.3 L55.7 50.1 L55.0 50.1 L54.8 49.2 L55.4 48.7 L56.1 48.3ZM39.7 63.7 L40.6 64.3 L40.2 65.2 L39.9 66.3 L39.5 67.8 L38.6 69.8 L37.5 68.7 L37.1 67.6 L37.3 66.5 L38.2 65.0 L38.9 64.1ZM16.1 74.8 L17.0 73.7 L18.4 73.3 L19.7 73.3 L20.3 74.0 L19.4 75.7 L18.4 76.4 L17.5 76.8 L16.1 76.2 L15.9 75.3ZM38.0 76.2 L38.7 76.0 L40.4 76.6 L41.0 76.2 L41.3 78.4 L41.0 80.3 L39.9 81.0 L39.9 82.7 L40.0 83.9 L41.1 84.1 L42.3 84.3 L43.0 84.9 L44.1 84.9 L44.5 86.3 L44.5 87.1 L43.2 86.5 L42.4 85.8 L41.7 85.8 L41.5 84.7 L40.2 84.7 L39.3 85.2 L38.2 84.7 L38.0 83.8 L38.6 83.4 L38.0 83.0 L37.1 83.0 L36.7 81.2 L36.5 80.3 L37.5 80.6 L37.5 79.7 L37.6 78.1ZM37.5 85.6 L38.9 85.6 L39.7 86.9 L39.1 87.8 L38.4 86.9ZM31.7 94.8 L33.2 93.3 L35.1 91.3 L36.0 89.4 L36.3 90.9 L34.7 92.8 L33.0 94.2ZM44.8 87.2 L46.7 87.2 L47.2 88.9 L47.4 89.8 L46.1 89.4 L45.8 88.5ZM45.0 89.3 L46.1 89.6 L46.5 91.3 L45.8 91.6 L45.0 90.2ZM40.6 88.3 L42.6 88.9 L42.1 90.2 L40.6 90.9 L40.4 89.3ZM41.3 91.8 L42.8 90.2 L43.4 90.7 L42.8 92.9 L42.3 93.5 L41.3 92.4ZM43.2 92.8 L43.7 91.3 L44.3 89.6 L44.1 91.3ZM43.9 92.4 L44.8 91.6 L45.4 92.2 L44.6 92.6ZM42.8 87.2 L44.1 87.8 L43.5 88.3ZM46.9 92.2 L48.3 93.1 L48.7 95.1 L49.1 96.8 L48.3 98.6 L47.4 97.5 L47.2 97.0 L46.9 97.9 L47.4 99.4 L46.7 99.9 L45.4 99.2 L44.3 98.3 L44.6 96.8 L43.7 96.1 L43.2 96.6 L42.1 96.4 L40.8 97.5 L40.8 96.2 L41.5 95.3 L43.0 94.4 L43.9 95.3 L44.8 94.6 L45.8 94.4 L46.3 93.7ZM16.8 110.2 L16.6 108.4 L17.3 106.7 L19.0 107.1 L20.7 107.4 L21.0 105.8 L23.1 104.7 L24.5 103.6 L25.6 101.9 L27.3 101.0 L28.8 99.9 L29.7 98.8 L30.8 97.3 L31.7 97.9 L32.7 98.6 L32.7 99.5 L34.3 100.1 L35.4 100.6 L33.8 101.2 L34.1 102.1 L32.7 102.5 L32.3 103.8 L32.8 105.1 L33.2 106.2 L33.0 107.1 L34.9 108.4 L33.0 108.7 L32.3 110.2M36.7 110.2 L37.1 108.7 L38.6 107.8 L40.6 108.4 L42.4 108.5 L44.8 108.4 L46.1 107.3 L46.5 107.6 L45.2 109.5 L43.4 109.6 L40.6 109.3 L38.7 109.5 L37.5 110.2M50.7 110.2 L50.7 108.4 L51.7 106.3 L53.0 107.4 L51.7 108.5 L53.0 109.5 L52.0 109.6 L51.5 110.2M48.3 49.0 L49.6 48.7 L49.6 49.0 L48.5 49.2ZM53.9 47.6 L54.4 46.5 L54.2 47.2ZM70.5 39.9 L71.0 40.2 L71.2 40.8 L70.7 40.6Z" fill="none" stroke="#000" stroke-width="0.9" stroke-linejoin="round" stroke-linecap="round"/><path d="M51.5 61.7l0.7 -0.9M54.2 58.2l0.7 -0.6M44.6 65.4l0.7 -0.2M46.7 64.7l0.5 -0.0M56.3 54.4l0.6 -0.0M57.2 54.0l0.0 -0.6M82.5 85.6l0.5 -0.4M84.3 82.5l0.5 -0.4M84.5 79.5l0.5 -0.4M84.3 77.0l0.5 -0.4M63.7 96.6l0.2 -0.6M70.3 92.8l0.5 -0.2M95.6 96.6l0.5 -0.0M107.4 97.5l0.5 -0.0M116.2 100.5l0.5 -0.0M124.5 93.7l0.6 0.4M127.3 96.4l0.5 -0.0M131.4 97.2l0.6 -0.0M132.7 99.2l0.5 -0.2M134.5 107.4l0.2 -0.7M134.7 104.7l0.5 -0.4M123.4 89.4l0.5 0.0M77.9 60.6l0.5 -0.4M76.2 64.7l0.5 -0.2M73.4 49.4l0.5 -0.2M72.7 46.5l0.5 -0.2M7.4 108.4l0.9 -0.0M8.3 109.8l0.6 0.4M14.9 103.0l0.5 -0.2M11.4 104.5l0.5 -0.0M10.5 104.9l0.5 -0.0M40.4 72.7l0.5 -0.4M39.7 74.8l0.5 0.0M48.0 92.2l0.2 -0.6M36.9 88.2l0.6 -0.4M36.7 88.3l0.4 0.6M38.7 99.2l0.6 0.0M36.9 100.6l0.6 0.2M46.9 103.6l0.5 -0.4M49.4 102.5l0.5 -0.4M52.4 106.0l0.2 -0.6M31.9 95.5l0.5 0.4M40.6 87.2l0.4 0.6M41.5 87.4l0.5 0.0" fill="none" stroke="#222" stroke-width="0.75" stroke-linecap="round" opacity="0.75"/><path d="M84.5 29.4l1.1 -0.7M87.8 27.6l1.7 -0.9M92.1 25.7l0.9 -0.6M95.9 23.9l0.6 -0.4M98.0 21.7l0.5 -0.4M100.6 19.7l0.5 -0.4M103.0 17.8l0.7 -0.7M104.1 16.9l0.5 -0.2M122.1 9.2l0.9 0.7M124.7 9.7l0.6 0.4M134.5 13.0l0.9 -0.0M135.8 14.0l0.6 -0.0M143.0 14.7l0.7 0.4M145.8 15.6l0.7 0.4" fill="none" stroke="#000" stroke-width="1" stroke-linecap="round"/>
</svg>
<rect x="0" y="0" width="147.6" height="110.2" fill="none" stroke="#262626" stroke-width="1"/>
<path d="M0 91.83h-3.4" stroke="#262626" stroke-width="0.8"/>
<text x="-6.3" y="94.33" font-size="7.1" text-anchor="end">10°N</text>
<path d="M0 55.10h-3.4" stroke="#262626" stroke-width="0.8"/>
<text x="-6.3" y="57.60" font-size="7.1" text-anchor="end">30°N</text>
<path d="M0 18.37h-3.4" stroke="#262626" stroke-width="0.8"/>
<text x="-6.3" y="20.87" font-size="7.1" text-anchor="end">50°N</text>
<path d="M0.00 110.2v3.4" stroke="#262626" stroke-width="0.8"/>
<text x="0.00" y="122.80" font-size="7.1" text-anchor="middle">100°E</text>
<path d="M73.80 110.2v3.4" stroke="#262626" stroke-width="0.8"/>
<text x="73.80" y="122.80" font-size="7.1" text-anchor="middle">140°E</text>
<path d="M147.60 110.2v3.4" stroke="#262626" stroke-width="0.8"/>
<text x="147.60" y="122.80" font-size="7.1" text-anchor="middle">180°</text>
<text x="0.2" y="-1.7" font-size="9.0">(h) GloSea6(2001-2016)</text>
</g>
<rect x="32.60" y="458.5" width="80.40" height="5.60" fill="#f8f3f2"/>
<rect x="112.80" y="458.5" width="80.40" height="5.60" fill="#eac2b5"/>
<rect x="193.00" y="458.5" width="80.40" height="5.60" fill="#da8c70"/>
<rect x="273.20" y="458.5" width="80.40" height="5.60" fill="#ca5d3f"/>
<rect x="353.40" y="458.5" width="80.40" height="5.60" fill="#b5252b"/>
<rect x="433.60" y="458.5" width="80.40" height="5.60" fill="#881331"/>
<path d="M513.8 458.5L538.5 461.3L513.8 464.1Z" fill="#4e0a24"/>
<path d="M32.6 458.5H513.8L538.5 461.3L513.8 464.1H32.6Z" fill="none" stroke="#262626" stroke-width="0.9"/>
<path d="M32.60 464.1v2.7" stroke="#262626" stroke-width="0.8"/>
<text x="32.60" y="475.50" font-size="7.6" text-anchor="middle">0</text>
<path d="M112.80 464.1v2.7" stroke="#262626" stroke-width="0.8"/>
<text x="112.80" y="475.50" font-size="7.6" text-anchor="middle">2</text>
<path d="M193.00 464.1v2.7" stroke="#262626" stroke-width="0.8"/>
<text x="193.00" y="475.50" font-size="7.6" text-anchor="middle">5</text>
<path d="M273.20 464.1v2.7" stroke="#262626" stroke-width="0.8"/>
<text x="273.20" y="475.50" font-size="7.6" text-anchor="middle">10</text>
<path d="M353.40 464.1v2.7" stroke="#262626" stroke-width="0.8"/>
<text x="353.40" y="475.50" font-size="7.6" text-anchor="middle">15</text>
<path d="M433.60 464.1v2.7" stroke="#262626" stroke-width="0.8"/>
<text x="433.60" y="475.50" font-size="7.6" text-anchor="middle">20</text>
<path d="M513.80 464.1v2.7" stroke="#262626" stroke-width="0.8"/>
<text x="513.80" y="475.50" font-size="7.6" text-anchor="middle">30</text>
</svg>
</body></html>
